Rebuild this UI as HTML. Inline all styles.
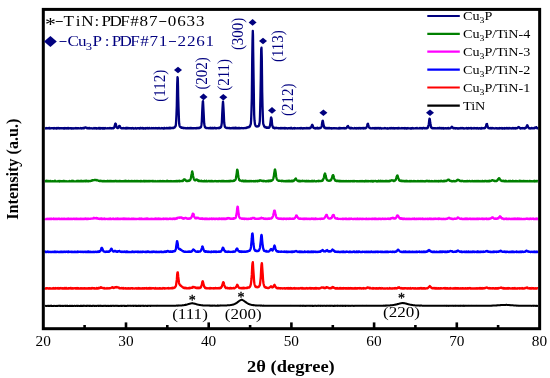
<!DOCTYPE html>
<html><head><meta charset="utf-8"><style>
html,body{margin:0;padding:0;background:#fff;}
svg{display:block;}
.ser{font-family:"Liberation Serif","Times New Roman",serif;}
.mono{font-family:"Liberation Mono","Noto Sans CJK SC",monospace;}
</style></head><body>
<svg width="550" height="378" viewBox="0 0 550 378">
<rect width="550" height="378" fill="#fff"/>
<polyline fill="none" stroke="#00007f" stroke-width="2.3" stroke-linejoin="round" points="45.0,128.46 45.2,128.42 45.5,128.21 45.8,128.53 46.0,128.41 46.2,127.94 46.5,128.10 46.8,128.22 47.0,128.31 47.2,128.37 47.5,128.18 47.8,128.18 48.0,128.37 48.2,128.07 48.5,128.25 48.8,128.26 49.0,128.44 49.2,128.43 49.5,128.01 49.8,128.44 50.0,127.96 50.2,128.24 50.5,128.33 50.8,128.43 51.0,128.35 51.2,128.29 51.5,128.15 51.8,128.19 52.0,128.14 52.2,128.04 52.5,128.17 52.8,128.11 53.0,128.38 53.2,128.15 53.5,128.52 53.8,128.35 54.0,128.47 54.2,128.01 54.5,128.22 54.8,128.18 55.0,128.12 55.2,128.41 55.5,128.38 55.8,128.23 56.0,128.45 56.2,128.24 56.5,128.53 56.8,128.49 57.0,128.03 57.2,128.37 57.5,128.27 57.8,128.33 58.0,128.00 58.2,128.41 58.5,128.43 58.8,127.96 59.0,128.26 59.2,128.40 59.5,128.50 59.8,128.21 60.0,128.26 60.2,128.21 60.5,128.24 60.8,128.43 61.0,128.29 61.2,128.44 61.5,128.27 61.8,128.39 62.0,128.42 62.2,128.42 62.5,128.09 62.8,128.34 63.0,128.40 63.2,128.10 63.5,128.46 63.8,128.16 64.0,128.41 64.2,128.09 64.5,128.04 64.8,128.44 65.0,128.05 65.2,128.41 65.5,128.29 65.8,128.17 66.0,128.44 66.2,128.14 66.5,128.11 66.8,128.45 67.0,128.11 67.2,128.41 67.5,128.38 67.8,127.97 68.0,128.54 68.2,128.12 68.5,128.44 68.8,127.97 69.0,128.22 69.2,128.24 69.5,128.42 69.8,128.40 70.0,128.27 70.2,128.06 70.5,128.06 70.8,128.07 71.0,128.05 71.2,128.52 71.5,128.44 71.8,128.25 72.0,128.45 72.2,128.26 72.5,128.50 72.8,128.40 73.0,128.38 73.2,128.37 73.5,128.51 73.8,128.06 74.0,128.05 74.2,128.31 74.5,128.45 74.8,128.45 75.0,128.38 75.2,128.09 75.5,128.43 75.8,128.42 76.0,128.01 76.2,128.48 76.5,128.40 76.8,128.43 77.0,128.27 77.2,128.44 77.5,128.48 77.8,128.18 78.0,128.43 78.2,128.42 78.5,128.13 78.8,128.14 79.0,128.36 79.2,128.37 79.5,128.41 79.8,128.33 80.0,128.34 80.2,128.46 80.5,128.43 80.8,127.98 81.0,128.07 81.2,128.43 81.5,128.50 81.8,128.28 82.0,128.14 82.2,128.18 82.5,128.47 82.8,128.41 83.0,128.06 83.2,128.37 83.5,127.94 83.8,128.41 84.0,128.34 84.2,128.01 84.5,127.61 84.8,127.55 85.0,127.50 85.2,127.39 85.5,127.43 85.8,127.70 86.0,127.70 86.2,127.89 86.5,128.08 86.8,127.89 87.0,128.22 87.2,128.29 87.5,128.40 87.8,127.90 88.0,128.09 88.2,128.23 88.5,128.21 88.8,128.35 89.0,127.98 89.2,128.50 89.5,128.01 89.8,128.39 90.0,128.42 90.2,128.46 90.5,128.38 90.8,128.27 91.0,128.45 91.2,128.43 91.5,128.26 91.8,128.39 92.0,128.34 92.2,128.44 92.5,128.46 92.8,128.53 93.0,128.36 93.2,128.40 93.5,128.11 93.8,128.38 94.0,128.06 94.2,128.24 94.5,128.32 94.8,128.48 95.0,128.29 95.2,128.04 95.5,128.43 95.8,128.49 96.0,128.13 96.2,128.49 96.5,128.42 96.8,128.13 97.0,128.52 97.2,128.41 97.5,128.32 97.8,128.46 98.0,128.37 98.2,128.47 98.5,127.96 98.8,128.27 99.0,128.46 99.2,128.52 99.5,127.97 99.8,127.97 100.0,128.18 100.2,128.45 100.5,128.28 100.8,128.47 101.0,127.99 101.2,128.27 101.5,128.32 101.8,128.22 102.0,128.26 102.2,128.26 102.5,128.51 102.8,128.19 103.0,127.95 103.2,128.44 103.5,128.29 103.8,128.24 104.0,128.38 104.2,128.50 104.5,128.17 104.8,128.15 105.0,128.42 105.2,127.99 105.5,128.30 105.8,128.13 106.0,128.40 106.2,128.35 106.5,128.45 106.8,128.43 107.0,128.41 107.2,128.16 107.5,128.41 107.8,128.40 108.0,128.13 108.2,128.22 108.5,128.33 108.8,128.32 109.0,128.40 109.2,128.06 109.5,128.15 109.8,127.94 110.0,128.29 110.2,128.29 110.5,128.16 110.8,128.03 111.0,128.27 111.2,128.47 111.5,128.18 111.8,128.26 112.0,128.39 112.2,128.40 112.5,128.15 112.8,128.25 113.0,127.86 113.2,127.98 113.5,128.23 113.8,128.06 114.0,127.82 114.2,127.53 114.5,126.60 114.8,125.66 115.0,124.62 115.2,123.89 115.5,123.56 115.8,123.79 116.0,124.73 116.2,125.96 116.5,126.84 116.8,127.48 117.0,127.61 117.2,127.99 117.5,128.10 117.8,127.83 118.0,128.11 118.2,127.59 118.5,127.51 118.8,126.92 119.0,126.60 119.2,125.82 119.5,125.87 119.8,126.15 120.0,126.53 120.2,127.13 120.5,127.62 120.8,127.90 121.0,128.05 121.2,127.95 121.5,128.24 121.8,128.44 122.0,128.32 122.2,128.24 122.5,128.19 122.8,128.36 123.0,128.11 123.2,128.09 123.5,127.94 123.8,128.38 124.0,128.10 124.2,128.33 124.5,128.26 124.8,128.20 125.0,128.40 125.2,128.38 125.5,128.48 125.8,127.98 126.0,127.94 126.2,128.16 126.5,127.92 126.8,128.43 127.0,127.92 127.2,128.47 127.5,128.45 127.8,128.43 128.0,127.95 128.2,128.20 128.5,128.09 128.8,127.98 129.0,128.34 129.2,128.13 129.5,128.39 129.8,128.20 130.0,128.18 130.2,128.30 130.5,128.13 130.8,128.39 131.0,128.17 131.2,128.49 131.5,128.30 131.8,128.05 132.0,128.06 132.2,128.40 132.5,128.46 132.8,127.92 133.0,128.24 133.2,128.49 133.5,128.38 133.8,128.48 134.0,128.22 134.2,128.51 134.5,128.46 134.8,128.41 135.0,128.31 135.2,128.28 135.5,128.40 135.8,128.05 136.0,128.54 136.2,128.50 136.5,128.47 136.8,128.49 137.0,128.29 137.2,128.20 137.5,128.42 137.8,128.31 138.0,128.10 138.2,128.07 138.5,128.31 138.8,128.13 139.0,128.41 139.2,128.48 139.5,128.17 139.8,128.26 140.0,128.43 140.2,127.91 140.5,128.32 140.8,128.40 141.0,128.03 141.2,128.12 141.5,128.32 141.8,128.31 142.0,128.03 142.2,127.98 142.5,128.13 142.8,127.98 143.0,128.48 143.2,128.40 143.5,128.16 143.8,128.34 144.0,128.50 144.2,128.42 144.5,128.44 144.8,128.14 145.0,128.44 145.2,128.32 145.5,128.49 145.8,128.26 146.0,127.99 146.2,128.35 146.5,128.41 146.8,128.32 147.0,128.45 147.2,128.42 147.5,128.08 147.8,128.39 148.0,128.05 148.2,128.46 148.5,128.27 148.8,128.43 149.0,128.14 149.2,127.98 149.5,127.88 149.8,128.39 150.0,128.34 150.2,128.47 150.5,128.44 150.8,128.47 151.0,128.34 151.2,128.46 151.5,128.27 151.8,128.05 152.0,128.38 152.2,128.19 152.5,128.37 152.8,128.27 153.0,128.39 153.2,128.29 153.5,128.01 153.8,128.28 154.0,128.11 154.2,128.37 154.5,128.40 154.8,128.27 155.0,128.29 155.2,128.39 155.5,128.10 155.8,127.91 156.0,128.41 156.2,128.41 156.5,128.14 156.8,128.19 157.0,128.28 157.2,128.30 157.5,128.23 157.8,128.47 158.0,128.38 158.2,128.07 158.5,128.19 158.8,127.94 159.0,128.42 159.2,128.37 159.5,128.01 159.8,128.38 160.0,128.36 160.2,128.48 160.5,128.41 160.8,128.37 161.0,128.32 161.2,128.07 161.5,128.01 161.8,128.46 162.0,128.41 162.2,128.28 162.5,128.21 162.8,128.47 163.0,128.48 163.2,128.48 163.5,128.20 163.8,128.36 164.0,128.07 164.2,128.45 164.5,127.94 164.8,127.92 165.0,128.29 165.2,128.40 165.5,128.32 165.8,128.35 166.0,128.39 166.2,128.36 166.5,127.98 166.8,127.84 167.0,128.38 167.2,128.29 167.5,128.27 167.8,128.35 168.0,128.05 168.2,128.26 168.5,128.26 168.8,127.94 169.0,128.21 169.2,127.90 169.5,127.87 169.8,128.28 170.0,128.23 170.2,127.77 170.5,127.82 170.8,128.33 171.0,127.98 171.2,127.99 171.5,127.85 171.8,128.04 172.0,128.18 172.2,128.10 172.5,128.02 172.8,128.03 173.0,127.57 173.2,127.63 173.5,127.95 173.8,127.77 174.0,127.67 174.2,127.63 174.5,127.57 174.8,127.28 175.0,127.07 175.2,126.34 175.5,126.27 175.8,125.39 176.0,123.19 176.2,120.11 176.5,114.18 176.8,105.43 177.0,94.66 177.2,84.12 177.5,77.23 177.8,78.29 178.0,86.01 178.2,96.83 178.5,107.24 178.8,115.54 179.0,120.68 179.2,123.99 179.5,125.54 179.8,126.38 180.0,126.81 180.2,126.89 180.5,126.96 180.8,127.27 181.0,127.25 181.2,127.72 181.5,127.79 181.8,127.58 182.0,127.93 182.2,127.91 182.5,127.66 182.8,128.06 183.0,128.00 183.2,127.98 183.5,128.04 183.8,127.72 184.0,128.23 184.2,128.01 184.5,128.20 184.8,128.14 185.0,127.89 185.2,128.23 185.5,128.18 185.8,128.28 186.0,128.34 186.2,128.39 186.5,128.20 186.8,128.31 187.0,128.28 187.2,128.17 187.5,127.85 187.8,128.17 188.0,128.37 188.2,128.36 188.5,128.14 188.8,128.10 189.0,128.00 189.2,128.30 189.5,128.25 189.8,128.41 190.0,128.40 190.2,127.85 190.5,127.91 190.8,128.32 191.0,128.39 191.2,128.35 191.5,127.95 191.8,128.28 192.0,128.34 192.2,128.37 192.5,128.27 192.8,128.35 193.0,128.17 193.2,128.07 193.5,128.15 193.8,128.39 194.0,128.29 194.2,128.19 194.5,128.20 194.8,128.07 195.0,128.24 195.2,128.37 195.5,128.06 195.8,128.04 196.0,128.34 196.2,128.16 196.5,128.02 196.8,128.03 197.0,128.30 197.2,127.89 197.5,128.17 197.8,128.15 198.0,128.10 198.2,128.14 198.5,127.88 198.8,128.17 199.0,127.70 199.2,127.59 199.5,127.70 199.8,127.99 200.0,127.57 200.2,127.67 200.5,127.62 200.8,127.20 201.0,126.94 201.2,126.04 201.5,124.39 201.8,121.52 202.0,116.99 202.2,111.62 202.5,105.77 202.8,101.57 203.0,101.10 203.2,104.34 203.5,110.28 203.8,116.11 204.0,120.27 204.2,123.46 204.5,125.68 204.8,126.26 205.0,127.14 205.2,127.53 205.5,127.26 205.8,127.62 206.0,127.97 206.2,127.67 206.5,128.02 206.8,128.09 207.0,128.16 207.2,128.15 207.5,128.18 207.8,127.93 208.0,127.98 208.2,127.88 208.5,128.13 208.8,128.15 209.0,128.31 209.2,128.32 209.5,128.24 209.8,127.96 210.0,128.20 210.2,128.20 210.5,127.84 210.8,128.40 211.0,128.05 211.2,128.01 211.5,128.22 211.8,128.11 212.0,128.37 212.2,127.88 212.5,128.31 212.8,128.01 213.0,128.32 213.2,128.13 213.5,128.03 213.8,128.34 214.0,128.28 214.2,128.19 214.5,127.79 214.8,127.99 215.0,127.99 215.2,128.08 215.5,128.31 215.8,127.97 216.0,128.29 216.2,128.30 216.5,128.14 216.8,128.09 217.0,128.24 217.2,128.19 217.5,128.07 217.8,127.96 218.0,128.04 218.2,128.07 218.5,128.09 218.8,127.83 219.0,128.19 219.2,127.94 219.5,127.90 219.8,127.41 220.0,127.92 220.2,127.83 220.5,127.55 220.8,127.04 221.0,127.18 221.2,126.56 221.5,124.92 221.8,123.05 222.0,119.34 222.2,114.30 222.5,108.64 222.8,103.74 223.0,101.70 223.2,103.60 223.5,108.33 223.8,114.05 224.0,119.12 224.2,122.77 224.5,124.71 224.8,126.55 225.0,126.70 225.2,127.25 225.5,127.62 225.8,127.57 226.0,127.91 226.2,127.96 226.5,128.00 226.8,127.90 227.0,127.63 227.2,128.13 227.5,128.16 227.8,128.05 228.0,128.17 228.2,128.21 228.5,128.10 228.8,127.86 229.0,128.22 229.2,128.34 229.5,127.99 229.8,128.00 230.0,128.27 230.2,128.33 230.5,128.14 230.8,128.37 231.0,128.21 231.2,128.20 231.5,128.32 231.8,128.16 232.0,127.86 232.2,127.96 232.5,128.15 232.8,128.39 233.0,127.87 233.2,128.23 233.5,128.37 233.8,127.91 234.0,128.32 234.2,127.98 234.5,128.31 234.8,127.86 235.0,128.43 235.2,128.30 235.5,127.81 235.8,128.41 236.0,128.29 236.2,127.84 236.5,127.89 236.8,128.27 237.0,128.20 237.2,128.27 237.5,128.35 237.8,127.91 238.0,127.92 238.2,128.27 238.5,128.39 238.8,127.94 239.0,128.12 239.2,128.18 239.5,127.85 239.8,128.34 240.0,128.36 240.2,128.29 240.5,128.36 240.8,128.20 241.0,128.08 241.2,128.21 241.5,128.04 241.8,127.84 242.0,128.24 242.2,128.24 242.5,128.08 242.8,128.16 243.0,128.15 243.2,128.16 243.5,128.04 243.8,128.24 244.0,128.05 244.2,128.08 244.5,128.07 244.8,128.01 245.0,127.96 245.2,127.96 245.5,127.99 245.8,128.10 246.0,128.07 246.2,128.02 246.5,127.87 246.8,127.81 247.0,127.54 247.2,127.24 247.5,127.64 247.8,127.39 248.0,127.37 248.2,127.03 248.5,127.04 248.8,127.38 249.0,127.13 249.2,126.62 249.5,126.52 249.8,126.57 250.0,126.24 250.2,125.29 250.5,124.93 250.8,123.90 251.0,121.68 251.2,117.98 251.5,110.07 251.8,98.24 252.0,80.73 252.2,60.28 252.5,41.23 252.8,30.79 253.0,35.53 253.2,52.15 253.5,72.86 253.8,91.91 254.0,106.21 254.2,115.11 254.5,120.44 254.8,122.77 255.0,124.37 255.2,124.81 255.5,125.70 255.8,126.05 256.0,126.32 256.2,126.26 256.5,126.40 256.8,126.50 257.0,126.60 257.2,126.35 257.5,126.38 257.8,126.24 258.0,126.47 258.2,126.16 258.5,126.20 258.8,125.85 259.0,125.56 259.2,124.96 259.5,123.53 259.8,121.07 260.0,115.92 260.2,107.87 260.5,94.94 260.8,78.32 261.0,61.51 261.2,49.13 261.5,47.66 261.8,58.40 262.0,75.04 262.2,91.99 262.5,105.74 262.8,114.98 263.0,120.14 263.2,123.46 263.5,124.69 263.8,125.43 264.0,125.67 264.2,126.53 264.5,126.49 264.8,126.83 265.0,127.15 265.2,127.41 265.5,127.13 265.8,127.30 266.0,127.07 266.2,127.59 266.5,127.77 266.8,127.81 267.0,127.79 267.2,127.56 267.5,127.42 267.8,127.83 268.0,127.81 268.2,127.49 268.5,127.42 268.8,127.77 269.0,127.50 269.2,127.54 269.5,127.11 269.8,126.30 270.0,125.56 270.2,124.22 270.5,122.06 270.8,119.41 271.0,117.64 271.2,117.54 271.5,118.32 271.8,120.44 272.0,123.07 272.2,125.01 272.5,126.22 272.8,127.08 273.0,127.20 273.2,127.79 273.5,127.90 273.8,127.89 274.0,127.64 274.2,127.81 274.5,128.20 274.8,127.86 275.0,128.24 275.2,128.09 275.5,128.07 275.8,128.09 276.0,127.71 276.2,128.19 276.5,128.09 276.8,127.86 277.0,128.00 277.2,128.13 277.5,128.09 277.8,128.17 278.0,127.92 278.2,128.27 278.5,128.29 278.8,128.41 279.0,128.09 279.2,128.42 279.5,128.39 279.8,128.20 280.0,128.34 280.2,128.16 280.5,128.01 280.8,127.94 281.0,128.46 281.2,128.37 281.5,128.03 281.8,128.29 282.0,128.20 282.2,128.14 282.5,128.25 282.8,128.35 283.0,127.94 283.2,128.38 283.5,128.43 283.8,128.36 284.0,128.06 284.2,127.89 284.5,128.02 284.8,128.44 285.0,128.30 285.2,128.46 285.5,128.23 285.8,128.01 286.0,128.27 286.2,128.42 286.5,128.25 286.8,128.42 287.0,128.45 287.2,128.48 287.5,128.27 287.8,128.31 288.0,128.44 288.2,128.39 288.5,128.16 288.8,128.08 289.0,128.32 289.2,128.18 289.5,128.28 289.8,128.41 290.0,128.28 290.2,127.94 290.5,128.20 290.8,128.47 291.0,127.91 291.2,128.48 291.5,128.05 291.8,128.37 292.0,128.41 292.2,128.39 292.5,128.50 292.8,128.51 293.0,128.46 293.2,128.14 293.5,128.36 293.8,128.45 294.0,128.50 294.2,128.20 294.5,127.94 294.8,128.42 295.0,128.43 295.2,128.24 295.5,128.28 295.8,128.11 296.0,128.34 296.2,128.45 296.5,128.46 296.8,128.41 297.0,128.31 297.2,128.41 297.5,128.16 297.8,128.27 298.0,128.43 298.2,128.31 298.5,128.34 298.8,128.16 299.0,128.32 299.2,128.36 299.5,128.04 299.8,128.05 300.0,128.20 300.2,127.91 300.5,128.50 300.8,128.41 301.0,128.25 301.2,128.36 301.5,127.93 301.8,128.09 302.0,128.19 302.2,128.20 302.5,128.52 302.8,128.22 303.0,128.28 303.2,128.47 303.5,128.23 303.8,128.39 304.0,128.38 304.2,128.15 304.5,128.17 304.8,128.45 305.0,128.46 305.2,128.37 305.5,128.33 305.8,128.23 306.0,128.01 306.2,128.37 306.5,127.93 306.8,128.39 307.0,128.13 307.2,128.39 307.5,128.39 307.8,127.98 308.0,128.23 308.2,128.39 308.5,128.20 308.8,128.31 309.0,128.41 309.2,127.81 309.5,128.41 309.8,128.40 310.0,128.09 310.2,128.00 310.5,127.76 310.8,127.57 311.0,127.63 311.2,127.15 311.5,126.36 311.8,125.69 312.0,124.98 312.2,124.77 312.5,125.21 312.8,125.89 313.0,126.27 313.2,127.38 313.5,127.80 313.8,127.69 314.0,128.11 314.2,127.87 314.5,128.23 314.8,128.38 315.0,128.37 315.2,128.17 315.5,128.24 315.8,128.42 316.0,127.97 316.2,128.42 316.5,128.34 316.8,128.23 317.0,128.17 317.2,127.83 317.5,128.40 317.8,128.09 318.0,128.44 318.2,128.24 318.5,128.10 318.8,128.37 319.0,127.89 319.2,128.34 319.5,128.29 319.8,127.96 320.0,127.97 320.2,128.00 320.5,128.06 320.8,127.98 321.0,127.38 321.2,127.50 321.5,126.60 321.8,125.47 322.0,124.03 322.2,122.39 322.5,121.06 322.8,120.67 323.0,121.45 323.2,122.87 323.5,124.50 323.8,126.01 324.0,126.56 324.2,127.60 324.5,127.75 324.8,127.53 325.0,128.14 325.2,128.21 325.5,128.23 325.8,127.92 326.0,128.37 326.2,128.37 326.5,128.38 326.8,127.99 327.0,128.38 327.2,128.08 327.5,128.37 327.8,128.25 328.0,128.16 328.2,127.96 328.5,128.35 328.8,128.39 329.0,128.00 329.2,128.40 329.5,127.97 329.8,128.39 330.0,128.28 330.2,128.35 330.5,128.45 330.8,128.25 331.0,128.35 331.2,128.14 331.5,128.06 331.8,128.46 332.0,128.13 332.2,128.45 332.5,128.34 332.8,128.47 333.0,128.46 333.2,128.28 333.5,128.08 333.8,128.43 334.0,128.45 334.2,128.07 334.5,128.19 334.8,128.40 335.0,128.41 335.2,128.47 335.5,128.39 335.8,128.08 336.0,128.24 336.2,128.37 336.5,128.47 336.8,128.29 337.0,128.48 337.2,128.36 337.5,128.43 337.8,128.36 338.0,128.37 338.2,128.34 338.5,128.48 338.8,128.48 339.0,127.94 339.2,128.18 339.5,128.51 339.8,128.05 340.0,128.31 340.2,128.32 340.5,128.28 340.8,128.04 341.0,128.45 341.2,128.26 341.5,128.10 341.8,128.21 342.0,128.16 342.2,128.06 342.5,128.03 342.8,128.38 343.0,128.26 343.2,128.14 343.5,128.02 343.8,128.38 344.0,128.24 344.2,128.39 344.5,128.41 344.8,128.01 345.0,128.47 345.2,128.35 345.5,128.24 345.8,128.36 346.0,128.38 346.2,128.21 346.5,128.06 346.8,127.74 347.0,127.40 347.2,126.57 347.5,126.26 347.8,126.21 348.0,125.97 348.2,126.79 348.5,126.72 348.8,127.30 349.0,127.64 349.2,128.02 349.5,128.10 349.8,128.26 350.0,128.36 350.2,127.90 350.5,128.02 350.8,128.41 351.0,127.99 351.2,127.95 351.5,128.21 351.8,127.98 352.0,128.43 352.2,128.43 352.5,128.24 352.8,128.37 353.0,128.39 353.2,128.33 353.5,128.43 353.8,128.52 354.0,128.27 354.2,128.04 354.5,128.00 354.8,128.24 355.0,128.14 355.2,128.39 355.5,128.17 355.8,128.44 356.0,128.28 356.2,128.32 356.5,128.28 356.8,128.47 357.0,127.99 357.2,128.41 357.5,128.20 357.8,128.18 358.0,128.26 358.2,128.34 358.5,128.46 358.8,128.09 359.0,128.37 359.2,128.23 359.5,128.03 359.8,128.20 360.0,128.42 360.2,128.34 360.5,128.49 360.8,128.09 361.0,128.44 361.2,128.47 361.5,128.45 361.8,128.27 362.0,128.05 362.2,128.33 362.5,128.32 362.8,127.98 363.0,128.28 363.2,128.21 363.5,128.44 363.8,127.93 364.0,127.88 364.2,127.91 364.5,128.33 364.8,128.03 365.0,128.04 365.2,128.24 365.5,128.01 365.8,128.28 366.0,127.70 366.2,127.96 366.5,127.42 366.8,126.66 367.0,125.99 367.2,125.22 367.5,124.05 367.8,123.96 368.0,123.62 368.2,124.92 368.5,125.61 368.8,126.58 369.0,127.05 369.2,127.67 369.5,127.91 369.8,127.90 370.0,127.91 370.2,128.32 370.5,127.88 370.8,128.32 371.0,128.19 371.2,128.30 371.5,128.38 371.8,128.42 372.0,128.23 372.2,128.17 372.5,128.30 372.8,128.28 373.0,127.95 373.2,128.07 373.5,128.44 373.8,128.42 374.0,128.30 374.2,128.13 374.5,128.41 374.8,128.05 375.0,128.43 375.2,128.11 375.5,128.00 375.8,128.23 376.0,128.44 376.2,128.22 376.5,128.33 376.8,127.94 377.0,128.46 377.2,128.28 377.5,127.98 377.8,128.33 378.0,128.45 378.2,128.35 378.5,128.21 378.8,127.92 379.0,128.46 379.2,128.42 379.5,128.54 379.8,128.33 380.0,128.52 380.2,127.96 380.5,128.03 380.8,128.38 381.0,128.38 381.2,128.34 381.5,128.53 381.8,128.13 382.0,128.40 382.2,128.36 382.5,128.43 382.8,128.36 383.0,128.35 383.2,128.44 383.5,128.48 383.8,128.44 384.0,128.21 384.2,128.38 384.5,128.43 384.8,128.06 385.0,128.20 385.2,128.30 385.5,128.34 385.8,128.19 386.0,128.28 386.2,128.42 386.5,128.43 386.8,128.32 387.0,128.48 387.2,128.48 387.5,128.40 387.8,128.14 388.0,128.51 388.2,128.36 388.5,128.53 388.8,128.42 389.0,128.40 389.2,128.41 389.5,128.31 389.8,128.22 390.0,127.99 390.2,128.26 390.5,128.18 390.8,128.50 391.0,128.23 391.2,128.18 391.5,128.20 391.8,127.91 392.0,128.26 392.2,128.49 392.5,128.43 392.8,128.45 393.0,128.10 393.2,128.19 393.5,128.52 393.8,128.06 394.0,128.38 394.2,128.36 394.5,128.47 394.8,128.23 395.0,128.47 395.2,128.23 395.5,128.31 395.8,128.16 396.0,128.20 396.2,128.37 396.5,128.43 396.8,128.15 397.0,128.26 397.2,128.28 397.5,128.21 397.8,128.54 398.0,128.53 398.2,127.91 398.5,128.39 398.8,128.06 399.0,128.01 399.2,128.45 399.5,128.39 399.8,128.41 400.0,128.44 400.2,128.34 400.5,128.35 400.8,128.31 401.0,128.14 401.2,128.40 401.5,128.43 401.8,128.30 402.0,128.04 402.2,128.40 402.5,128.29 402.8,128.23 403.0,128.43 403.2,128.40 403.5,128.13 403.8,128.05 404.0,128.05 404.2,128.32 404.5,128.54 404.8,128.40 405.0,128.01 405.2,128.35 405.5,128.16 405.8,128.46 406.0,128.19 406.2,128.45 406.5,128.52 406.8,128.20 407.0,128.31 407.2,128.47 407.5,128.13 407.8,128.16 408.0,127.96 408.2,128.24 408.5,128.35 408.8,128.33 409.0,128.42 409.2,128.44 409.5,128.29 409.8,128.37 410.0,128.25 410.2,128.49 410.5,128.51 410.8,128.37 411.0,128.10 411.2,128.52 411.5,128.10 411.8,128.42 412.0,128.15 412.2,128.43 412.5,128.05 412.8,128.24 413.0,128.11 413.2,128.39 413.5,128.51 413.8,128.23 414.0,128.43 414.2,128.44 414.5,128.40 414.8,128.43 415.0,128.42 415.2,128.11 415.5,128.44 415.8,128.42 416.0,128.25 416.2,128.36 416.5,128.43 416.8,127.99 417.0,128.28 417.2,128.08 417.5,128.34 417.8,128.38 418.0,128.40 418.2,128.33 418.5,128.41 418.8,128.42 419.0,128.33 419.2,128.40 419.5,128.11 419.8,127.91 420.0,128.38 420.2,128.33 420.5,128.15 420.8,128.24 421.0,127.96 421.2,128.39 421.5,128.29 421.8,128.37 422.0,128.47 422.2,128.12 422.5,128.45 422.8,128.12 423.0,127.94 423.2,128.14 423.5,127.92 423.8,128.28 424.0,128.00 424.2,128.38 424.5,128.46 424.8,128.25 425.0,128.33 425.2,128.32 425.5,128.34 425.8,128.03 426.0,128.00 426.2,128.28 426.5,128.25 426.8,128.30 427.0,128.16 427.2,127.77 427.5,128.08 427.8,127.75 428.0,127.52 428.2,126.55 428.5,125.42 428.8,124.14 429.0,122.25 429.2,120.24 429.5,118.73 429.8,119.09 430.0,120.52 430.2,122.50 430.5,124.58 430.8,125.77 431.0,127.12 431.2,127.57 431.5,127.70 431.8,128.09 432.0,127.77 432.2,128.14 432.5,128.34 432.8,127.91 433.0,128.07 433.2,128.04 433.5,128.11 433.8,128.39 434.0,128.10 434.2,128.37 434.5,128.19 434.8,128.36 435.0,128.12 435.2,128.37 435.5,128.31 435.8,128.11 436.0,128.33 436.2,128.29 436.5,128.40 436.8,128.28 437.0,128.17 437.2,128.27 437.5,128.38 437.8,128.35 438.0,127.95 438.2,128.46 438.5,128.44 438.8,128.33 439.0,128.35 439.2,127.89 439.5,128.37 439.8,127.91 440.0,128.41 440.2,128.34 440.5,128.03 440.8,128.14 441.0,128.28 441.2,128.50 441.5,128.45 441.8,127.98 442.0,127.98 442.2,128.42 442.5,128.21 442.8,128.46 443.0,128.35 443.2,128.08 443.5,128.01 443.8,128.44 444.0,128.15 444.2,128.27 444.5,128.29 444.8,128.34 445.0,128.53 445.2,128.11 445.5,128.20 445.8,128.11 446.0,128.18 446.2,128.41 446.5,128.36 446.8,128.52 447.0,128.37 447.2,128.24 447.5,128.40 447.8,128.42 448.0,128.03 448.2,127.98 448.5,127.94 448.8,128.50 449.0,128.50 449.2,128.38 449.5,128.32 449.8,128.26 450.0,128.40 450.2,128.32 450.5,128.00 450.8,128.04 451.0,127.62 451.2,127.31 451.5,126.99 451.8,126.65 452.0,126.94 452.2,126.98 452.5,127.57 452.8,127.53 453.0,128.04 453.2,127.77 453.5,128.35 453.8,128.23 454.0,128.38 454.2,128.34 454.5,128.42 454.8,128.02 455.0,128.42 455.2,128.13 455.5,128.51 455.8,128.30 456.0,128.16 456.2,128.12 456.5,128.15 456.8,128.43 457.0,128.36 457.2,128.46 457.5,128.52 457.8,128.47 458.0,128.13 458.2,128.06 458.5,128.54 458.8,128.47 459.0,128.38 459.2,128.32 459.5,128.16 459.8,128.47 460.0,128.52 460.2,128.44 460.5,128.27 460.8,128.08 461.0,128.41 461.2,128.18 461.5,128.24 461.8,128.31 462.0,128.02 462.2,128.09 462.5,128.40 462.8,127.95 463.0,128.43 463.2,128.23 463.5,128.46 463.8,128.15 464.0,128.52 464.2,128.43 464.5,128.51 464.8,128.41 465.0,128.37 465.2,128.44 465.5,128.41 465.8,128.46 466.0,128.25 466.2,128.36 466.5,127.96 466.8,128.48 467.0,128.46 467.2,128.48 467.5,128.28 467.8,128.46 468.0,128.18 468.2,128.21 468.5,127.99 468.8,128.38 469.0,128.14 469.2,128.17 469.5,128.42 469.8,128.15 470.0,128.42 470.2,128.45 470.5,127.91 470.8,128.06 471.0,128.43 471.2,128.49 471.5,127.95 471.8,128.53 472.0,128.14 472.2,128.41 472.5,128.24 472.8,128.34 473.0,128.42 473.2,128.40 473.5,128.36 473.8,128.47 474.0,127.96 474.2,128.17 474.5,128.40 474.8,128.05 475.0,128.42 475.2,128.10 475.5,128.45 475.8,128.33 476.0,128.51 476.2,128.18 476.5,128.39 476.8,128.49 477.0,128.46 477.2,128.07 477.5,128.41 477.8,128.29 478.0,128.37 478.2,128.51 478.5,128.21 478.8,128.50 479.0,128.44 479.2,128.21 479.5,128.17 479.8,128.44 480.0,128.36 480.2,128.48 480.5,128.38 480.8,128.50 481.0,128.47 481.2,128.06 481.5,128.49 481.8,128.29 482.0,127.98 482.2,128.42 482.5,128.35 482.8,128.45 483.0,128.44 483.2,128.41 483.5,128.15 483.8,128.05 484.0,128.04 484.2,127.98 484.5,128.27 484.8,128.24 485.0,128.06 485.2,127.90 485.5,127.17 485.8,127.05 486.0,126.32 486.2,125.09 486.5,124.23 486.8,124.15 487.0,123.93 487.2,125.21 487.5,126.02 487.8,126.85 488.0,127.39 488.2,127.84 488.5,128.14 488.8,128.20 489.0,127.91 489.2,128.29 489.5,128.32 489.8,128.32 490.0,128.41 490.2,128.01 490.5,128.21 490.8,128.17 491.0,128.05 491.2,128.46 491.5,128.25 491.8,128.43 492.0,128.35 492.2,127.93 492.5,128.01 492.8,128.19 493.0,128.38 493.2,128.42 493.5,128.33 493.8,128.10 494.0,128.28 494.2,128.39 494.5,128.52 494.8,128.41 495.0,128.40 495.2,128.29 495.5,128.37 495.8,128.37 496.0,128.08 496.2,128.32 496.5,128.06 496.8,128.16 497.0,128.51 497.2,128.53 497.5,128.44 497.8,128.44 498.0,128.19 498.2,128.41 498.5,128.48 498.8,128.49 499.0,128.23 499.2,128.07 499.5,128.46 499.8,128.17 500.0,128.08 500.2,128.29 500.5,128.27 500.8,128.23 501.0,128.46 501.2,128.47 501.5,128.12 501.8,128.47 502.0,127.97 502.2,128.26 502.5,128.47 502.8,128.17 503.0,128.42 503.2,128.27 503.5,128.40 503.8,128.49 504.0,128.50 504.2,128.30 504.5,128.07 504.8,128.47 505.0,128.30 505.2,128.53 505.5,128.43 505.8,128.28 506.0,128.27 506.2,128.05 506.5,128.27 506.8,128.18 507.0,128.47 507.2,128.00 507.5,128.09 507.8,128.40 508.0,128.36 508.2,128.28 508.5,128.34 508.8,128.51 509.0,128.05 509.2,128.19 509.5,128.42 509.8,128.44 510.0,127.96 510.2,128.40 510.5,128.42 510.8,128.45 511.0,128.43 511.2,128.22 511.5,128.50 511.8,128.45 512.0,128.46 512.2,128.45 512.5,128.04 512.8,128.22 513.0,128.46 513.2,128.30 513.5,128.31 513.8,128.44 514.0,128.03 514.2,128.46 514.5,128.15 514.8,128.24 515.0,128.19 515.2,128.03 515.5,128.51 515.8,128.31 516.0,128.18 516.2,128.42 516.5,128.21 516.8,128.34 517.0,128.31 517.2,128.24 517.5,127.65 517.8,127.64 518.0,127.43 518.2,127.10 518.5,127.07 518.8,126.97 519.0,127.17 519.2,127.59 519.5,127.72 519.8,127.72 520.0,128.19 520.2,128.42 520.5,128.13 520.8,128.47 521.0,128.12 521.2,128.32 521.5,128.37 521.8,128.17 522.0,128.37 522.2,128.08 522.5,127.97 522.8,128.33 523.0,128.39 523.2,128.34 523.5,128.19 523.8,128.40 524.0,128.35 524.2,128.02 524.5,128.47 524.8,128.26 525.0,128.09 525.2,128.29 525.5,128.29 525.8,127.98 526.0,127.75 526.2,127.23 526.5,126.61 526.8,126.13 527.0,125.46 527.2,125.16 527.5,125.38 527.8,126.14 528.0,126.97 528.2,127.09 528.5,127.80 528.8,127.78 529.0,128.32 529.2,127.99 529.5,128.13 529.8,128.41 530.0,128.09 530.2,128.05 530.5,128.48 530.8,128.40 531.0,128.44 531.2,128.33 531.5,128.00 531.8,128.19 532.0,127.93 532.2,128.41 532.5,128.39 532.8,128.41 533.0,128.44 533.2,128.46 533.5,128.37 533.8,128.12 534.0,128.04 534.2,128.42 534.5,127.79 534.8,128.11 535.0,127.71 535.2,127.94 535.5,127.37 535.8,127.42 536.0,127.42 536.2,127.10 536.5,127.64 536.8,127.70 537.0,128.16 537.2,128.28 537.5,127.99 537.8,128.38 538.0,128.23"/>
<polyline fill="none" stroke="#008000" stroke-width="2.3" stroke-linejoin="round" points="45.0,181.20 45.2,181.12 45.5,181.34 45.8,180.90 46.0,181.42 46.2,181.01 46.5,180.80 46.8,181.27 47.0,181.23 47.2,181.28 47.5,180.94 47.8,180.89 48.0,181.24 48.2,180.99 48.5,181.37 48.8,181.26 49.0,181.32 49.2,181.27 49.5,181.04 49.8,181.39 50.0,181.38 50.2,181.37 50.5,180.99 50.8,180.85 51.0,181.19 51.2,181.31 51.5,181.37 51.8,181.37 52.0,181.43 52.2,181.32 52.5,181.24 52.8,181.09 53.0,181.07 53.2,181.30 53.5,181.30 53.8,181.37 54.0,181.16 54.2,181.16 54.5,180.96 54.8,181.11 55.0,181.22 55.2,180.81 55.5,181.38 55.8,181.10 56.0,181.25 56.2,181.32 56.5,181.40 56.8,181.43 57.0,181.39 57.2,181.35 57.5,181.30 57.8,181.26 58.0,181.21 58.2,180.88 58.5,181.33 58.8,181.15 59.0,181.25 59.2,181.41 59.5,181.02 59.8,181.37 60.0,181.29 60.2,181.06 60.5,181.33 60.8,181.36 61.0,181.16 61.2,181.40 61.5,181.43 61.8,181.14 62.0,181.43 62.2,181.42 62.5,181.25 62.8,181.39 63.0,181.36 63.2,180.88 63.5,181.34 63.8,181.34 64.0,181.02 64.2,181.17 64.5,181.23 64.8,180.88 65.0,181.34 65.2,181.31 65.5,181.32 65.8,181.28 66.0,181.35 66.2,181.35 66.5,181.18 66.8,181.37 67.0,181.39 67.2,181.38 67.5,181.30 67.8,181.33 68.0,181.35 68.2,181.29 68.5,181.29 68.8,181.43 69.0,181.31 69.2,181.22 69.5,180.89 69.8,181.06 70.0,181.34 70.2,181.29 70.5,181.33 70.8,181.28 71.0,181.39 71.2,181.01 71.5,180.93 71.8,181.32 72.0,181.32 72.2,180.77 72.5,181.15 72.8,181.38 73.0,180.91 73.2,181.14 73.5,181.01 73.8,181.07 74.0,181.37 74.2,181.30 74.5,181.42 74.8,181.28 75.0,181.36 75.2,181.42 75.5,181.41 75.8,181.29 76.0,181.39 76.2,181.39 76.5,181.19 76.8,180.88 77.0,181.40 77.2,181.41 77.5,180.86 77.8,181.42 78.0,181.33 78.2,181.06 78.5,181.27 78.8,180.95 79.0,181.35 79.2,181.33 79.5,181.29 79.8,181.32 80.0,180.89 80.2,181.07 80.5,181.08 80.8,181.33 81.0,181.10 81.2,180.82 81.5,181.24 81.8,181.03 82.0,181.39 82.2,181.22 82.5,181.38 82.8,181.34 83.0,180.84 83.2,180.90 83.5,181.28 83.8,181.08 84.0,181.08 84.2,181.02 84.5,181.18 84.8,180.99 85.0,181.29 85.2,180.83 85.5,181.32 85.8,180.92 86.0,181.29 86.2,180.87 86.5,181.17 86.8,180.86 87.0,181.12 87.2,180.91 87.5,181.29 87.8,181.09 88.0,181.25 88.2,181.04 88.5,180.84 88.8,181.26 89.0,181.26 89.2,180.92 89.5,181.21 89.8,181.22 90.0,181.16 90.2,180.79 90.5,180.84 90.8,181.00 91.0,180.97 91.2,180.73 91.5,180.83 91.8,180.52 92.0,180.67 92.2,180.27 92.5,180.22 92.8,180.44 93.0,180.37 93.2,180.33 93.5,180.13 93.8,180.17 94.0,180.16 94.2,180.18 94.5,179.96 94.8,179.94 95.0,180.04 95.2,179.91 95.5,179.88 95.8,180.12 96.0,180.15 96.2,180.11 96.5,180.35 96.8,179.91 97.0,179.98 97.2,180.21 97.5,180.40 97.8,180.43 98.0,180.51 98.2,180.50 98.5,180.79 98.8,180.89 99.0,180.92 99.2,180.99 99.5,181.12 99.8,181.05 100.0,180.67 100.2,180.85 100.5,181.15 100.8,180.70 101.0,181.11 101.2,181.02 101.5,180.89 101.8,181.20 102.0,181.21 102.2,181.36 102.5,181.30 102.8,181.02 103.0,180.96 103.2,181.21 103.5,181.27 103.8,180.91 104.0,181.02 104.2,181.37 104.5,181.24 104.8,180.97 105.0,181.36 105.2,181.39 105.5,181.13 105.8,181.25 106.0,181.10 106.2,181.28 106.5,181.24 106.8,181.28 107.0,181.30 107.2,180.86 107.5,180.83 107.8,181.37 108.0,180.93 108.2,181.28 108.5,181.39 108.8,181.04 109.0,181.28 109.2,181.13 109.5,180.87 109.8,180.87 110.0,181.34 110.2,181.31 110.5,181.04 110.8,181.22 111.0,180.95 111.2,181.43 111.5,181.36 111.8,181.37 112.0,180.98 112.2,181.23 112.5,181.18 112.8,181.07 113.0,181.30 113.2,181.41 113.5,181.29 113.8,181.36 114.0,180.97 114.2,181.21 114.5,181.36 114.8,181.17 115.0,180.86 115.2,180.93 115.5,181.17 115.8,181.00 116.0,181.29 116.2,180.90 116.5,181.34 116.8,181.33 117.0,181.33 117.2,180.94 117.5,181.33 117.8,181.35 118.0,181.34 118.2,181.41 118.5,181.30 118.8,181.09 119.0,180.92 119.2,180.95 119.5,181.36 119.8,181.31 120.0,180.88 120.2,181.13 120.5,181.38 120.8,181.34 121.0,181.25 121.2,181.26 121.5,181.26 121.8,181.09 122.0,181.32 122.2,181.31 122.5,181.13 122.8,181.18 123.0,181.25 123.2,181.05 123.5,181.18 123.8,181.40 124.0,180.97 124.2,180.90 124.5,181.24 124.8,181.33 125.0,181.06 125.2,180.84 125.5,181.30 125.8,180.91 126.0,181.29 126.2,181.13 126.5,180.93 126.8,181.11 127.0,181.35 127.2,181.12 127.5,181.34 127.8,181.35 128.0,181.39 128.2,180.85 128.5,181.06 128.8,181.29 129.0,180.93 129.2,181.39 129.5,181.21 129.8,181.23 130.0,181.07 130.2,181.30 130.5,181.34 130.8,181.12 131.0,181.23 131.2,181.37 131.5,180.85 131.8,181.18 132.0,181.27 132.2,181.40 132.5,181.34 132.8,181.31 133.0,181.05 133.2,181.34 133.5,181.39 133.8,181.43 134.0,180.96 134.2,180.95 134.5,180.86 134.8,181.26 135.0,181.28 135.2,180.95 135.5,181.18 135.8,181.21 136.0,181.24 136.2,181.24 136.5,181.20 136.8,180.87 137.0,181.36 137.2,181.08 137.5,181.30 137.8,181.20 138.0,180.99 138.2,181.13 138.5,181.31 138.8,181.18 139.0,181.32 139.2,181.08 139.5,181.15 139.8,181.33 140.0,181.30 140.2,180.89 140.5,181.19 140.8,181.42 141.0,181.16 141.2,181.36 141.5,180.96 141.8,181.39 142.0,181.28 142.2,181.39 142.5,181.32 142.8,181.30 143.0,181.35 143.2,181.19 143.5,180.95 143.8,180.92 144.0,181.30 144.2,180.92 144.5,181.16 144.8,181.41 145.0,180.95 145.2,181.32 145.5,180.96 145.8,181.35 146.0,181.31 146.2,181.41 146.5,180.89 146.8,181.19 147.0,181.32 147.2,181.35 147.5,181.43 147.8,181.02 148.0,181.42 148.2,181.10 148.5,180.91 148.8,181.29 149.0,181.42 149.2,181.32 149.5,180.90 149.8,181.36 150.0,181.35 150.2,181.06 150.5,181.23 150.8,181.17 151.0,181.19 151.2,180.93 151.5,181.20 151.8,181.21 152.0,181.16 152.2,181.33 152.5,181.37 152.8,181.06 153.0,180.83 153.2,181.30 153.5,181.24 153.8,181.33 154.0,181.28 154.2,181.41 154.5,181.37 154.8,181.34 155.0,181.15 155.2,180.98 155.5,181.27 155.8,181.42 156.0,181.28 156.2,181.29 156.5,181.33 156.8,181.25 157.0,181.33 157.2,181.37 157.5,181.20 157.8,181.31 158.0,181.04 158.2,181.17 158.5,181.15 158.8,181.35 159.0,181.30 159.2,181.32 159.5,181.26 159.8,180.89 160.0,181.28 160.2,181.15 160.5,181.12 160.8,180.89 161.0,181.37 161.2,181.30 161.5,181.38 161.8,181.07 162.0,181.14 162.2,181.12 162.5,180.87 162.8,181.32 163.0,181.06 163.2,181.05 163.5,181.30 163.8,180.99 164.0,181.28 164.2,181.19 164.5,181.09 164.8,181.28 165.0,181.22 165.2,181.31 165.5,181.36 165.8,181.20 166.0,181.25 166.2,181.41 166.5,181.30 166.8,181.12 167.0,180.79 167.2,181.31 167.5,181.31 167.8,180.88 168.0,181.19 168.2,181.26 168.5,181.27 168.8,181.15 169.0,181.35 169.2,181.22 169.5,181.39 169.8,181.28 170.0,181.12 170.2,181.33 170.5,181.15 170.8,181.31 171.0,181.05 171.2,181.36 171.5,181.31 171.8,181.12 172.0,181.26 172.2,181.23 172.5,181.38 172.8,181.37 173.0,181.33 173.2,181.31 173.5,181.09 173.8,181.28 174.0,181.13 174.2,181.24 174.5,181.05 174.8,181.20 175.0,181.32 175.2,181.12 175.5,181.36 175.8,181.13 176.0,180.88 176.2,181.35 176.5,181.38 176.8,180.89 177.0,181.00 177.2,180.89 177.5,181.38 177.8,181.25 178.0,181.02 178.2,180.88 178.5,180.90 178.8,181.03 179.0,180.98 179.2,181.28 179.5,180.79 179.8,181.24 180.0,181.01 180.2,181.24 180.5,181.16 180.8,181.01 181.0,180.89 181.2,181.07 181.5,181.17 181.8,181.15 182.0,180.95 182.2,180.74 182.5,180.73 182.8,180.98 183.0,180.82 183.2,180.52 183.5,179.87 183.8,179.49 184.0,179.71 184.2,179.50 184.5,179.38 184.8,179.72 185.0,179.88 185.2,180.13 185.5,180.03 185.8,180.72 186.0,180.74 186.2,180.79 186.5,181.02 186.8,181.00 187.0,181.00 187.2,180.88 187.5,181.01 187.8,181.06 188.0,180.60 188.2,180.95 188.5,180.97 188.8,180.39 189.0,180.94 189.2,180.66 189.5,180.35 189.8,180.52 190.0,180.32 190.2,179.68 190.5,179.53 190.8,178.28 191.0,177.61 191.2,176.23 191.5,174.70 191.8,173.31 192.0,172.11 192.2,171.44 192.5,172.36 192.8,173.82 193.0,175.45 193.2,176.75 193.5,177.60 193.8,178.85 194.0,179.37 194.2,179.94 194.5,179.95 194.8,180.31 195.0,180.37 195.2,180.23 195.5,180.30 195.8,179.83 196.0,180.01 196.2,179.69 196.5,179.60 196.8,179.43 197.0,179.60 197.2,179.87 197.5,179.94 197.8,180.21 198.0,180.77 198.2,180.84 198.5,181.02 198.8,180.54 199.0,181.01 199.2,180.80 199.5,181.13 199.8,180.79 200.0,180.98 200.2,181.19 200.5,181.21 200.8,181.02 201.0,181.29 201.2,181.26 201.5,180.81 201.8,180.97 202.0,181.15 202.2,181.17 202.5,181.32 202.8,181.27 203.0,181.33 203.2,181.24 203.5,181.14 203.8,181.19 204.0,181.15 204.2,181.36 204.5,180.82 204.8,181.20 205.0,181.10 205.2,181.24 205.5,181.32 205.8,181.35 206.0,181.33 206.2,181.31 206.5,180.79 206.8,181.31 207.0,181.29 207.2,181.27 207.5,181.29 207.8,181.32 208.0,181.28 208.2,181.31 208.5,180.98 208.8,181.10 209.0,180.91 209.2,181.15 209.5,181.33 209.8,181.32 210.0,181.35 210.2,180.93 210.5,181.41 210.8,181.32 211.0,181.17 211.2,181.04 211.5,180.87 211.8,181.22 212.0,181.32 212.2,180.94 212.5,181.23 212.8,181.36 213.0,181.30 213.2,181.40 213.5,181.33 213.8,181.15 214.0,181.33 214.2,181.24 214.5,181.21 214.8,181.07 215.0,180.98 215.2,180.91 215.5,181.19 215.8,181.35 216.0,181.13 216.2,181.15 216.5,181.40 216.8,181.15 217.0,181.33 217.2,181.16 217.5,181.33 217.8,181.26 218.0,181.24 218.2,181.25 218.5,181.32 218.8,181.00 219.0,181.08 219.2,181.27 219.5,181.00 219.8,181.03 220.0,181.14 220.2,181.04 220.5,181.26 220.8,181.10 221.0,180.96 221.2,181.31 221.5,181.12 221.8,180.88 222.0,181.26 222.2,181.32 222.5,180.94 222.8,181.27 223.0,181.12 223.2,180.94 223.5,180.85 223.8,181.23 224.0,180.99 224.2,181.37 224.5,181.23 224.8,181.15 225.0,181.28 225.2,181.23 225.5,181.21 225.8,181.29 226.0,181.21 226.2,181.24 226.5,181.35 226.8,181.25 227.0,180.98 227.2,181.24 227.5,181.31 227.8,181.27 228.0,181.18 228.2,181.32 228.5,180.85 228.8,181.14 229.0,181.32 229.2,181.16 229.5,181.02 229.8,180.79 230.0,181.24 230.2,181.21 230.5,180.98 230.8,181.27 231.0,180.86 231.2,180.99 231.5,180.81 231.8,180.86 232.0,181.16 232.2,181.11 232.5,181.11 232.8,180.92 233.0,181.10 233.2,181.01 233.5,180.51 233.8,180.75 234.0,180.71 234.2,180.44 234.5,180.72 234.8,180.18 235.0,179.95 235.2,180.01 235.5,179.69 235.8,178.79 236.0,177.87 236.2,176.42 236.5,174.63 236.8,172.61 237.0,170.61 237.2,169.57 237.5,170.04 237.8,171.77 238.0,173.42 238.2,175.54 238.5,177.29 238.8,178.34 239.0,179.14 239.2,179.99 239.5,179.80 239.8,180.52 240.0,180.26 240.2,180.66 240.5,180.48 240.8,180.64 241.0,180.88 241.2,180.86 241.5,181.03 241.8,181.08 242.0,181.00 242.2,180.63 242.5,181.20 242.8,181.17 243.0,180.83 243.2,181.24 243.5,181.26 243.8,181.19 244.0,180.73 244.2,181.14 244.5,181.27 244.8,181.28 245.0,181.20 245.2,180.82 245.5,181.28 245.8,180.83 246.0,181.28 246.2,181.24 246.5,181.05 246.8,181.20 247.0,180.95 247.2,181.23 247.5,181.30 247.8,181.29 248.0,181.02 248.2,180.87 248.5,181.32 248.8,181.24 249.0,181.24 249.2,181.34 249.5,181.36 249.8,180.88 250.0,181.07 250.2,180.85 250.5,181.13 250.8,181.18 251.0,181.31 251.2,181.39 251.5,180.94 251.8,181.16 252.0,181.14 252.2,181.20 252.5,181.22 252.8,181.25 253.0,181.22 253.2,181.35 253.5,181.29 253.8,180.95 254.0,181.34 254.2,181.31 254.5,181.25 254.8,181.21 255.0,181.26 255.2,180.98 255.5,180.89 255.8,181.11 256.0,181.22 256.2,181.14 256.5,181.01 256.8,180.91 257.0,181.05 257.2,180.83 257.5,181.34 257.8,181.26 258.0,181.23 258.2,181.04 258.5,180.71 258.8,180.91 259.0,181.10 259.2,180.77 259.5,180.86 259.8,180.74 260.0,180.21 260.2,180.54 260.5,180.53 260.8,180.32 261.0,180.51 261.2,180.76 261.5,180.60 261.8,180.78 262.0,181.03 262.2,181.02 262.5,181.09 262.8,181.11 263.0,180.91 263.2,180.82 263.5,181.20 263.8,180.97 264.0,181.06 264.2,181.01 264.5,180.83 264.8,181.09 265.0,181.25 265.2,181.30 265.5,181.25 265.8,181.33 266.0,181.25 266.2,181.24 266.5,181.11 266.8,180.85 267.0,181.25 267.2,181.23 267.5,180.87 267.8,180.85 268.0,181.07 268.2,181.23 268.5,180.74 268.8,181.20 269.0,181.00 269.2,180.66 269.5,180.79 269.8,181.01 270.0,181.07 270.2,180.51 270.5,180.89 270.8,181.04 271.0,180.50 271.2,180.87 271.5,180.81 271.8,180.79 272.0,180.07 272.2,180.12 272.5,180.14 272.8,179.92 273.0,179.33 273.2,178.84 273.5,177.95 273.8,176.56 274.0,174.93 274.2,173.31 274.5,171.58 274.8,169.69 275.0,169.41 275.2,170.00 275.5,171.42 275.8,173.31 276.0,175.02 276.2,176.66 276.5,177.84 276.8,178.86 277.0,179.46 277.2,179.85 277.5,180.11 277.8,180.09 278.0,180.52 278.2,180.65 278.5,180.85 278.8,180.77 279.0,180.92 279.2,180.72 279.5,180.75 279.8,180.61 280.0,180.75 280.2,180.88 280.5,180.86 280.8,180.91 281.0,180.99 281.2,180.91 281.5,181.24 281.8,180.84 282.0,181.01 282.2,181.19 282.5,181.15 282.8,180.80 283.0,181.18 283.2,181.27 283.5,181.20 283.8,181.20 284.0,180.95 284.2,181.17 284.5,181.29 284.8,181.26 285.0,181.19 285.2,181.26 285.5,181.30 285.8,180.97 286.0,181.29 286.2,181.14 286.5,180.86 286.8,181.36 287.0,181.27 287.2,181.22 287.5,180.98 287.8,181.21 288.0,180.96 288.2,180.96 288.5,180.73 288.8,181.21 289.0,181.14 289.2,181.31 289.5,180.82 289.8,181.05 290.0,181.31 290.2,180.94 290.5,181.22 290.8,180.90 291.0,181.13 291.2,181.24 291.5,181.32 291.8,180.77 292.0,181.05 292.2,180.78 292.5,181.27 292.8,180.97 293.0,180.77 293.2,180.81 293.5,181.02 293.8,180.48 294.0,180.64 294.2,180.54 294.5,179.79 294.8,179.75 295.0,179.29 295.2,178.93 295.5,178.77 295.8,178.36 296.0,179.02 296.2,179.53 296.5,179.90 296.8,180.26 297.0,180.28 297.2,180.48 297.5,180.59 297.8,180.86 298.0,181.01 298.2,180.76 298.5,180.75 298.8,181.28 299.0,180.87 299.2,181.27 299.5,181.29 299.8,180.81 300.0,181.30 300.2,180.91 300.5,181.26 300.8,181.27 301.0,181.03 301.2,181.08 301.5,181.21 301.8,180.98 302.0,181.20 302.2,180.77 302.5,181.14 302.8,180.77 303.0,180.87 303.2,180.82 303.5,181.20 303.8,181.22 304.0,180.92 304.2,181.01 304.5,180.99 304.8,181.25 305.0,181.28 305.2,181.14 305.5,181.37 305.8,180.86 306.0,181.29 306.2,181.36 306.5,181.03 306.8,181.40 307.0,180.97 307.2,181.00 307.5,181.31 307.8,181.33 308.0,181.38 308.2,181.02 308.5,181.00 308.8,181.33 309.0,181.03 309.2,181.27 309.5,181.22 309.8,181.08 310.0,181.28 310.2,181.12 310.5,181.29 310.8,181.26 311.0,181.21 311.2,181.35 311.5,181.29 311.8,181.13 312.0,180.80 312.2,181.28 312.5,181.31 312.8,181.21 313.0,180.94 313.2,181.17 313.5,181.27 313.8,181.21 314.0,181.08 314.2,180.79 314.5,180.98 314.8,181.28 315.0,181.22 315.2,181.24 315.5,181.36 315.8,181.37 316.0,181.34 316.2,181.29 316.5,181.17 316.8,181.28 317.0,181.23 317.2,181.18 317.5,181.19 317.8,181.02 318.0,181.11 318.2,181.12 318.5,181.23 318.8,180.74 319.0,181.20 319.2,180.96 319.5,181.20 319.8,181.17 320.0,181.02 320.2,181.19 320.5,181.14 320.8,181.05 321.0,181.10 321.2,181.00 321.5,180.78 321.8,180.49 322.0,180.90 322.2,180.68 322.5,180.67 322.8,180.06 323.0,180.01 323.2,179.12 323.5,178.95 323.8,178.13 324.0,177.19 324.2,175.75 324.5,174.29 324.8,173.78 325.0,173.41 325.2,173.80 325.5,174.87 325.8,175.74 326.0,177.09 326.2,178.17 326.5,179.09 326.8,179.53 327.0,179.70 327.2,180.27 327.5,180.37 327.8,180.30 328.0,180.53 328.2,180.63 328.5,180.68 328.8,180.59 329.0,180.89 329.2,180.83 329.5,180.59 329.8,180.60 330.0,180.37 330.2,180.56 330.5,180.64 330.8,180.43 331.0,179.74 331.2,179.78 331.5,179.03 331.8,178.26 332.0,177.97 332.2,176.97 332.5,175.73 332.8,175.29 333.0,175.09 333.2,175.17 333.5,176.02 333.8,176.64 334.0,177.88 334.2,178.88 334.5,179.14 334.8,179.78 335.0,179.90 335.2,180.62 335.5,180.79 335.8,180.91 336.0,180.75 336.2,180.99 336.5,180.98 336.8,180.86 337.0,180.58 337.2,180.95 337.5,181.05 337.8,181.07 338.0,180.69 338.2,180.81 338.5,181.12 338.8,181.08 339.0,181.22 339.2,180.72 339.5,181.04 339.8,180.92 340.0,180.96 340.2,181.25 340.5,180.93 340.8,181.20 341.0,181.19 341.2,181.32 341.5,181.23 341.8,181.04 342.0,181.23 342.2,181.19 342.5,181.29 342.8,180.99 343.0,181.26 343.2,181.11 343.5,181.35 343.8,180.98 344.0,181.37 344.2,181.26 344.5,181.39 344.8,181.11 345.0,181.09 345.2,181.38 345.5,181.32 345.8,181.01 346.0,181.39 346.2,181.33 346.5,180.96 346.8,181.27 347.0,181.20 347.2,181.31 347.5,181.26 347.8,181.29 348.0,181.05 348.2,181.10 348.5,181.31 348.8,180.90 349.0,181.33 349.2,181.40 349.5,181.06 349.8,181.05 350.0,181.27 350.2,181.35 350.5,181.32 350.8,181.31 351.0,181.00 351.2,181.18 351.5,181.18 351.8,181.08 352.0,181.20 352.2,181.10 352.5,181.38 352.8,181.05 353.0,181.17 353.2,181.30 353.5,180.94 353.8,181.24 354.0,181.35 354.2,181.40 354.5,181.02 354.8,181.32 355.0,181.34 355.2,181.08 355.5,181.19 355.8,181.15 356.0,181.18 356.2,181.23 356.5,181.21 356.8,181.16 357.0,181.29 357.2,181.16 357.5,181.17 357.8,181.40 358.0,181.17 358.2,181.33 358.5,181.34 358.8,181.19 359.0,181.31 359.2,181.40 359.5,181.37 359.8,181.11 360.0,181.03 360.2,181.34 360.5,181.11 360.8,181.17 361.0,181.33 361.2,181.26 361.5,181.36 361.8,181.13 362.0,180.94 362.2,181.01 362.5,181.05 362.8,181.36 363.0,181.33 363.2,181.18 363.5,181.29 363.8,181.30 364.0,181.19 364.2,181.10 364.5,181.42 364.8,181.11 365.0,181.24 365.2,180.84 365.5,181.16 365.8,181.38 366.0,180.95 366.2,181.37 366.5,180.97 366.8,181.34 367.0,181.19 367.2,181.31 367.5,181.37 367.8,180.85 368.0,181.26 368.2,181.36 368.5,181.24 368.8,181.24 369.0,181.04 369.2,181.06 369.5,181.20 369.8,181.18 370.0,181.32 370.2,181.33 370.5,181.23 370.8,181.37 371.0,180.84 371.2,181.28 371.5,181.39 371.8,181.37 372.0,181.12 372.2,180.91 372.5,181.42 372.8,181.11 373.0,181.27 373.2,181.36 373.5,180.99 373.8,181.42 374.0,181.12 374.2,181.04 374.5,181.06 374.8,181.16 375.0,180.94 375.2,180.89 375.5,181.08 375.8,180.88 376.0,181.27 376.2,181.33 376.5,181.04 376.8,181.08 377.0,181.42 377.2,181.27 377.5,181.16 377.8,181.26 378.0,181.33 378.2,180.97 378.5,181.14 378.8,180.82 379.0,181.38 379.2,181.38 379.5,181.32 379.8,181.17 380.0,180.85 380.2,181.34 380.5,181.35 380.8,180.80 381.0,181.23 381.2,181.07 381.5,181.27 381.8,181.34 382.0,181.39 382.2,180.81 382.5,180.84 382.8,181.35 383.0,181.27 383.2,181.27 383.5,181.32 383.8,181.34 384.0,180.96 384.2,181.32 384.5,181.32 384.8,181.09 385.0,181.18 385.2,181.23 385.5,181.24 385.8,181.17 386.0,180.79 386.2,181.30 386.5,181.39 386.8,181.15 387.0,180.93 387.2,181.28 387.5,181.30 387.8,181.13 388.0,181.01 388.2,181.29 388.5,181.23 388.8,181.07 389.0,181.22 389.2,181.29 389.5,180.79 389.8,181.13 390.0,180.91 390.2,181.11 390.5,180.85 390.8,180.74 391.0,180.66 391.2,180.40 391.5,180.27 391.8,180.32 392.0,180.27 392.2,180.31 392.5,180.49 392.8,180.52 393.0,180.61 393.2,180.46 393.5,180.95 393.8,180.69 394.0,180.57 394.2,180.96 394.5,180.72 394.8,180.68 395.0,180.65 395.2,180.48 395.5,180.23 395.8,179.78 396.0,179.12 396.2,178.43 396.5,177.26 396.8,176.53 397.0,175.94 397.2,175.59 397.5,175.40 397.8,176.28 398.0,177.00 398.2,178.10 398.5,178.51 398.8,179.16 399.0,180.10 399.2,180.37 399.5,180.49 399.8,180.71 400.0,180.71 400.2,180.97 400.5,180.97 400.8,181.03 401.0,180.55 401.2,181.15 401.5,181.00 401.8,181.12 402.0,180.74 402.2,181.23 402.5,181.11 402.8,180.84 403.0,180.77 403.2,181.07 403.5,181.23 403.8,181.20 404.0,181.20 404.2,180.94 404.5,181.34 404.8,181.10 405.0,181.02 405.2,181.38 405.5,181.08 405.8,180.85 406.0,180.92 406.2,181.38 406.5,180.88 406.8,181.15 407.0,180.93 407.2,181.00 407.5,181.25 407.8,181.29 408.0,181.32 408.2,181.32 408.5,181.28 408.8,181.27 409.0,181.33 409.2,181.30 409.5,180.92 409.8,181.25 410.0,181.42 410.2,181.21 410.5,181.37 410.8,181.06 411.0,181.31 411.2,180.94 411.5,181.01 411.8,181.19 412.0,181.37 412.2,181.39 412.5,181.22 412.8,181.35 413.0,181.29 413.2,181.20 413.5,181.24 413.8,181.04 414.0,181.41 414.2,181.02 414.5,181.39 414.8,181.29 415.0,181.23 415.2,181.07 415.5,181.35 415.8,181.16 416.0,181.15 416.2,181.42 416.5,181.35 416.8,181.28 417.0,181.36 417.2,181.07 417.5,181.32 417.8,181.19 418.0,181.15 418.2,180.86 418.5,181.40 418.8,181.30 419.0,181.20 419.2,181.28 419.5,181.26 419.8,181.34 420.0,181.11 420.2,181.38 420.5,181.40 420.8,180.85 421.0,181.33 421.2,181.09 421.5,181.26 421.8,181.10 422.0,181.39 422.2,181.04 422.5,181.02 422.8,181.37 423.0,181.05 423.2,181.09 423.5,181.11 423.8,181.25 424.0,181.30 424.2,181.30 424.5,181.38 424.8,181.17 425.0,181.41 425.2,181.07 425.5,181.05 425.8,181.36 426.0,181.00 426.2,181.21 426.5,180.95 426.8,181.06 427.0,180.81 427.2,181.14 427.5,180.97 427.8,181.34 428.0,181.19 428.2,181.29 428.5,181.36 428.8,180.99 429.0,181.38 429.2,180.89 429.5,181.33 429.8,181.36 430.0,181.03 430.2,181.05 430.5,181.38 430.8,181.40 431.0,181.36 431.2,181.09 431.5,181.24 431.8,181.03 432.0,181.40 432.2,181.11 432.5,181.31 432.8,181.33 433.0,181.12 433.2,181.26 433.5,181.39 433.8,181.39 434.0,181.28 434.2,181.36 434.5,180.86 434.8,181.02 435.0,181.06 435.2,181.33 435.5,181.36 435.8,181.39 436.0,180.84 436.2,181.07 436.5,181.32 436.8,181.29 437.0,181.42 437.2,181.23 437.5,181.17 437.8,181.25 438.0,181.02 438.2,181.38 438.5,180.92 438.8,181.42 439.0,181.18 439.2,181.35 439.5,181.01 439.8,181.15 440.0,181.09 440.2,181.33 440.5,180.88 440.8,181.23 441.0,180.94 441.2,180.86 441.5,180.78 441.8,181.25 442.0,180.99 442.2,181.39 442.5,181.04 442.8,181.09 443.0,181.35 443.2,181.28 443.5,181.02 443.8,181.26 444.0,180.77 444.2,181.13 444.5,181.26 444.8,181.09 445.0,180.75 445.2,180.83 445.5,181.18 445.8,181.07 446.0,180.67 446.2,181.05 446.5,180.76 446.8,180.70 447.0,180.58 447.2,180.22 447.5,180.37 447.8,180.20 448.0,179.64 448.2,179.66 448.5,179.74 448.8,179.94 449.0,179.66 449.2,180.01 449.5,180.18 449.8,180.79 450.0,180.56 450.2,180.71 450.5,180.90 450.8,181.09 451.0,180.87 451.2,181.21 451.5,181.26 451.8,181.00 452.0,181.29 452.2,181.12 452.5,181.09 452.8,181.30 453.0,181.32 453.2,181.15 453.5,180.85 453.8,180.97 454.0,181.06 454.2,181.22 454.5,181.28 454.8,181.17 455.0,180.95 455.2,181.29 455.5,181.22 455.8,181.09 456.0,181.12 456.2,181.02 456.5,180.62 456.8,180.61 457.0,180.58 457.2,179.99 457.5,180.14 457.8,179.91 458.0,179.76 458.2,179.81 458.5,179.85 458.8,179.98 459.0,180.08 459.2,180.45 459.5,180.66 459.8,180.73 460.0,181.00 460.2,181.03 460.5,181.11 460.8,180.85 461.0,181.06 461.2,181.22 461.5,181.08 461.8,181.07 462.0,180.77 462.2,180.94 462.5,180.90 462.8,180.81 463.0,181.03 463.2,181.25 463.5,181.32 463.8,181.32 464.0,181.39 464.2,181.17 464.5,181.20 464.8,181.34 465.0,181.27 465.2,181.08 465.5,181.29 465.8,181.09 466.0,181.31 466.2,181.33 466.5,181.26 466.8,181.32 467.0,180.87 467.2,180.96 467.5,180.98 467.8,181.24 468.0,181.20 468.2,181.18 468.5,181.08 468.8,181.34 469.0,181.09 469.2,180.81 469.5,180.93 469.8,181.29 470.0,181.16 470.2,181.28 470.5,181.33 470.8,181.26 471.0,181.18 471.2,181.40 471.5,181.26 471.8,180.93 472.0,180.97 472.2,180.83 472.5,181.02 472.8,181.32 473.0,181.19 473.2,181.36 473.5,181.21 473.8,181.17 474.0,181.25 474.2,181.27 474.5,181.19 474.8,180.98 475.0,181.21 475.2,181.11 475.5,181.26 475.8,181.25 476.0,180.91 476.2,181.29 476.5,181.32 476.8,181.03 477.0,181.18 477.2,181.37 477.5,181.03 477.8,181.28 478.0,181.19 478.2,180.86 478.5,181.31 478.8,181.30 479.0,181.06 479.2,181.32 479.5,181.31 479.8,181.42 480.0,181.31 480.2,181.07 480.5,181.35 480.8,181.34 481.0,181.30 481.2,181.31 481.5,181.09 481.8,181.21 482.0,180.92 482.2,181.23 482.5,181.00 482.8,181.00 483.0,181.34 483.2,181.20 483.5,181.13 483.8,181.06 484.0,181.14 484.2,181.36 484.5,181.18 484.8,180.99 485.0,181.33 485.2,180.92 485.5,180.87 485.8,180.87 486.0,181.21 486.2,181.24 486.5,181.35 486.8,181.29 487.0,180.96 487.2,181.35 487.5,181.17 487.8,181.27 488.0,181.06 488.2,181.27 488.5,181.21 488.8,180.91 489.0,181.22 489.2,180.72 489.5,181.28 489.8,180.85 490.0,181.15 490.2,181.01 490.5,181.10 490.8,180.96 491.0,180.95 491.2,180.68 491.5,180.63 491.8,180.53 492.0,180.24 492.2,180.35 492.5,180.15 492.8,180.24 493.0,180.44 493.2,180.56 493.5,180.66 493.8,180.51 494.0,180.73 494.2,181.01 494.5,181.13 494.8,180.90 495.0,181.02 495.2,181.16 495.5,181.03 495.8,180.96 496.0,181.13 496.2,180.71 496.5,180.98 496.8,180.79 497.0,180.76 497.2,180.67 497.5,180.34 497.8,179.83 498.0,179.18 498.2,179.29 498.5,178.71 498.8,178.51 499.0,178.09 499.2,178.35 499.5,178.31 499.8,179.28 500.0,179.28 500.2,179.57 500.5,180.28 500.8,180.38 501.0,180.66 501.2,180.55 501.5,180.75 501.8,181.11 502.0,181.13 502.2,181.18 502.5,181.21 502.8,180.91 503.0,180.77 503.2,180.79 503.5,181.03 503.8,180.79 504.0,181.29 504.2,181.21 504.5,181.33 504.8,181.11 505.0,181.02 505.2,181.23 505.5,181.30 505.8,180.75 506.0,180.99 506.2,181.26 506.5,181.21 506.8,181.41 507.0,181.24 507.2,181.30 507.5,181.29 507.8,181.37 508.0,181.37 508.2,181.34 508.5,181.05 508.8,180.96 509.0,181.29 509.2,181.32 509.5,180.97 509.8,180.98 510.0,180.96 510.2,181.37 510.5,180.97 510.8,181.19 511.0,181.30 511.2,181.26 511.5,181.17 511.8,181.15 512.0,181.37 512.2,181.25 512.5,181.38 512.8,180.82 513.0,181.38 513.2,181.35 513.5,181.38 513.8,181.30 514.0,181.32 514.2,181.11 514.5,181.30 514.8,181.18 515.0,181.40 515.2,181.15 515.5,180.92 515.8,181.18 516.0,181.10 516.2,181.37 516.5,181.16 516.8,180.95 517.0,181.41 517.2,181.38 517.5,181.23 517.8,181.25 518.0,181.30 518.2,181.33 518.5,181.22 518.8,181.12 519.0,181.03 519.2,180.80 519.5,181.42 519.8,180.88 520.0,181.30 520.2,181.20 520.5,180.91 520.8,181.33 521.0,181.21 521.2,181.37 521.5,181.38 521.8,180.90 522.0,181.34 522.2,181.19 522.5,181.14 522.8,181.38 523.0,181.02 523.2,181.36 523.5,180.86 523.8,181.22 524.0,181.04 524.2,181.35 524.5,181.28 524.8,180.99 525.0,181.38 525.2,181.24 525.5,181.33 525.8,181.29 526.0,181.00 526.2,181.24 526.5,181.25 526.8,181.09 527.0,181.07 527.2,181.27 527.5,180.97 527.8,181.42 528.0,181.36 528.2,181.32 528.5,181.31 528.8,181.31 529.0,181.08 529.2,180.93 529.5,181.31 529.8,181.37 530.0,180.93 530.2,180.88 530.5,181.36 530.8,181.36 531.0,181.17 531.2,181.19 531.5,181.22 531.8,181.39 532.0,181.13 532.2,181.29 532.5,181.39 532.8,181.33 533.0,181.17 533.2,181.36 533.5,181.01 533.8,181.13 534.0,181.31 534.2,180.87 534.5,181.17 534.8,181.00 535.0,181.45 535.2,181.31 535.5,181.12 535.8,181.38 536.0,180.92 536.2,180.98 536.5,181.25 536.8,181.32 537.0,180.88 537.2,181.36 537.5,181.35 537.8,181.32 538.0,181.40"/>
<polyline fill="none" stroke="#ff00ff" stroke-width="2.3" stroke-linejoin="round" points="45.0,218.60 45.2,219.01 45.5,219.04 45.8,219.03 46.0,218.93 46.2,218.98 46.5,218.98 46.8,219.01 47.0,219.12 47.2,218.83 47.5,219.02 47.8,218.64 48.0,219.11 48.2,218.95 48.5,218.88 48.8,218.92 49.0,218.66 49.2,219.08 49.5,219.03 49.8,218.63 50.0,218.91 50.2,219.05 50.5,218.64 50.8,219.01 51.0,219.12 51.2,218.63 51.5,218.98 51.8,219.13 52.0,218.96 52.2,218.99 52.5,218.95 52.8,218.91 53.0,218.73 53.2,219.00 53.5,219.10 53.8,218.51 54.0,218.97 54.2,219.03 54.5,218.95 54.8,218.87 55.0,219.00 55.2,218.71 55.5,219.10 55.8,219.08 56.0,219.09 56.2,218.97 56.5,218.78 56.8,219.00 57.0,219.04 57.2,219.04 57.5,219.13 57.8,218.79 58.0,218.62 58.2,218.86 58.5,218.68 58.8,218.64 59.0,219.01 59.2,218.86 59.5,218.75 59.8,219.06 60.0,218.83 60.2,218.90 60.5,218.85 60.8,219.02 61.0,219.03 61.2,219.14 61.5,218.60 61.8,218.85 62.0,218.63 62.2,219.10 62.5,219.02 62.8,219.12 63.0,218.69 63.2,219.12 63.5,218.77 63.8,219.05 64.0,219.00 64.2,218.62 64.5,218.93 64.8,219.09 65.0,219.05 65.2,219.07 65.5,218.94 65.8,219.01 66.0,218.76 66.2,218.92 66.5,219.11 66.8,219.08 67.0,219.02 67.2,218.77 67.5,219.05 67.8,219.06 68.0,218.61 68.2,218.98 68.5,218.59 68.8,219.12 69.0,218.98 69.2,218.81 69.5,219.10 69.8,218.95 70.0,218.80 70.2,218.66 70.5,219.07 70.8,219.12 71.0,218.92 71.2,219.08 71.5,218.61 71.8,218.71 72.0,218.59 72.2,218.97 72.5,219.14 72.8,218.93 73.0,218.99 73.2,218.77 73.5,218.81 73.8,218.72 74.0,218.66 74.2,219.04 74.5,218.99 74.8,218.62 75.0,218.89 75.2,219.02 75.5,219.03 75.8,218.66 76.0,218.96 76.2,218.59 76.5,219.04 76.8,218.99 77.0,218.77 77.2,219.03 77.5,219.09 77.8,218.77 78.0,218.89 78.2,218.84 78.5,219.00 78.8,219.04 79.0,218.77 79.2,219.02 79.5,219.08 79.8,219.04 80.0,219.04 80.2,218.63 80.5,218.68 80.8,219.03 81.0,218.91 81.2,218.75 81.5,219.03 81.8,219.08 82.0,218.65 82.2,218.76 82.5,219.10 82.8,218.92 83.0,218.85 83.2,219.11 83.5,219.06 83.8,218.95 84.0,218.62 84.2,219.13 84.5,218.86 84.8,218.65 85.0,218.92 85.2,218.90 85.5,218.50 85.8,218.98 86.0,218.69 86.2,218.76 86.5,218.77 86.8,218.69 87.0,218.99 87.2,218.85 87.5,219.05 87.8,218.64 88.0,218.53 88.2,218.76 88.5,218.94 88.8,219.08 89.0,218.85 89.2,218.72 89.5,218.92 89.8,218.93 90.0,218.97 90.2,218.97 90.5,218.95 90.8,218.57 91.0,218.48 91.2,218.61 91.5,218.66 91.8,218.55 92.0,218.62 92.2,218.54 92.5,218.63 92.8,218.41 93.0,218.16 93.2,218.51 93.5,218.06 93.8,218.35 94.0,217.84 94.2,217.96 94.5,218.34 94.8,218.27 95.0,218.04 95.2,218.03 95.5,218.25 95.8,218.12 96.0,218.24 96.2,217.88 96.5,218.15 96.8,218.25 97.0,218.50 97.2,218.13 97.5,218.55 97.8,218.40 98.0,218.31 98.2,218.33 98.5,218.77 98.8,218.64 99.0,218.72 99.2,218.95 99.5,218.76 99.8,218.87 100.0,218.84 100.2,218.68 100.5,218.65 100.8,218.93 101.0,218.67 101.2,218.54 101.5,219.05 101.8,218.58 102.0,218.95 102.2,218.79 102.5,219.04 102.8,219.07 103.0,218.79 103.2,219.00 103.5,218.98 103.8,218.97 104.0,218.69 104.2,218.57 104.5,219.02 104.8,219.08 105.0,218.95 105.2,219.02 105.5,218.92 105.8,218.99 106.0,218.76 106.2,219.04 106.5,218.89 106.8,218.89 107.0,218.90 107.2,218.95 107.5,219.03 107.8,218.83 108.0,219.00 108.2,218.76 108.5,219.07 108.8,218.90 109.0,219.01 109.2,218.56 109.5,218.64 109.8,219.00 110.0,219.04 110.2,219.05 110.5,218.56 110.8,218.99 111.0,219.00 111.2,218.87 111.5,219.02 111.8,219.13 112.0,219.11 112.2,219.08 112.5,218.71 112.8,218.58 113.0,218.65 113.2,218.53 113.5,219.01 113.8,218.88 114.0,219.05 114.2,219.02 114.5,218.82 114.8,218.87 115.0,218.89 115.2,218.88 115.5,219.10 115.8,218.61 116.0,219.03 116.2,218.82 116.5,218.62 116.8,218.93 117.0,219.05 117.2,219.03 117.5,218.48 117.8,219.04 118.0,218.94 118.2,218.60 118.5,219.02 118.8,218.94 119.0,219.06 119.2,218.90 119.5,218.72 119.8,219.01 120.0,219.01 120.2,218.82 120.5,219.07 120.8,218.79 121.0,218.96 121.2,219.03 121.5,218.98 121.8,218.70 122.0,218.64 122.2,218.84 122.5,218.61 122.8,219.04 123.0,218.93 123.2,218.71 123.5,219.09 123.8,218.88 124.0,218.49 124.2,219.02 124.5,218.96 124.8,218.68 125.0,218.86 125.2,219.09 125.5,219.04 125.8,218.81 126.0,218.57 126.2,218.89 126.5,219.10 126.8,219.02 127.0,218.76 127.2,218.95 127.5,219.04 127.8,218.65 128.0,219.06 128.2,219.04 128.5,218.68 128.8,219.05 129.0,218.63 129.2,218.66 129.5,219.10 129.8,219.05 130.0,219.01 130.2,219.06 130.5,219.06 130.8,218.96 131.0,218.99 131.2,218.59 131.5,219.08 131.8,218.60 132.0,219.08 132.2,219.06 132.5,219.02 132.8,219.04 133.0,218.57 133.2,218.79 133.5,219.07 133.8,218.61 134.0,219.08 134.2,218.87 134.5,218.79 134.8,219.13 135.0,218.97 135.2,218.93 135.5,219.02 135.8,218.98 136.0,219.02 136.2,219.08 136.5,218.94 136.8,219.00 137.0,219.00 137.2,218.86 137.5,218.85 137.8,218.96 138.0,218.85 138.2,218.86 138.5,218.74 138.8,218.79 139.0,219.14 139.2,218.94 139.5,219.00 139.8,218.53 140.0,218.67 140.2,219.02 140.5,218.86 140.8,218.72 141.0,218.85 141.2,219.00 141.5,218.59 141.8,219.00 142.0,218.82 142.2,218.95 142.5,218.91 142.8,219.04 143.0,218.87 143.2,219.06 143.5,219.09 143.8,218.98 144.0,218.95 144.2,219.11 144.5,218.86 144.8,219.04 145.0,218.69 145.2,219.04 145.5,218.65 145.8,218.99 146.0,218.96 146.2,219.01 146.5,218.52 146.8,218.93 147.0,219.03 147.2,219.08 147.5,219.10 147.8,218.54 148.0,218.68 148.2,219.08 148.5,218.98 148.8,219.08 149.0,218.99 149.2,219.12 149.5,219.00 149.8,219.09 150.0,219.06 150.2,218.84 150.5,218.90 150.8,219.12 151.0,218.98 151.2,219.01 151.5,218.59 151.8,218.61 152.0,218.71 152.2,219.12 152.5,218.96 152.8,219.07 153.0,218.91 153.2,219.09 153.5,219.10 153.8,218.96 154.0,218.86 154.2,218.96 154.5,218.79 154.8,219.10 155.0,219.03 155.2,218.54 155.5,219.10 155.8,218.88 156.0,218.56 156.2,218.85 156.5,219.14 156.8,219.03 157.0,219.11 157.2,218.60 157.5,219.02 157.8,219.03 158.0,219.12 158.2,218.89 158.5,218.51 158.8,219.01 159.0,219.02 159.2,218.75 159.5,218.60 159.8,218.62 160.0,218.97 160.2,218.72 160.5,218.98 160.8,219.03 161.0,218.94 161.2,218.95 161.5,218.86 161.8,219.03 162.0,219.03 162.2,218.97 162.5,218.90 162.8,218.81 163.0,218.84 163.2,218.56 163.5,219.12 163.8,218.88 164.0,219.01 164.2,218.87 164.5,218.95 164.8,218.67 165.0,218.90 165.2,218.66 165.5,218.58 165.8,218.82 166.0,218.73 166.2,219.02 166.5,218.64 166.8,218.95 167.0,218.78 167.2,218.99 167.5,218.72 167.8,219.01 168.0,219.00 168.2,219.01 168.5,218.83 168.8,219.06 169.0,218.81 169.2,218.62 169.5,218.78 169.8,218.83 170.0,218.54 170.2,218.95 170.5,218.76 170.8,218.88 171.0,218.85 171.2,218.63 171.5,218.96 171.8,219.03 172.0,218.86 172.2,218.82 172.5,219.02 172.8,218.65 173.0,218.51 173.2,218.95 173.5,218.78 173.8,218.51 174.0,218.93 174.2,218.98 174.5,218.42 174.8,218.76 175.0,218.84 175.2,218.97 175.5,218.84 175.8,218.48 176.0,218.32 176.2,218.77 176.5,218.73 176.8,218.49 177.0,218.04 177.2,218.46 177.5,218.06 177.8,217.73 178.0,217.66 178.2,217.75 178.5,217.66 178.8,217.72 179.0,217.80 179.2,217.54 179.5,217.78 179.8,217.44 180.0,217.67 180.2,217.84 180.5,217.37 180.8,217.69 181.0,217.61 181.2,217.56 181.5,217.43 181.8,218.10 182.0,218.02 182.2,218.16 182.5,217.96 182.8,218.58 183.0,218.67 183.2,218.25 183.5,218.17 183.8,218.69 184.0,218.25 184.2,218.15 184.5,218.36 184.8,218.11 185.0,217.98 185.2,218.15 185.5,217.80 185.8,217.91 186.0,218.16 186.2,218.30 186.5,218.45 186.8,218.56 187.0,218.37 187.2,218.47 187.5,218.78 187.8,218.56 188.0,218.49 188.2,218.83 188.5,218.70 188.8,218.53 189.0,218.46 189.2,218.34 189.5,218.28 189.8,218.70 190.0,218.54 190.2,218.63 190.5,218.22 190.8,218.33 191.0,217.69 191.2,217.40 191.5,217.34 191.8,216.70 192.0,215.76 192.2,215.12 192.5,214.49 192.8,213.62 193.0,213.58 193.2,213.96 193.5,213.97 193.8,214.75 194.0,215.82 194.2,216.60 194.5,217.14 194.8,217.45 195.0,217.52 195.2,218.24 195.5,218.07 195.8,218.31 196.0,218.34 196.2,218.11 196.5,217.83 196.8,218.28 197.0,217.68 197.2,217.91 197.5,217.96 197.8,217.84 198.0,217.76 198.2,218.19 198.5,218.28 198.8,218.28 199.0,218.23 199.2,218.51 199.5,218.46 199.8,218.80 200.0,218.71 200.2,218.54 200.5,218.95 200.8,218.94 201.0,218.95 201.2,218.66 201.5,218.43 201.8,218.82 202.0,218.40 202.2,218.93 202.5,219.05 202.8,218.42 203.0,218.93 203.2,218.68 203.5,218.61 203.8,218.96 204.0,219.00 204.2,219.07 204.5,218.98 204.8,218.72 205.0,218.46 205.2,218.79 205.5,219.03 205.8,219.11 206.0,218.82 206.2,218.96 206.5,218.70 206.8,218.99 207.0,218.66 207.2,219.01 207.5,218.69 207.8,218.96 208.0,219.03 208.2,218.84 208.5,219.12 208.8,218.96 209.0,219.04 209.2,218.58 209.5,219.04 209.8,219.05 210.0,218.60 210.2,219.04 210.5,218.86 210.8,218.92 211.0,218.93 211.2,218.96 211.5,218.59 211.8,219.04 212.0,218.60 212.2,218.98 212.5,219.00 212.8,219.06 213.0,218.58 213.2,218.96 213.5,218.94 213.8,218.98 214.0,218.56 214.2,219.03 214.5,219.00 214.8,218.99 215.0,218.99 215.2,219.08 215.5,218.99 215.8,218.76 216.0,218.99 216.2,218.63 216.5,218.89 216.8,218.83 217.0,218.74 217.2,218.96 217.5,219.09 217.8,219.04 218.0,219.02 218.2,218.57 218.5,219.01 218.8,219.06 219.0,218.75 219.2,219.02 219.5,218.56 219.8,218.86 220.0,218.95 220.2,218.93 220.5,218.87 220.8,218.99 221.0,219.00 221.2,218.51 221.5,219.10 221.8,218.73 222.0,219.04 222.2,219.04 222.5,218.54 222.8,218.52 223.0,218.82 223.2,218.96 223.5,219.01 223.8,218.57 224.0,218.78 224.2,219.04 224.5,218.59 224.8,218.52 225.0,219.03 225.2,218.82 225.5,218.76 225.8,218.61 226.0,218.96 226.2,218.79 226.5,218.55 226.8,218.78 227.0,218.72 227.2,218.27 227.5,218.58 227.8,218.54 228.0,218.44 228.2,217.99 228.5,218.36 228.8,218.24 229.0,218.22 229.2,218.14 229.5,218.57 229.8,218.31 230.0,218.73 230.2,218.76 230.5,218.57 230.8,218.67 231.0,218.43 231.2,218.70 231.5,218.82 231.8,218.83 232.0,218.76 232.2,218.76 232.5,218.76 232.8,218.74 233.0,218.64 233.2,218.30 233.5,218.70 233.8,218.75 234.0,218.32 234.2,218.58 234.5,218.50 234.8,218.43 235.0,218.28 235.2,217.81 235.5,217.91 235.8,217.55 236.0,216.78 236.2,215.84 236.5,213.99 236.8,212.49 237.0,210.41 237.2,208.20 237.5,206.64 237.8,206.73 238.0,208.24 238.2,210.79 238.5,212.63 238.8,214.42 239.0,216.01 239.2,216.96 239.5,217.34 239.8,217.75 240.0,218.19 240.2,217.86 240.5,218.27 240.8,218.35 241.0,218.26 241.2,218.28 241.5,218.73 241.8,218.75 242.0,218.75 242.2,218.34 242.5,218.74 242.8,218.64 243.0,218.72 243.2,218.89 243.5,218.52 243.8,218.82 244.0,218.89 244.2,218.54 244.5,218.97 244.8,218.65 245.0,218.72 245.2,218.63 245.5,218.72 245.8,218.76 246.0,218.96 246.2,219.00 246.5,218.76 246.8,218.67 247.0,218.61 247.2,218.99 247.5,219.04 247.8,218.99 248.0,219.02 248.2,219.02 248.5,218.77 248.8,218.68 249.0,218.83 249.2,218.97 249.5,218.92 249.8,218.89 250.0,218.64 250.2,218.76 250.5,218.37 250.8,218.95 251.0,218.93 251.2,218.92 251.5,218.56 251.8,218.45 252.0,218.49 252.2,218.06 252.5,218.33 252.8,217.82 253.0,217.86 253.2,217.99 253.5,218.13 253.8,217.94 254.0,218.12 254.2,218.43 254.5,218.09 254.8,218.70 255.0,218.54 255.2,218.49 255.5,218.75 255.8,218.67 256.0,218.84 256.2,218.74 256.5,218.93 256.8,218.90 257.0,218.81 257.2,218.85 257.5,218.59 257.8,218.92 258.0,218.95 258.2,218.95 258.5,218.80 258.8,218.56 259.0,218.43 259.2,218.78 259.5,218.41 259.8,218.59 260.0,218.59 260.2,218.51 260.5,218.50 260.8,218.44 261.0,218.04 261.2,218.27 261.5,217.74 261.8,218.16 262.0,217.86 262.2,218.25 262.5,218.10 262.8,218.05 263.0,218.19 263.2,218.30 263.5,218.60 263.8,218.79 264.0,218.56 264.2,218.71 264.5,218.92 264.8,218.90 265.0,218.97 265.2,218.57 265.5,218.77 265.8,218.81 266.0,218.92 266.2,218.85 266.5,218.56 266.8,218.60 267.0,218.94 267.2,218.81 267.5,218.61 267.8,218.85 268.0,218.76 268.2,218.87 268.5,218.61 268.8,218.83 269.0,218.75 269.2,218.41 269.5,218.77 269.8,218.75 270.0,218.56 270.2,218.68 270.5,218.72 270.8,218.44 271.0,218.24 271.2,218.49 271.5,218.00 271.8,218.17 272.0,217.95 272.2,217.85 272.5,217.15 272.8,216.64 273.0,216.29 273.2,215.43 273.5,213.78 273.8,212.94 274.0,211.58 274.2,210.59 274.5,210.70 274.8,210.64 275.0,211.85 275.2,212.80 275.5,214.35 275.8,215.32 276.0,216.29 276.2,216.99 276.5,217.57 276.8,217.94 277.0,218.02 277.2,217.99 277.5,218.03 277.8,218.33 278.0,218.41 278.2,218.63 278.5,218.74 278.8,218.49 279.0,218.75 279.2,218.80 279.5,218.60 279.8,218.46 280.0,218.67 280.2,218.89 280.5,218.59 280.8,218.89 281.0,218.91 281.2,218.99 281.5,218.58 281.8,218.48 282.0,218.87 282.2,218.59 282.5,218.79 282.8,218.98 283.0,218.98 283.2,218.63 283.5,218.75 283.8,218.96 284.0,218.55 284.2,218.72 284.5,218.73 284.8,218.88 285.0,218.62 285.2,218.88 285.5,218.63 285.8,219.03 286.0,219.02 286.2,218.93 286.5,218.81 286.8,218.99 287.0,218.57 287.2,218.75 287.5,218.75 287.8,218.72 288.0,218.75 288.2,218.87 288.5,218.85 288.8,218.62 289.0,219.06 289.2,218.56 289.5,218.84 289.8,218.57 290.0,218.94 290.2,218.89 290.5,218.65 290.8,218.90 291.0,218.63 291.2,218.72 291.5,218.88 291.8,218.81 292.0,218.85 292.2,218.57 292.5,218.70 292.8,218.76 293.0,218.76 293.2,218.67 293.5,218.78 293.8,218.55 294.0,218.69 294.2,218.62 294.5,218.28 294.8,218.23 295.0,217.97 295.2,217.35 295.5,217.23 295.8,216.68 296.0,216.20 296.2,215.48 296.5,215.58 296.8,215.69 297.0,216.19 297.2,216.77 297.5,217.03 297.8,217.36 298.0,218.05 298.2,217.92 298.5,218.48 298.8,218.31 299.0,218.33 299.2,218.72 299.5,218.51 299.8,218.86 300.0,218.66 300.2,218.87 300.5,218.41 300.8,218.61 301.0,218.58 301.2,218.93 301.5,218.94 301.8,218.76 302.0,218.75 302.2,218.94 302.5,218.65 302.8,218.87 303.0,218.88 303.2,218.99 303.5,218.96 303.8,218.98 304.0,218.49 304.2,218.83 304.5,218.66 304.8,218.87 305.0,219.06 305.2,218.99 305.5,218.82 305.8,218.50 306.0,218.56 306.2,218.93 306.5,218.74 306.8,218.94 307.0,218.87 307.2,218.70 307.5,219.03 307.8,219.04 308.0,218.77 308.2,218.82 308.5,218.67 308.8,218.97 309.0,218.85 309.2,219.04 309.5,219.08 309.8,218.79 310.0,218.96 310.2,219.05 310.5,218.83 310.8,219.09 311.0,218.60 311.2,218.79 311.5,218.60 311.8,218.78 312.0,219.00 312.2,218.63 312.5,218.75 312.8,218.76 313.0,218.73 313.2,218.63 313.5,219.11 313.8,218.91 314.0,218.65 314.2,218.57 314.5,219.08 314.8,219.04 315.0,218.78 315.2,219.02 315.5,218.52 315.8,218.44 316.0,219.08 316.2,218.97 316.5,218.75 316.8,218.93 317.0,218.98 317.2,218.94 317.5,218.97 317.8,218.81 318.0,218.96 318.2,218.85 318.5,218.88 318.8,218.86 319.0,218.90 319.2,218.85 319.5,218.95 319.8,218.79 320.0,219.02 320.2,218.60 320.5,218.96 320.8,218.79 321.0,218.89 321.2,218.85 321.5,218.90 321.8,218.47 322.0,218.62 322.2,218.73 322.5,218.58 322.8,218.81 323.0,218.81 323.2,218.74 323.5,218.66 323.8,218.68 324.0,218.36 324.2,218.34 324.5,217.97 324.8,217.59 325.0,217.46 325.2,216.90 325.5,216.44 325.8,215.92 326.0,215.31 326.2,215.02 326.5,214.83 326.8,214.88 327.0,215.57 327.2,216.04 327.5,216.66 327.8,217.34 328.0,217.83 328.2,217.89 328.5,218.34 328.8,218.45 329.0,218.48 329.2,218.61 329.5,218.58 329.8,218.67 330.0,218.68 330.2,218.13 330.5,218.46 330.8,218.07 331.0,218.04 331.2,218.18 331.5,217.74 331.8,217.75 332.0,216.93 332.2,216.35 332.5,215.87 332.8,215.05 333.0,215.04 333.2,214.92 333.5,215.00 333.8,215.15 334.0,215.92 334.2,216.41 334.5,217.05 334.8,217.58 335.0,217.82 335.2,218.25 335.5,218.25 335.8,218.52 336.0,218.28 336.2,218.40 336.5,218.66 336.8,218.70 337.0,218.70 337.2,218.85 337.5,218.31 337.8,218.73 338.0,218.75 338.2,218.67 338.5,218.98 338.8,218.94 339.0,218.79 339.2,218.84 339.5,218.96 339.8,218.94 340.0,218.92 340.2,218.93 340.5,219.00 340.8,218.95 341.0,218.85 341.2,218.95 341.5,218.90 341.8,219.00 342.0,219.00 342.2,218.81 342.5,218.69 342.8,219.06 343.0,219.05 343.2,218.61 343.5,219.00 343.8,219.00 344.0,219.04 344.2,218.98 344.5,218.90 344.8,218.59 345.0,218.70 345.2,218.69 345.5,218.81 345.8,219.09 346.0,218.97 346.2,218.53 346.5,218.96 346.8,219.01 347.0,219.04 347.2,219.01 347.5,219.09 347.8,218.97 348.0,219.08 348.2,218.83 348.5,219.10 348.8,218.68 349.0,218.66 349.2,219.07 349.5,218.68 349.8,218.89 350.0,218.69 350.2,219.04 350.5,218.62 350.8,218.92 351.0,218.96 351.2,218.97 351.5,218.59 351.8,218.90 352.0,218.90 352.2,218.93 352.5,218.82 352.8,219.06 353.0,219.11 353.2,219.06 353.5,219.02 353.8,218.77 354.0,218.87 354.2,218.77 354.5,218.87 354.8,218.96 355.0,219.11 355.2,218.69 355.5,218.99 355.8,219.05 356.0,218.98 356.2,218.67 356.5,219.02 356.8,218.85 357.0,219.07 357.2,218.80 357.5,218.53 357.8,218.92 358.0,218.74 358.2,219.00 358.5,218.87 358.8,218.89 359.0,219.04 359.2,218.84 359.5,218.96 359.8,218.67 360.0,219.02 360.2,218.97 360.5,218.72 360.8,218.86 361.0,218.88 361.2,218.85 361.5,219.12 361.8,218.62 362.0,218.94 362.2,219.10 362.5,218.72 362.8,218.98 363.0,219.06 363.2,218.81 363.5,218.98 363.8,218.92 364.0,218.87 364.2,218.92 364.5,218.86 364.8,218.95 365.0,219.10 365.2,219.01 365.5,218.81 365.8,219.08 366.0,218.60 366.2,219.08 366.5,218.63 366.8,218.66 367.0,218.92 367.2,218.88 367.5,219.08 367.8,219.12 368.0,218.94 368.2,219.00 368.5,219.04 368.8,219.13 369.0,218.70 369.2,219.08 369.5,219.07 369.8,218.93 370.0,218.61 370.2,218.83 370.5,218.82 370.8,219.01 371.0,219.08 371.2,219.07 371.5,218.60 371.8,219.06 372.0,219.04 372.2,218.89 372.5,218.65 372.8,218.94 373.0,218.56 373.2,218.84 373.5,218.65 373.8,218.90 374.0,219.09 374.2,218.83 374.5,218.87 374.8,218.52 375.0,219.13 375.2,218.99 375.5,218.59 375.8,218.99 376.0,219.05 376.2,219.03 376.5,219.14 376.8,218.75 377.0,218.82 377.2,219.01 377.5,218.91 377.8,219.08 378.0,218.83 378.2,218.71 378.5,219.10 378.8,218.70 379.0,218.83 379.2,218.93 379.5,218.72 379.8,218.97 380.0,218.81 380.2,219.00 380.5,218.91 380.8,218.75 381.0,218.75 381.2,219.07 381.5,219.07 381.8,219.06 382.0,218.99 382.2,218.83 382.5,218.59 382.8,218.51 383.0,218.78 383.2,218.82 383.5,219.02 383.8,218.90 384.0,218.96 384.2,218.74 384.5,219.02 384.8,218.81 385.0,218.86 385.2,218.67 385.5,218.59 385.8,218.89 386.0,219.07 386.2,218.96 386.5,218.89 386.8,218.84 387.0,218.90 387.2,218.76 387.5,218.76 387.8,218.95 388.0,218.82 388.2,218.69 388.5,218.57 388.8,218.48 389.0,219.00 389.2,218.79 389.5,218.94 389.8,218.97 390.0,218.71 390.2,218.99 390.5,218.69 390.8,218.58 391.0,218.23 391.2,218.21 391.5,218.23 391.8,218.29 392.0,218.38 392.2,217.82 392.5,217.77 392.8,218.16 393.0,218.08 393.2,218.04 393.5,217.91 393.8,218.50 394.0,218.21 394.2,218.11 394.5,218.64 394.8,218.43 395.0,218.58 395.2,218.09 395.5,218.36 395.8,218.22 396.0,217.62 396.2,217.62 396.5,216.93 396.8,216.35 397.0,215.70 397.2,215.40 397.5,215.42 397.8,215.57 398.0,215.79 398.2,215.88 398.5,216.69 398.8,217.20 399.0,217.61 399.2,217.66 399.5,217.74 399.8,218.50 400.0,218.12 400.2,218.59 400.5,218.64 400.8,218.47 401.0,218.78 401.2,218.34 401.5,218.92 401.8,218.36 402.0,218.46 402.2,218.82 402.5,218.98 402.8,218.85 403.0,218.52 403.2,218.85 403.5,219.04 403.8,218.65 404.0,218.68 404.2,219.05 404.5,218.61 404.8,218.56 405.0,218.78 405.2,218.79 405.5,219.02 405.8,219.01 406.0,218.98 406.2,218.94 406.5,218.60 406.8,219.06 407.0,219.00 407.2,219.07 407.5,219.00 407.8,219.10 408.0,218.63 408.2,218.84 408.5,218.98 408.8,219.09 409.0,218.80 409.2,218.72 409.5,219.02 409.8,218.98 410.0,218.96 410.2,218.88 410.5,219.12 410.8,218.98 411.0,219.04 411.2,219.04 411.5,218.87 411.8,218.85 412.0,219.06 412.2,218.68 412.5,218.64 412.8,218.71 413.0,218.81 413.2,218.90 413.5,218.98 413.8,219.07 414.0,219.04 414.2,218.56 414.5,218.99 414.8,218.71 415.0,218.91 415.2,218.97 415.5,219.04 415.8,219.03 416.0,219.03 416.2,218.72 416.5,219.05 416.8,218.64 417.0,218.82 417.2,219.09 417.5,219.00 417.8,218.71 418.0,218.90 418.2,218.58 418.5,218.72 418.8,218.71 419.0,219.06 419.2,218.84 419.5,218.74 419.8,218.80 420.0,218.55 420.2,218.99 420.5,219.04 420.8,218.80 421.0,219.05 421.2,218.77 421.5,218.95 421.8,218.85 422.0,218.95 422.2,219.04 422.5,218.52 422.8,218.66 423.0,218.98 423.2,219.04 423.5,219.06 423.8,218.92 424.0,218.99 424.2,219.14 424.5,219.02 424.8,219.02 425.0,218.95 425.2,219.08 425.5,218.77 425.8,218.87 426.0,218.91 426.2,218.80 426.5,218.86 426.8,219.05 427.0,218.86 427.2,219.12 427.5,218.98 427.8,218.76 428.0,219.02 428.2,218.97 428.5,219.06 428.8,219.08 429.0,218.99 429.2,218.59 429.5,218.92 429.8,218.98 430.0,218.50 430.2,218.99 430.5,218.69 430.8,218.67 431.0,218.64 431.2,219.10 431.5,218.73 431.8,218.91 432.0,219.02 432.2,219.04 432.5,218.97 432.8,219.10 433.0,218.96 433.2,219.02 433.5,218.75 433.8,218.98 434.0,218.65 434.2,219.02 434.5,218.95 434.8,218.71 435.0,218.83 435.2,218.63 435.5,218.89 435.8,218.66 436.0,219.03 436.2,218.77 436.5,218.94 436.8,218.93 437.0,218.93 437.2,218.96 437.5,218.61 437.8,218.64 438.0,219.02 438.2,218.91 438.5,219.05 438.8,218.54 439.0,218.97 439.2,218.56 439.5,218.92 439.8,218.87 440.0,218.59 440.2,219.05 440.5,218.91 440.8,218.90 441.0,218.63 441.2,218.78 441.5,219.08 441.8,218.94 442.0,219.06 442.2,218.87 442.5,219.00 442.8,219.01 443.0,218.83 443.2,219.07 443.5,218.92 443.8,219.05 444.0,219.06 444.2,218.93 444.5,218.94 444.8,218.82 445.0,218.99 445.2,219.02 445.5,218.89 445.8,219.01 446.0,219.01 446.2,218.73 446.5,218.96 446.8,218.87 447.0,218.92 447.2,218.53 447.5,218.41 447.8,218.51 448.0,218.48 448.2,218.28 448.5,218.09 448.8,218.06 449.0,217.71 449.2,217.83 449.5,217.94 449.8,218.30 450.0,218.23 450.2,218.61 450.5,218.44 450.8,218.56 451.0,218.66 451.2,218.86 451.5,218.66 451.8,218.49 452.0,218.89 452.2,219.04 452.5,218.99 452.8,218.89 453.0,218.98 453.2,218.85 453.5,218.97 453.8,219.00 454.0,218.97 454.2,218.57 454.5,218.49 454.8,218.82 455.0,218.92 455.2,218.96 455.5,218.96 455.8,218.66 456.0,218.40 456.2,218.83 456.5,218.62 456.8,218.58 457.0,218.40 457.2,218.19 457.5,218.01 457.8,217.33 458.0,217.63 458.2,217.69 458.5,217.76 458.8,217.93 459.0,217.99 459.2,218.23 459.5,218.40 459.8,218.63 460.0,218.76 460.2,218.64 460.5,218.87 460.8,218.92 461.0,218.98 461.2,218.91 461.5,218.55 461.8,218.75 462.0,218.97 462.2,218.86 462.5,218.90 462.8,219.00 463.0,218.97 463.2,218.88 463.5,219.00 463.8,218.91 464.0,219.04 464.2,219.01 464.5,218.70 464.8,218.85 465.0,219.07 465.2,218.57 465.5,218.93 465.8,218.48 466.0,218.99 466.2,218.69 466.5,218.88 466.8,218.51 467.0,219.10 467.2,219.03 467.5,218.71 467.8,218.77 468.0,219.11 468.2,218.73 468.5,219.10 468.8,218.93 469.0,218.96 469.2,218.91 469.5,218.63 469.8,218.77 470.0,218.67 470.2,218.93 470.5,218.65 470.8,219.12 471.0,218.99 471.2,218.99 471.5,218.96 471.8,218.74 472.0,219.05 472.2,218.84 472.5,218.76 472.8,218.72 473.0,219.02 473.2,218.96 473.5,218.77 473.8,219.01 474.0,218.90 474.2,218.71 474.5,219.06 474.8,219.07 475.0,218.77 475.2,219.08 475.5,219.07 475.8,219.06 476.0,218.93 476.2,218.69 476.5,218.85 476.8,218.77 477.0,219.12 477.2,218.60 477.5,218.92 477.8,219.04 478.0,218.77 478.2,219.03 478.5,218.68 478.8,219.03 479.0,219.03 479.2,218.66 479.5,218.90 479.8,218.64 480.0,218.87 480.2,218.75 480.5,219.03 480.8,218.88 481.0,218.81 481.2,218.76 481.5,218.74 481.8,218.99 482.0,218.64 482.2,218.63 482.5,218.79 482.8,219.11 483.0,218.58 483.2,218.66 483.5,219.03 483.8,219.04 484.0,218.83 484.2,218.67 484.5,219.06 484.8,218.88 485.0,218.60 485.2,218.87 485.5,218.85 485.8,218.54 486.0,218.60 486.2,219.09 486.5,218.53 486.8,219.06 487.0,219.00 487.2,218.89 487.5,219.09 487.8,219.02 488.0,218.77 488.2,218.97 488.5,218.80 488.8,218.63 489.0,218.94 489.2,218.61 489.5,218.75 489.8,218.71 490.0,218.76 490.2,218.34 490.5,218.61 490.8,218.58 491.0,218.37 491.2,218.16 491.5,218.05 491.8,217.89 492.0,217.34 492.2,217.36 492.5,217.60 492.8,217.39 493.0,217.48 493.2,217.98 493.5,218.01 493.8,218.55 494.0,218.41 494.2,218.64 494.5,218.75 494.8,218.76 495.0,218.66 495.2,218.91 495.5,218.74 495.8,218.51 496.0,218.92 496.2,218.74 496.5,218.62 496.8,218.75 497.0,218.42 497.2,218.83 497.5,218.66 497.8,218.15 498.0,218.58 498.2,218.46 498.5,218.29 498.8,217.86 499.0,217.23 499.2,217.39 499.5,216.83 499.8,216.69 500.0,216.25 500.2,216.72 500.5,216.76 500.8,216.85 501.0,217.70 501.2,217.98 501.5,218.24 501.8,218.52 502.0,218.59 502.2,218.16 502.5,218.29 502.8,218.63 503.0,218.34 503.2,218.96 503.5,218.62 503.8,218.97 504.0,218.81 504.2,219.00 504.5,218.84 504.8,218.97 505.0,218.74 505.2,218.90 505.5,218.73 505.8,218.93 506.0,218.98 506.2,219.05 506.5,218.52 506.8,218.91 507.0,218.82 507.2,219.06 507.5,218.98 507.8,219.08 508.0,218.67 508.2,219.00 508.5,219.03 508.8,218.69 509.0,219.07 509.2,218.76 509.5,218.79 509.8,218.83 510.0,219.04 510.2,219.04 510.5,218.88 510.8,219.11 511.0,219.08 511.2,219.12 511.5,219.10 511.8,218.60 512.0,219.06 512.2,219.05 512.5,218.82 512.8,218.86 513.0,219.04 513.2,218.64 513.5,219.05 513.8,219.08 514.0,219.03 514.2,218.59 514.5,219.08 514.8,219.02 515.0,218.56 515.2,218.75 515.5,219.00 515.8,218.74 516.0,218.80 516.2,219.10 516.5,219.04 516.8,218.72 517.0,218.54 517.2,219.09 517.5,218.74 517.8,219.14 518.0,218.61 518.2,218.63 518.5,218.72 518.8,219.00 519.0,218.58 519.2,219.02 519.5,218.79 519.8,218.72 520.0,219.10 520.2,219.06 520.5,218.92 520.8,219.03 521.0,218.64 521.2,218.61 521.5,218.88 521.8,219.02 522.0,218.95 522.2,218.86 522.5,219.06 522.8,219.05 523.0,218.92 523.2,218.93 523.5,218.85 523.8,218.98 524.0,218.93 524.2,219.08 524.5,219.01 524.8,218.97 525.0,218.92 525.2,218.99 525.5,219.02 525.8,218.68 526.0,218.78 526.2,218.78 526.5,218.83 526.8,218.50 527.0,218.62 527.2,218.58 527.5,218.93 527.8,218.60 528.0,218.81 528.2,218.89 528.5,218.79 528.8,219.03 529.0,218.87 529.2,219.01 529.5,218.85 529.8,218.58 530.0,218.68 530.2,218.93 530.5,218.50 530.8,218.57 531.0,218.73 531.2,218.95 531.5,219.04 531.8,218.69 532.0,218.67 532.2,218.77 532.5,218.70 532.8,218.95 533.0,218.98 533.2,218.84 533.5,218.56 533.8,219.01 534.0,218.92 534.2,218.82 534.5,219.00 534.8,218.90 535.0,218.89 535.2,219.06 535.5,219.07 535.8,218.59 536.0,219.05 536.2,219.02 536.5,219.04 536.8,218.82 537.0,218.55 537.2,218.90 537.5,219.09 537.8,218.95 538.0,219.06"/>
<polyline fill="none" stroke="#0000ff" stroke-width="2.3" stroke-linejoin="round" points="45.0,252.12 45.2,251.51 45.5,252.11 45.8,251.74 46.0,251.64 46.2,251.98 46.5,252.09 46.8,251.84 47.0,251.97 47.2,251.58 47.5,251.74 47.8,251.53 48.0,251.75 48.2,251.95 48.5,252.08 48.8,251.74 49.0,251.97 49.2,252.03 49.5,251.82 49.8,251.88 50.0,251.96 50.2,251.97 50.5,252.05 50.8,251.84 51.0,251.95 51.2,251.94 51.5,251.96 51.8,252.09 52.0,252.02 52.2,251.94 52.5,252.02 52.8,251.98 53.0,251.79 53.2,251.99 53.5,252.05 53.8,252.09 54.0,251.94 54.2,252.04 54.5,251.68 54.8,252.07 55.0,251.56 55.2,251.95 55.5,251.95 55.8,251.76 56.0,251.91 56.2,252.10 56.5,252.06 56.8,251.71 57.0,251.97 57.2,252.07 57.5,251.90 57.8,251.72 58.0,251.86 58.2,251.87 58.5,252.03 58.8,252.11 59.0,252.10 59.2,252.01 59.5,251.91 59.8,251.79 60.0,252.01 60.2,252.09 60.5,251.65 60.8,252.01 61.0,252.11 61.2,251.64 61.5,252.07 61.8,252.05 62.0,251.95 62.2,252.10 62.5,251.62 62.8,252.10 63.0,251.89 63.2,252.10 63.5,251.60 63.8,251.74 64.0,251.65 64.2,251.92 64.5,251.72 64.8,252.06 65.0,251.94 65.2,251.95 65.5,251.99 65.8,251.69 66.0,251.58 66.2,251.80 66.5,251.57 66.8,251.82 67.0,251.96 67.2,252.02 67.5,251.63 67.8,251.99 68.0,251.59 68.2,251.95 68.5,251.55 68.8,252.12 69.0,251.55 69.2,251.95 69.5,251.86 69.8,251.96 70.0,251.84 70.2,251.92 70.5,251.96 70.8,251.72 71.0,251.77 71.2,252.05 71.5,251.63 71.8,252.06 72.0,251.79 72.2,251.71 72.5,251.97 72.8,252.03 73.0,251.97 73.2,252.00 73.5,251.88 73.8,252.02 74.0,252.08 74.2,251.89 74.5,252.08 74.8,252.02 75.0,251.61 75.2,252.04 75.5,252.07 75.8,252.13 76.0,251.96 76.2,251.92 76.5,251.81 76.8,252.09 77.0,252.12 77.2,251.81 77.5,251.55 77.8,251.77 78.0,251.86 78.2,252.06 78.5,251.99 78.8,251.65 79.0,251.61 79.2,251.61 79.5,251.89 79.8,251.81 80.0,251.87 80.2,251.82 80.5,251.60 80.8,251.69 81.0,251.71 81.2,252.09 81.5,251.91 81.8,251.63 82.0,251.94 82.2,251.95 82.5,251.97 82.8,251.76 83.0,252.11 83.2,251.99 83.5,252.06 83.8,251.87 84.0,252.10 84.2,251.85 84.5,251.76 84.8,251.79 85.0,251.80 85.2,252.00 85.5,252.07 85.8,251.64 86.0,252.12 86.2,252.02 86.5,252.07 86.8,251.75 87.0,251.95 87.2,251.61 87.5,251.97 87.8,252.05 88.0,251.75 88.2,251.97 88.5,251.56 88.8,252.04 89.0,251.64 89.2,252.03 89.5,251.94 89.8,251.93 90.0,251.70 90.2,252.04 90.5,252.08 90.8,251.76 91.0,252.07 91.2,251.93 91.5,251.99 91.8,251.96 92.0,251.99 92.2,251.92 92.5,251.95 92.8,252.00 93.0,251.87 93.2,251.60 93.5,251.98 93.8,251.84 94.0,252.05 94.2,251.97 94.5,252.02 94.8,252.01 95.0,251.86 95.2,251.97 95.5,251.72 95.8,251.93 96.0,251.83 96.2,251.70 96.5,252.02 96.8,251.82 97.0,251.99 97.2,251.95 97.5,251.72 97.8,251.89 98.0,252.00 98.2,251.51 98.5,251.94 98.8,251.85 99.0,251.84 99.2,251.31 99.5,251.71 99.8,251.37 100.0,251.36 100.2,251.20 100.5,250.83 100.8,250.33 101.0,249.71 101.2,248.79 101.5,247.85 101.8,247.91 102.0,247.97 102.2,248.31 102.5,248.92 102.8,249.66 103.0,250.50 103.2,250.86 103.5,251.25 103.8,251.43 104.0,251.56 104.2,251.48 104.5,251.71 104.8,251.57 105.0,251.80 105.2,251.93 105.5,251.53 105.8,251.53 106.0,251.88 106.2,251.63 106.5,251.51 106.8,251.75 107.0,251.91 107.2,251.87 107.5,251.76 107.8,251.77 108.0,251.48 108.2,251.72 108.5,251.78 108.8,251.51 109.0,251.75 109.2,251.24 109.5,251.44 109.8,251.30 110.0,251.09 110.2,250.50 110.5,250.13 110.8,249.31 111.0,248.98 111.2,248.78 111.5,248.62 111.8,249.04 112.0,249.59 112.2,250.41 112.5,250.81 112.8,251.04 113.0,251.09 113.2,251.44 113.5,251.65 113.8,251.25 114.0,251.49 114.2,250.95 114.5,250.94 114.8,251.16 115.0,250.97 115.2,251.21 115.5,250.95 115.8,251.11 116.0,251.63 116.2,251.58 116.5,251.74 116.8,251.83 117.0,251.76 117.2,251.85 117.5,251.47 117.8,251.67 118.0,251.18 118.2,251.35 118.5,251.41 118.8,251.08 119.0,251.15 119.2,250.84 119.5,251.32 119.8,251.51 120.0,251.66 120.2,251.62 120.5,251.83 120.8,251.55 121.0,251.68 121.2,251.72 121.5,251.84 121.8,252.02 122.0,251.69 122.2,251.64 122.5,251.62 122.8,251.63 123.0,252.03 123.2,252.10 123.5,251.69 123.8,251.87 124.0,251.93 124.2,251.60 124.5,251.88 124.8,251.65 125.0,251.99 125.2,251.67 125.5,251.87 125.8,252.00 126.0,251.69 126.2,252.00 126.5,251.55 126.8,252.03 127.0,251.62 127.2,251.85 127.5,251.76 127.8,251.99 128.0,251.77 128.2,251.97 128.5,252.07 128.8,252.08 129.0,251.98 129.2,251.93 129.5,252.07 129.8,251.98 130.0,252.12 130.2,252.10 130.5,252.09 130.8,252.06 131.0,251.99 131.2,251.78 131.5,252.02 131.8,252.03 132.0,252.05 132.2,251.71 132.5,251.48 132.8,251.73 133.0,251.66 133.2,251.98 133.5,252.04 133.8,251.90 134.0,251.72 134.2,252.02 134.5,251.76 134.8,252.01 135.0,251.88 135.2,251.83 135.5,251.61 135.8,251.74 136.0,251.83 136.2,251.69 136.5,251.79 136.8,251.90 137.0,251.99 137.2,251.71 137.5,252.01 137.8,251.64 138.0,252.04 138.2,251.63 138.5,251.79 138.8,252.01 139.0,251.94 139.2,252.14 139.5,251.90 139.8,251.86 140.0,251.78 140.2,251.99 140.5,251.74 140.8,252.08 141.0,252.03 141.2,251.92 141.5,251.92 141.8,251.69 142.0,252.07 142.2,252.03 142.5,252.05 142.8,251.79 143.0,251.47 143.2,251.68 143.5,251.96 143.8,251.91 144.0,251.95 144.2,251.87 144.5,251.97 144.8,252.01 145.0,252.07 145.2,251.74 145.5,251.86 145.8,251.77 146.0,251.71 146.2,252.10 146.5,252.00 146.8,251.76 147.0,251.92 147.2,252.00 147.5,251.52 147.8,251.95 148.0,251.95 148.2,251.76 148.5,251.71 148.8,251.54 149.0,252.09 149.2,252.02 149.5,251.93 149.8,252.11 150.0,252.01 150.2,251.90 150.5,252.03 150.8,251.86 151.0,252.02 151.2,252.00 151.5,252.04 151.8,251.65 152.0,252.08 152.2,251.60 152.5,251.61 152.8,252.08 153.0,251.83 153.2,251.90 153.5,251.58 153.8,251.90 154.0,251.85 154.2,251.92 154.5,251.75 154.8,252.04 155.0,251.71 155.2,252.08 155.5,252.07 155.8,252.07 156.0,252.06 156.2,251.73 156.5,252.10 156.8,251.68 157.0,251.98 157.2,251.96 157.5,252.01 157.8,252.00 158.0,252.09 158.2,251.82 158.5,252.07 158.8,251.98 159.0,252.03 159.2,252.03 159.5,252.09 159.8,251.77 160.0,251.88 160.2,251.81 160.5,251.59 160.8,251.99 161.0,252.04 161.2,251.52 161.5,252.00 161.8,251.98 162.0,251.94 162.2,252.01 162.5,251.89 162.8,251.89 163.0,251.84 163.2,252.00 163.5,251.84 163.8,252.06 164.0,251.68 164.2,251.86 164.5,251.95 164.8,251.53 165.0,251.88 165.2,251.70 165.5,251.94 165.8,251.60 166.0,251.81 166.2,251.28 166.5,251.71 166.8,251.54 167.0,251.24 167.2,251.43 167.5,250.92 167.8,251.24 168.0,251.08 168.2,251.49 168.5,251.57 168.8,251.69 169.0,251.66 169.2,251.51 169.5,251.75 169.8,251.64 170.0,251.78 170.2,251.43 170.5,251.38 170.8,251.85 171.0,251.42 171.2,251.86 171.5,251.43 171.8,251.83 172.0,251.72 172.2,251.72 172.5,251.85 172.8,251.33 173.0,251.66 173.2,251.62 173.5,251.25 173.8,251.36 174.0,251.15 174.2,251.37 174.5,251.02 174.8,251.12 175.0,251.06 175.2,250.64 175.5,249.76 175.8,249.37 176.0,248.36 176.2,246.38 176.5,244.35 176.8,242.46 177.0,241.12 177.2,241.27 177.5,242.50 177.8,243.90 178.0,245.83 178.2,247.01 178.5,248.15 178.8,248.74 179.0,248.96 179.2,249.00 179.5,249.13 179.8,249.40 180.0,249.36 180.2,249.08 180.5,249.31 180.8,249.92 181.0,249.69 181.2,249.78 181.5,250.25 181.8,250.56 182.0,250.42 182.2,250.84 182.5,250.95 182.8,251.12 183.0,251.25 183.2,251.45 183.5,251.21 183.8,251.41 184.0,251.50 184.2,251.70 184.5,251.80 184.8,251.85 185.0,251.80 185.2,251.84 185.5,251.68 185.8,251.78 186.0,251.62 186.2,251.80 186.5,251.89 186.8,251.88 187.0,251.93 187.2,251.90 187.5,251.62 187.8,251.61 188.0,251.64 188.2,251.84 188.5,251.51 188.8,251.83 189.0,251.87 189.2,251.76 189.5,251.39 189.8,251.42 190.0,251.77 190.2,251.54 190.5,251.60 190.8,251.79 191.0,251.51 191.2,251.69 191.5,251.57 191.8,251.39 192.0,251.06 192.2,250.73 192.5,250.39 192.8,250.23 193.0,249.64 193.2,249.43 193.5,249.55 193.8,249.57 194.0,249.90 194.2,249.88 194.5,250.70 194.8,250.69 195.0,251.08 195.2,250.96 195.5,251.52 195.8,251.50 196.0,251.39 196.2,251.71 196.5,251.73 196.8,251.71 197.0,251.74 197.2,251.69 197.5,251.41 197.8,251.55 198.0,251.84 198.2,251.46 198.5,251.55 198.8,251.74 199.0,251.57 199.2,251.72 199.5,251.66 199.8,251.45 200.0,251.63 200.2,251.15 200.5,251.07 200.8,250.59 201.0,250.76 201.2,250.00 201.5,249.30 201.8,248.44 202.0,247.78 202.2,246.60 202.5,246.36 202.8,246.92 203.0,247.74 203.2,248.65 203.5,249.06 203.8,250.15 204.0,250.65 204.2,251.12 204.5,251.40 204.8,251.39 205.0,251.67 205.2,251.52 205.5,251.74 205.8,251.25 206.0,251.47 206.2,251.61 206.5,251.38 206.8,251.62 207.0,251.83 207.2,251.92 207.5,251.64 207.8,251.49 208.0,251.88 208.2,252.03 208.5,251.90 208.8,251.60 209.0,251.55 209.2,251.67 209.5,251.69 209.8,251.97 210.0,252.02 210.2,251.82 210.5,251.87 210.8,252.00 211.0,251.72 211.2,251.62 211.5,251.50 211.8,251.56 212.0,251.98 212.2,251.81 212.5,251.94 212.8,251.97 213.0,251.70 213.2,251.71 213.5,251.45 213.8,251.62 214.0,252.05 214.2,251.85 214.5,251.54 214.8,251.79 215.0,251.97 215.2,251.94 215.5,251.53 215.8,251.91 216.0,251.66 216.2,251.58 216.5,251.92 216.8,251.43 217.0,251.72 217.2,251.88 217.5,251.97 217.8,251.85 218.0,251.91 218.2,251.80 218.5,251.86 218.8,251.53 219.0,251.66 219.2,251.51 219.5,251.58 219.8,251.86 220.0,251.66 220.2,251.73 220.5,251.55 220.8,251.44 221.0,251.51 221.2,250.82 221.5,250.90 221.8,250.20 222.0,249.95 222.2,249.02 222.5,248.52 222.8,247.56 223.0,247.73 223.2,247.78 223.5,248.31 223.8,249.20 224.0,249.96 224.2,250.44 224.5,250.45 224.8,250.74 225.0,251.51 225.2,251.31 225.5,251.67 225.8,251.36 226.0,251.84 226.2,251.86 226.5,251.69 226.8,251.78 227.0,251.91 227.2,251.98 227.5,251.90 227.8,251.65 228.0,251.55 228.2,251.83 228.5,251.92 228.8,251.70 229.0,251.88 229.2,251.75 229.5,251.94 229.8,251.92 230.0,251.90 230.2,251.99 230.5,251.90 230.8,251.79 231.0,251.87 231.2,251.97 231.5,251.86 231.8,251.81 232.0,251.75 232.2,251.99 232.5,251.90 232.8,251.78 233.0,251.88 233.2,251.45 233.5,251.87 233.8,251.42 234.0,251.79 234.2,251.80 234.5,251.63 234.8,251.67 235.0,251.59 235.2,251.43 235.5,251.10 235.8,250.39 236.0,250.08 236.2,249.48 236.5,249.01 236.8,248.83 237.0,248.46 237.2,248.54 237.5,249.30 237.8,249.84 238.0,250.32 238.2,250.60 238.5,251.01 238.8,251.01 239.0,251.43 239.2,251.40 239.5,251.68 239.8,251.28 240.0,251.40 240.2,251.74 240.5,251.37 240.8,251.87 241.0,251.78 241.2,251.92 241.5,251.41 241.8,251.91 242.0,251.41 242.2,251.90 242.5,251.94 242.8,251.60 243.0,251.59 243.2,251.68 243.5,251.67 243.8,251.87 244.0,251.85 244.2,251.57 244.5,251.82 244.8,251.62 245.0,251.68 245.2,251.85 245.5,251.76 245.8,251.79 246.0,251.61 246.2,251.45 246.5,251.68 246.8,251.48 247.0,251.50 247.2,251.62 247.5,251.19 247.8,251.27 248.0,251.37 248.2,251.04 248.5,250.90 248.8,250.95 249.0,250.89 249.2,250.90 249.5,250.96 249.8,250.33 250.0,250.23 250.2,249.60 250.5,249.20 250.8,248.13 251.0,246.68 251.2,244.48 251.5,241.53 251.8,238.48 252.0,235.34 252.2,233.76 252.5,233.38 252.8,235.28 253.0,238.10 253.2,241.27 253.5,244.01 253.8,246.23 254.0,247.62 254.2,248.93 254.5,249.72 254.8,250.19 255.0,250.20 255.2,250.79 255.5,250.76 255.8,250.43 256.0,250.91 256.2,251.06 256.5,250.70 256.8,251.06 257.0,251.22 257.2,251.06 257.5,250.95 257.8,251.06 258.0,251.00 258.2,251.02 258.5,250.66 258.8,250.64 259.0,250.32 259.2,249.82 259.5,249.29 259.8,248.46 260.0,247.72 260.2,245.81 260.5,243.49 260.8,240.82 261.0,238.33 261.2,235.83 261.5,234.89 261.8,235.83 262.0,238.29 262.2,240.89 262.5,243.82 262.8,245.69 263.0,247.63 263.2,248.46 263.5,249.31 263.8,250.37 264.0,250.64 264.2,250.85 264.5,250.86 264.8,251.01 265.0,250.87 265.2,251.31 265.5,251.15 265.8,251.13 266.0,251.05 266.2,251.51 266.5,250.99 266.8,251.10 267.0,251.46 267.2,251.63 267.5,251.61 267.8,251.56 268.0,251.61 268.2,251.59 268.5,251.42 268.8,251.56 269.0,251.08 269.2,251.22 269.5,250.94 269.8,250.39 270.0,250.51 270.2,250.10 270.5,249.59 270.8,249.14 271.0,248.94 271.2,249.35 271.5,249.63 271.8,249.42 272.0,249.81 272.2,250.39 272.5,250.60 272.8,250.16 273.0,249.89 273.2,249.44 273.5,248.37 273.8,247.74 274.0,246.89 274.2,246.06 274.5,245.52 274.8,246.00 275.0,246.87 275.2,247.68 275.5,248.80 275.8,249.75 276.0,249.99 276.2,250.68 276.5,250.98 276.8,251.16 277.0,251.49 277.2,251.57 277.5,251.15 277.8,251.54 278.0,251.74 278.2,251.81 278.5,251.59 278.8,251.80 279.0,251.60 279.2,251.53 279.5,251.66 279.8,251.72 280.0,251.86 280.2,251.95 280.5,251.66 280.8,251.70 281.0,251.68 281.2,251.96 281.5,251.94 281.8,251.49 282.0,251.60 282.2,251.68 282.5,251.64 282.8,251.83 283.0,251.94 283.2,251.93 283.5,251.68 283.8,251.89 284.0,251.96 284.2,251.96 284.5,251.48 284.8,251.92 285.0,251.99 285.2,252.00 285.5,251.73 285.8,251.65 286.0,251.95 286.2,251.97 286.5,252.03 286.8,251.52 287.0,251.96 287.2,251.73 287.5,251.60 287.8,252.02 288.0,252.00 288.2,251.81 288.5,251.56 288.8,251.73 289.0,251.86 289.2,252.02 289.5,251.91 289.8,251.76 290.0,251.85 290.2,251.85 290.5,251.65 290.8,252.06 291.0,252.00 291.2,251.69 291.5,251.76 291.8,251.97 292.0,251.56 292.2,251.95 292.5,251.93 292.8,252.04 293.0,251.54 293.2,251.94 293.5,251.93 293.8,251.88 294.0,251.55 294.2,251.81 294.5,251.37 294.8,251.46 295.0,251.32 295.2,251.36 295.5,251.37 295.8,251.19 296.0,251.05 296.2,251.42 296.5,251.15 296.8,251.25 297.0,251.59 297.2,251.65 297.5,251.72 297.8,251.65 298.0,251.98 298.2,251.94 298.5,251.79 298.8,251.67 299.0,251.97 299.2,251.83 299.5,251.49 299.8,251.73 300.0,252.08 300.2,251.66 300.5,251.99 300.8,251.52 301.0,251.70 301.2,252.11 301.5,251.97 301.8,251.65 302.0,251.93 302.2,252.05 302.5,252.00 302.8,251.78 303.0,251.89 303.2,251.95 303.5,252.11 303.8,252.01 304.0,251.91 304.2,251.71 304.5,251.95 304.8,251.55 305.0,251.91 305.2,251.64 305.5,252.03 305.8,251.86 306.0,251.79 306.2,251.74 306.5,251.78 306.8,251.80 307.0,251.87 307.2,252.00 307.5,251.96 307.8,251.53 308.0,252.02 308.2,252.02 308.5,251.85 308.8,251.56 309.0,251.86 309.2,252.06 309.5,251.84 309.8,252.07 310.0,251.73 310.2,252.11 310.5,251.68 310.8,252.12 311.0,251.94 311.2,252.00 311.5,251.55 311.8,252.07 312.0,251.78 312.2,251.68 312.5,251.82 312.8,251.84 313.0,251.99 313.2,251.51 313.5,251.75 313.8,252.03 314.0,252.04 314.2,251.75 314.5,251.91 314.8,251.74 315.0,251.90 315.2,251.73 315.5,252.01 315.8,251.70 316.0,251.66 316.2,251.85 316.5,252.05 316.8,251.93 317.0,251.87 317.2,251.74 317.5,252.05 317.8,251.98 318.0,252.01 318.2,251.63 318.5,251.68 318.8,251.88 319.0,251.91 319.2,251.90 319.5,251.94 319.8,251.51 320.0,251.89 320.2,251.67 320.5,251.27 320.8,251.39 321.0,251.37 321.2,251.28 321.5,250.57 321.8,250.72 322.0,250.67 322.2,250.56 322.5,250.07 322.8,250.61 323.0,250.32 323.2,251.03 323.5,251.15 323.8,251.21 324.0,251.42 324.2,251.18 324.5,251.44 324.8,251.46 325.0,251.31 325.2,251.54 325.5,251.40 325.8,251.13 326.0,250.70 326.2,250.92 326.5,250.34 326.8,250.36 327.0,250.25 327.2,250.03 327.5,250.59 327.8,250.96 328.0,251.02 328.2,251.36 328.5,251.51 328.8,251.22 329.0,251.60 329.2,251.65 329.5,251.36 329.8,251.69 330.0,251.69 330.2,251.19 330.5,251.50 330.8,251.43 331.0,251.19 331.2,251.01 331.5,250.79 331.8,250.15 332.0,250.15 332.2,249.92 332.5,249.49 332.8,249.78 333.0,249.81 333.2,250.31 333.5,250.28 333.8,250.51 334.0,251.07 334.2,251.03 334.5,251.20 334.8,251.71 335.0,251.84 335.2,251.32 335.5,251.61 335.8,251.60 336.0,251.76 336.2,251.62 336.5,251.96 336.8,251.93 337.0,252.02 337.2,252.00 337.5,251.68 337.8,251.78 338.0,251.66 338.2,251.56 338.5,251.65 338.8,252.03 339.0,251.99 339.2,252.04 339.5,251.92 339.8,251.91 340.0,252.03 340.2,251.89 340.5,252.10 340.8,251.93 341.0,252.08 341.2,252.06 341.5,251.63 341.8,251.82 342.0,251.90 342.2,251.66 342.5,252.05 342.8,251.67 343.0,252.12 343.2,251.67 343.5,251.94 343.8,251.62 344.0,252.02 344.2,252.10 344.5,251.99 344.8,252.04 345.0,251.69 345.2,252.03 345.5,252.10 345.8,252.09 346.0,251.58 346.2,251.77 346.5,251.69 346.8,251.53 347.0,251.86 347.2,251.77 347.5,251.75 347.8,251.86 348.0,251.90 348.2,251.95 348.5,252.07 348.8,251.99 349.0,251.89 349.2,252.03 349.5,251.89 349.8,251.58 350.0,251.81 350.2,252.07 350.5,251.62 350.8,251.81 351.0,251.99 351.2,251.96 351.5,251.95 351.8,251.82 352.0,252.06 352.2,252.13 352.5,251.96 352.8,251.91 353.0,251.85 353.2,251.62 353.5,251.75 353.8,251.81 354.0,251.60 354.2,251.93 354.5,251.62 354.8,252.12 355.0,251.78 355.2,252.10 355.5,252.01 355.8,251.93 356.0,251.99 356.2,251.64 356.5,252.04 356.8,251.57 357.0,251.91 357.2,251.65 357.5,252.08 357.8,251.81 358.0,251.78 358.2,251.51 358.5,251.96 358.8,251.65 359.0,251.90 359.2,251.57 359.5,251.81 359.8,251.92 360.0,251.67 360.2,252.08 360.5,252.05 360.8,252.04 361.0,252.06 361.2,252.07 361.5,252.03 361.8,251.82 362.0,252.13 362.2,252.06 362.5,251.59 362.8,251.65 363.0,251.60 363.2,251.96 363.5,251.91 363.8,251.78 364.0,251.82 364.2,251.84 364.5,252.09 364.8,252.00 365.0,251.76 365.2,251.92 365.5,252.05 365.8,251.96 366.0,251.82 366.2,251.98 366.5,251.63 366.8,252.02 367.0,252.01 367.2,252.06 367.5,251.98 367.8,251.63 368.0,251.70 368.2,252.00 368.5,251.94 368.8,252.05 369.0,251.94 369.2,252.00 369.5,252.09 369.8,251.64 370.0,252.03 370.2,252.14 370.5,252.05 370.8,251.70 371.0,251.91 371.2,251.55 371.5,251.87 371.8,251.98 372.0,251.76 372.2,251.90 372.5,251.99 372.8,251.95 373.0,252.01 373.2,251.82 373.5,251.75 373.8,252.06 374.0,251.78 374.2,251.73 374.5,252.06 374.8,252.05 375.0,251.89 375.2,252.09 375.5,251.62 375.8,252.00 376.0,251.71 376.2,251.62 376.5,251.64 376.8,251.58 377.0,251.66 377.2,251.98 377.5,251.77 377.8,252.02 378.0,251.95 378.2,252.07 378.5,251.77 378.8,251.82 379.0,251.69 379.2,251.93 379.5,251.81 379.8,251.82 380.0,251.78 380.2,251.59 380.5,251.78 380.8,252.00 381.0,251.91 381.2,252.06 381.5,251.61 381.8,251.77 382.0,252.04 382.2,252.00 382.5,251.64 382.8,252.09 383.0,251.91 383.2,252.02 383.5,252.00 383.8,251.83 384.0,251.88 384.2,252.07 384.5,251.84 384.8,251.97 385.0,252.12 385.2,252.04 385.5,251.65 385.8,251.67 386.0,252.09 386.2,251.74 386.5,252.09 386.8,251.74 387.0,252.04 387.2,251.74 387.5,251.81 387.8,251.71 388.0,252.06 388.2,252.13 388.5,251.81 388.8,251.98 389.0,251.92 389.2,251.93 389.5,251.80 389.8,251.89 390.0,251.76 390.2,251.73 390.5,251.70 390.8,251.76 391.0,251.95 391.2,251.97 391.5,251.86 391.8,252.00 392.0,252.02 392.2,252.06 392.5,251.79 392.8,251.54 393.0,251.73 393.2,251.85 393.5,251.86 393.8,251.67 394.0,252.06 394.2,251.92 394.5,252.00 394.8,251.75 395.0,251.68 395.2,251.61 395.5,251.42 395.8,251.77 396.0,251.80 396.2,251.41 396.5,251.24 396.8,251.33 397.0,250.95 397.2,250.59 397.5,250.09 397.8,249.81 398.0,250.01 398.2,249.73 398.5,250.10 398.8,250.33 399.0,250.46 399.2,250.74 399.5,251.01 399.8,251.34 400.0,251.39 400.2,251.68 400.5,251.85 400.8,251.79 401.0,251.90 401.2,251.84 401.5,251.98 401.8,251.75 402.0,251.95 402.2,252.02 402.5,251.87 402.8,252.02 403.0,251.74 403.2,251.76 403.5,251.99 403.8,251.59 404.0,252.05 404.2,251.66 404.5,251.69 404.8,252.05 405.0,251.98 405.2,251.53 405.5,251.51 405.8,252.00 406.0,251.52 406.2,251.57 406.5,251.80 406.8,251.92 407.0,252.06 407.2,252.00 407.5,251.77 407.8,251.72 408.0,252.07 408.2,251.94 408.5,251.63 408.8,251.83 409.0,251.95 409.2,251.61 409.5,251.93 409.8,251.54 410.0,252.05 410.2,251.72 410.5,252.05 410.8,252.06 411.0,251.96 411.2,252.08 411.5,251.89 411.8,251.94 412.0,251.79 412.2,251.96 412.5,251.81 412.8,251.69 413.0,251.98 413.2,251.95 413.5,251.86 413.8,252.06 414.0,251.80 414.2,252.04 414.5,251.89 414.8,252.10 415.0,251.94 415.2,251.99 415.5,252.02 415.8,251.79 416.0,251.83 416.2,251.51 416.5,251.97 416.8,251.83 417.0,251.80 417.2,251.73 417.5,252.10 417.8,252.01 418.0,251.83 418.2,251.91 418.5,251.93 418.8,251.66 419.0,251.97 419.2,252.06 419.5,251.54 419.8,251.89 420.0,251.90 420.2,251.97 420.5,252.00 420.8,252.01 421.0,252.02 421.2,251.72 421.5,252.01 421.8,251.79 422.0,252.01 422.2,251.86 422.5,252.11 422.8,251.95 423.0,251.58 423.2,252.01 423.5,251.60 423.8,251.86 424.0,251.99 424.2,251.57 424.5,251.96 424.8,252.00 425.0,252.07 425.2,251.80 425.5,251.99 425.8,251.82 426.0,251.64 426.2,251.77 426.5,251.62 426.8,251.78 427.0,251.80 427.2,251.44 427.5,250.99 427.8,251.40 428.0,251.02 428.2,250.95 428.5,250.28 428.8,250.03 429.0,250.00 429.2,250.34 429.5,250.51 429.8,250.46 430.0,251.05 430.2,251.31 430.5,251.19 430.8,251.42 431.0,251.72 431.2,251.80 431.5,251.80 431.8,251.42 432.0,251.53 432.2,251.98 432.5,251.81 432.8,251.85 433.0,252.01 433.2,252.01 433.5,251.84 433.8,251.78 434.0,251.46 434.2,251.99 434.5,251.75 434.8,251.64 435.0,251.88 435.2,252.01 435.5,251.94 435.8,251.98 436.0,252.11 436.2,251.85 436.5,252.05 436.8,251.63 437.0,251.90 437.2,251.94 437.5,252.00 437.8,251.94 438.0,251.91 438.2,252.07 438.5,251.86 438.8,251.90 439.0,252.03 439.2,252.07 439.5,251.73 439.8,251.56 440.0,251.85 440.2,251.97 440.5,251.76 440.8,251.90 441.0,251.88 441.2,251.54 441.5,252.06 441.8,252.02 442.0,251.82 442.2,251.59 442.5,252.04 442.8,251.83 443.0,251.59 443.2,251.86 443.5,251.71 443.8,251.59 444.0,251.71 444.2,251.82 444.5,251.96 444.8,252.08 445.0,251.93 445.2,251.52 445.5,252.10 445.8,251.97 446.0,252.02 446.2,251.60 446.5,251.87 446.8,251.91 447.0,252.03 447.2,252.01 447.5,251.54 447.8,251.85 448.0,251.41 448.2,251.54 448.5,251.89 448.8,251.82 449.0,251.66 449.2,251.45 449.5,251.39 449.8,251.42 450.0,251.32 450.2,250.94 450.5,251.03 450.8,251.04 451.0,251.09 451.2,251.16 451.5,251.32 451.8,251.47 452.0,251.37 452.2,251.16 452.5,251.80 452.8,251.48 453.0,251.87 453.2,251.80 453.5,251.89 453.8,252.02 454.0,251.98 454.2,251.93 454.5,251.94 454.8,251.86 455.0,251.56 455.2,251.67 455.5,251.75 455.8,251.36 456.0,251.85 456.2,251.50 456.5,251.48 456.8,251.51 457.0,251.06 457.2,251.33 457.5,251.02 457.8,250.92 458.0,250.58 458.2,251.00 458.5,251.15 458.8,251.14 459.0,251.24 459.2,251.21 459.5,251.61 459.8,251.65 460.0,251.94 460.2,251.89 460.5,251.57 460.8,251.80 461.0,251.70 461.2,252.02 461.5,252.06 461.8,251.52 462.0,252.03 462.2,251.70 462.5,251.99 462.8,252.01 463.0,251.84 463.2,251.92 463.5,251.96 463.8,251.73 464.0,251.57 464.2,251.87 464.5,252.03 464.8,252.01 465.0,252.04 465.2,252.13 465.5,251.74 465.8,252.02 466.0,251.95 466.2,252.01 466.5,251.53 466.8,251.80 467.0,252.04 467.2,251.97 467.5,252.06 467.8,251.99 468.0,251.68 468.2,251.94 468.5,251.51 468.8,252.00 469.0,252.04 469.2,251.93 469.5,251.83 469.8,252.05 470.0,251.98 470.2,251.75 470.5,251.99 470.8,252.12 471.0,252.01 471.2,252.08 471.5,252.05 471.8,252.12 472.0,251.99 472.2,251.56 472.5,252.07 472.8,252.05 473.0,251.97 473.2,251.57 473.5,251.79 473.8,251.93 474.0,251.77 474.2,252.10 474.5,251.77 474.8,251.68 475.0,251.95 475.2,251.70 475.5,251.86 475.8,251.82 476.0,252.01 476.2,252.02 476.5,252.11 476.8,251.79 477.0,251.92 477.2,252.05 477.5,251.55 477.8,252.07 478.0,251.53 478.2,252.09 478.5,251.89 478.8,251.56 479.0,251.55 479.2,251.96 479.5,252.09 479.8,251.79 480.0,251.72 480.2,251.66 480.5,251.67 480.8,251.78 481.0,252.08 481.2,251.86 481.5,251.59 481.8,251.75 482.0,251.86 482.2,251.77 482.5,251.94 482.8,251.83 483.0,251.70 483.2,251.99 483.5,251.96 483.8,251.59 484.0,251.80 484.2,251.90 484.5,251.88 484.8,251.79 485.0,251.72 485.2,251.67 485.5,251.54 485.8,251.40 486.0,251.22 486.2,250.94 486.5,251.14 486.8,251.05 487.0,251.09 487.2,251.24 487.5,250.94 487.8,251.60 488.0,251.73 488.2,251.68 488.5,251.86 488.8,251.87 489.0,251.49 489.2,251.96 489.5,251.90 489.8,251.98 490.0,251.98 490.2,252.02 490.5,252.05 490.8,251.63 491.0,251.79 491.2,252.06 491.5,252.07 491.8,251.90 492.0,251.83 492.2,251.94 492.5,252.04 492.8,252.03 493.0,251.79 493.2,251.55 493.5,252.02 493.8,251.65 494.0,251.68 494.2,251.98 494.5,251.77 494.8,251.90 495.0,251.59 495.2,251.85 495.5,251.71 495.8,251.66 496.0,251.95 496.2,252.03 496.5,251.64 496.8,251.97 497.0,251.53 497.2,251.60 497.5,251.84 497.8,251.61 498.0,251.56 498.2,251.85 498.5,251.84 498.8,251.39 499.0,251.81 499.2,251.39 499.5,251.50 499.8,251.42 500.0,251.01 500.2,251.00 500.5,250.79 500.8,250.71 501.0,250.76 501.2,251.30 501.5,251.37 501.8,251.50 502.0,251.59 502.2,251.74 502.5,251.88 502.8,251.69 503.0,251.95 503.2,251.90 503.5,251.62 503.8,251.65 504.0,251.82 504.2,251.90 504.5,251.52 504.8,251.68 505.0,252.03 505.2,251.87 505.5,251.69 505.8,252.09 506.0,251.72 506.2,251.79 506.5,251.96 506.8,251.73 507.0,251.96 507.2,251.69 507.5,251.60 507.8,251.81 508.0,251.87 508.2,251.98 508.5,252.07 508.8,252.02 509.0,251.97 509.2,252.11 509.5,252.10 509.8,252.02 510.0,251.73 510.2,251.76 510.5,251.87 510.8,252.02 511.0,252.01 511.2,251.74 511.5,251.98 511.8,251.97 512.0,252.01 512.2,251.54 512.5,252.06 512.8,251.71 513.0,252.01 513.2,251.55 513.5,251.93 513.8,251.80 514.0,252.04 514.2,252.01 514.5,252.02 514.8,252.00 515.0,251.75 515.2,251.74 515.5,251.86 515.8,251.79 516.0,251.95 516.2,251.76 516.5,251.93 516.8,251.52 517.0,251.98 517.2,251.96 517.5,251.91 517.8,252.10 518.0,252.03 518.2,251.84 518.5,251.91 518.8,252.03 519.0,251.57 519.2,252.06 519.5,251.99 519.8,252.12 520.0,251.79 520.2,251.59 520.5,251.66 520.8,251.75 521.0,251.51 521.2,251.99 521.5,251.79 521.8,251.63 522.0,252.02 522.2,251.90 522.5,251.58 522.8,251.88 523.0,251.93 523.2,251.84 523.5,251.87 523.8,252.03 524.0,251.79 524.2,251.93 524.5,251.89 524.8,251.65 525.0,251.82 525.2,251.62 525.5,251.62 525.8,251.44 526.0,250.89 526.2,250.77 526.5,250.76 526.8,250.73 527.0,251.03 527.2,251.12 527.5,251.31 527.8,251.44 528.0,251.63 528.2,251.66 528.5,251.72 528.8,251.33 529.0,251.93 529.2,251.91 529.5,251.69 529.8,251.87 530.0,251.95 530.2,252.02 530.5,251.96 530.8,252.06 531.0,252.10 531.2,251.84 531.5,251.67 531.8,251.86 532.0,251.96 532.2,252.03 532.5,251.83 532.8,251.70 533.0,251.91 533.2,251.89 533.5,252.04 533.8,251.93 534.0,252.10 534.2,251.54 534.5,251.67 534.8,252.02 535.0,252.10 535.2,252.06 535.5,252.09 535.8,251.75 536.0,252.11 536.2,251.67 536.5,251.66 536.8,252.06 537.0,251.91 537.2,251.99 537.5,252.04 537.8,251.61 538.0,251.85"/>
<polyline fill="none" stroke="#ff0000" stroke-width="2.3" stroke-linejoin="round" points="45.0,288.08 45.2,288.55 45.5,288.49 45.8,288.40 46.0,288.24 46.2,288.65 46.5,288.41 46.8,288.41 47.0,288.45 47.2,288.13 47.5,288.26 47.8,288.37 48.0,288.61 48.2,288.47 48.5,288.39 48.8,288.32 49.0,288.49 49.2,288.51 49.5,288.35 49.8,288.10 50.0,288.55 50.2,288.57 50.5,288.60 50.8,288.44 51.0,288.55 51.2,288.54 51.5,288.53 51.8,288.51 52.0,288.43 52.2,288.56 52.5,288.56 52.8,288.30 53.0,288.50 53.2,288.10 53.5,288.13 53.8,288.46 54.0,288.02 54.2,288.07 54.5,288.63 54.8,288.57 55.0,288.49 55.2,288.47 55.5,288.40 55.8,288.04 56.0,288.51 56.2,288.49 56.5,288.42 56.8,288.30 57.0,288.14 57.2,288.22 57.5,288.49 57.8,288.38 58.0,288.50 58.2,288.04 58.5,288.60 58.8,288.50 59.0,288.40 59.2,288.49 59.5,288.29 59.8,288.51 60.0,288.29 60.2,288.10 60.5,288.35 60.8,288.38 61.0,288.01 61.2,288.47 61.5,288.35 61.8,288.30 62.0,288.37 62.2,288.58 62.5,288.07 62.8,288.19 63.0,288.55 63.2,288.46 63.5,288.65 63.8,288.56 64.0,288.55 64.2,288.19 64.5,288.13 64.8,287.99 65.0,288.48 65.2,288.00 65.5,288.50 65.8,288.54 66.0,288.55 66.2,288.54 66.5,288.08 66.8,288.51 67.0,288.46 67.2,288.61 67.5,288.55 67.8,288.48 68.0,288.39 68.2,288.51 68.5,288.12 68.8,288.41 69.0,288.13 69.2,288.11 69.5,288.26 69.8,288.58 70.0,288.35 70.2,288.23 70.5,287.97 70.8,288.34 71.0,288.54 71.2,288.05 71.5,288.41 71.8,288.53 72.0,288.38 72.2,288.61 72.5,288.09 72.8,288.59 73.0,288.50 73.2,288.51 73.5,288.51 73.8,288.42 74.0,288.26 74.2,288.32 74.5,288.23 74.8,288.29 75.0,288.39 75.2,288.09 75.5,288.09 75.8,288.57 76.0,288.09 76.2,288.57 76.5,288.45 76.8,288.58 77.0,288.45 77.2,288.03 77.5,288.35 77.8,288.61 78.0,288.42 78.2,288.22 78.5,288.12 78.8,288.44 79.0,288.63 79.2,288.42 79.5,288.65 79.8,288.59 80.0,288.52 80.2,288.29 80.5,288.58 80.8,288.52 81.0,288.38 81.2,288.25 81.5,288.34 81.8,288.60 82.0,288.44 82.2,288.42 82.5,288.52 82.8,288.15 83.0,288.55 83.2,288.37 83.5,288.56 83.8,288.55 84.0,288.19 84.2,288.64 84.5,288.16 84.8,288.39 85.0,288.51 85.2,288.19 85.5,288.34 85.8,288.44 86.0,288.54 86.2,288.60 86.5,288.50 86.8,288.48 87.0,288.15 87.2,288.56 87.5,288.39 87.8,288.45 88.0,288.51 88.2,288.20 88.5,288.45 88.8,288.30 89.0,288.58 89.2,288.28 89.5,288.60 89.8,288.53 90.0,288.15 90.2,288.58 90.5,288.36 90.8,288.55 91.0,288.23 91.2,288.50 91.5,288.11 91.8,287.99 92.0,288.43 92.2,288.32 92.5,288.41 92.8,288.08 93.0,288.29 93.2,288.36 93.5,288.21 93.8,288.54 94.0,288.41 94.2,288.52 94.5,288.26 94.8,288.48 95.0,288.55 95.2,288.33 95.5,288.54 95.8,288.50 96.0,288.50 96.2,288.57 96.5,288.06 96.8,288.45 97.0,288.51 97.2,288.25 97.5,288.54 97.8,288.44 98.0,288.30 98.2,287.99 98.5,288.11 98.8,288.48 99.0,288.26 99.2,287.79 99.5,288.21 99.8,288.12 100.0,287.87 100.2,287.72 100.5,287.76 100.8,287.12 101.0,287.62 101.2,287.56 101.5,287.73 101.8,287.75 102.0,287.75 102.2,287.86 102.5,288.00 102.8,287.86 103.0,288.11 103.2,288.34 103.5,288.02 103.8,288.29 104.0,288.28 104.2,288.02 104.5,288.27 104.8,288.49 105.0,288.43 105.2,288.40 105.5,288.40 105.8,288.55 106.0,288.56 106.2,288.52 106.5,288.36 106.8,288.21 107.0,288.03 107.2,288.39 107.5,288.35 107.8,288.51 108.0,288.47 108.2,288.45 108.5,288.43 108.8,288.09 109.0,288.05 109.2,288.49 109.5,288.23 109.8,288.20 110.0,288.04 110.2,288.13 110.5,288.24 110.8,288.18 111.0,287.88 111.2,287.66 111.5,287.70 111.8,287.63 112.0,287.59 112.2,287.12 112.5,287.41 112.8,287.40 113.0,287.57 113.2,287.97 113.5,287.98 113.8,288.08 114.0,287.50 114.2,287.51 114.5,287.64 114.8,287.70 115.0,287.47 115.2,287.21 115.5,287.26 115.8,287.10 116.0,287.41 116.2,287.39 116.5,287.18 116.8,287.46 117.0,286.99 117.2,287.29 117.5,287.41 117.8,287.47 118.0,287.51 118.2,287.67 118.5,287.54 118.8,287.47 119.0,288.02 119.2,288.21 119.5,288.37 119.8,288.33 120.0,288.33 120.2,288.42 120.5,288.09 120.8,288.08 121.0,288.12 121.2,288.26 121.5,288.05 121.8,288.41 122.0,288.38 122.2,287.99 122.5,288.30 122.8,288.52 123.0,288.58 123.2,288.52 123.5,288.00 123.8,288.38 124.0,288.41 124.2,288.56 124.5,288.40 124.8,288.34 125.0,288.27 125.2,288.46 125.5,288.51 125.8,288.23 126.0,288.46 126.2,288.32 126.5,288.51 126.8,288.52 127.0,288.37 127.2,288.40 127.5,288.49 127.8,288.58 128.0,288.11 128.2,288.09 128.5,288.10 128.8,288.62 129.0,288.31 129.2,288.25 129.5,288.32 129.8,288.55 130.0,288.43 130.2,288.19 130.5,288.61 130.8,288.50 131.0,288.45 131.2,288.27 131.5,288.43 131.8,288.13 132.0,288.23 132.2,288.45 132.5,288.12 132.8,288.53 133.0,288.38 133.2,288.47 133.5,288.37 133.8,288.37 134.0,288.30 134.2,288.51 134.5,288.58 134.8,288.42 135.0,288.39 135.2,288.34 135.5,288.16 135.8,288.51 136.0,288.46 136.2,288.58 136.5,288.17 136.8,288.55 137.0,288.48 137.2,288.53 137.5,288.44 137.8,288.50 138.0,288.38 138.2,288.04 138.5,288.57 138.8,288.38 139.0,288.20 139.2,288.25 139.5,288.49 139.8,288.11 140.0,288.43 140.2,288.59 140.5,288.54 140.8,288.41 141.0,288.51 141.2,288.48 141.5,288.56 141.8,288.52 142.0,288.56 142.2,288.54 142.5,288.09 142.8,288.42 143.0,288.20 143.2,288.42 143.5,288.56 143.8,288.32 144.0,288.19 144.2,288.53 144.5,288.19 144.8,288.12 145.0,288.50 145.2,288.23 145.5,288.43 145.8,288.47 146.0,288.32 146.2,288.53 146.5,288.50 146.8,288.07 147.0,288.22 147.2,288.39 147.5,288.58 147.8,288.45 148.0,288.25 148.2,288.48 148.5,288.09 148.8,288.29 149.0,288.13 149.2,288.59 149.5,288.07 149.8,288.38 150.0,288.58 150.2,288.27 150.5,288.53 150.8,288.40 151.0,288.08 151.2,288.28 151.5,288.47 151.8,288.30 152.0,288.29 152.2,288.40 152.5,288.16 152.8,288.17 153.0,288.32 153.2,288.46 153.5,288.46 153.8,288.08 154.0,288.08 154.2,288.31 154.5,288.51 154.8,288.34 155.0,288.44 155.2,288.56 155.5,288.59 155.8,288.07 156.0,288.40 156.2,288.45 156.5,288.37 156.8,288.58 157.0,288.56 157.2,288.46 157.5,288.45 157.8,288.52 158.0,288.52 158.2,288.35 158.5,288.34 158.8,288.40 159.0,288.19 159.2,288.49 159.5,288.27 159.8,288.14 160.0,288.20 160.2,288.51 160.5,288.46 160.8,288.40 161.0,288.53 161.2,288.39 161.5,288.56 161.8,288.51 162.0,288.54 162.2,288.42 162.5,288.50 162.8,288.27 163.0,288.01 163.2,288.43 163.5,288.36 163.8,288.45 164.0,288.54 164.2,288.21 164.5,288.41 164.8,288.21 165.0,288.51 165.2,288.56 165.5,288.43 165.8,288.40 166.0,288.25 166.2,288.34 166.5,288.42 166.8,288.29 167.0,288.36 167.2,288.06 167.5,288.15 167.8,288.42 168.0,288.46 168.2,288.31 168.5,287.95 168.8,288.45 169.0,288.32 169.2,288.33 169.5,288.30 169.8,288.43 170.0,288.18 170.2,288.15 170.5,288.36 170.8,288.35 171.0,288.23 171.2,288.31 171.5,288.37 171.8,287.93 172.0,288.33 172.2,287.84 172.5,288.11 172.8,288.21 173.0,287.74 173.2,288.02 173.5,287.99 173.8,287.69 174.0,287.69 174.2,287.93 174.5,287.71 174.8,287.29 175.0,287.43 175.2,287.10 175.5,286.51 175.8,286.08 176.0,285.48 176.2,284.06 176.5,282.04 176.8,279.88 177.0,277.10 177.2,274.20 177.5,272.35 177.8,272.44 178.0,273.98 178.2,276.38 178.5,278.82 178.8,281.12 179.0,282.76 179.2,283.75 179.5,284.08 179.8,284.80 180.0,284.79 180.2,285.36 180.5,285.27 180.8,285.69 181.0,285.91 181.2,285.82 181.5,286.26 181.8,286.32 182.0,286.64 182.2,286.62 182.5,287.05 182.8,287.18 183.0,287.55 183.2,287.72 183.5,287.59 183.8,287.89 184.0,288.01 184.2,287.72 184.5,287.58 184.8,288.08 185.0,288.13 185.2,288.31 185.5,287.71 185.8,287.84 186.0,287.88 186.2,288.18 186.5,287.99 186.8,288.26 187.0,288.31 187.2,288.14 187.5,288.31 187.8,288.39 188.0,288.37 188.2,288.23 188.5,288.31 188.8,287.81 189.0,287.88 189.2,288.27 189.5,288.28 189.8,288.29 190.0,287.73 190.2,288.05 190.5,288.13 190.8,287.83 191.0,287.91 191.2,287.96 191.5,287.89 191.8,287.82 192.0,287.50 192.2,287.66 192.5,287.06 192.8,287.40 193.0,287.35 193.2,286.97 193.5,287.16 193.8,287.24 194.0,286.92 194.2,287.28 194.5,287.40 194.8,287.48 195.0,287.51 195.2,287.68 195.5,287.38 195.8,287.93 196.0,287.94 196.2,287.99 196.5,288.17 196.8,288.13 197.0,287.62 197.2,288.22 197.5,287.99 197.8,287.91 198.0,287.74 198.2,288.11 198.5,287.99 198.8,288.26 199.0,287.89 199.2,288.11 199.5,287.69 199.8,288.06 200.0,287.73 200.2,287.91 200.5,287.69 200.8,287.51 201.0,287.19 201.2,286.64 201.5,285.36 201.8,284.95 202.0,283.73 202.2,282.47 202.5,281.42 202.8,281.24 203.0,281.85 203.2,283.10 203.5,284.06 203.8,285.03 204.0,285.92 204.2,286.58 204.5,287.03 204.8,287.26 205.0,287.89 205.2,288.01 205.5,287.56 205.8,287.79 206.0,288.23 206.2,288.04 206.5,288.17 206.8,288.18 207.0,288.30 207.2,288.35 207.5,288.43 207.8,288.25 208.0,288.31 208.2,288.10 208.5,288.43 208.8,288.45 209.0,288.36 209.2,288.37 209.5,288.44 209.8,288.50 210.0,287.91 210.2,288.22 210.5,288.19 210.8,288.52 211.0,288.09 211.2,288.45 211.5,288.38 211.8,288.35 212.0,288.22 212.2,288.47 212.5,288.42 212.8,288.38 213.0,288.44 213.2,288.15 213.5,288.05 213.8,288.48 214.0,288.49 214.2,288.17 214.5,288.36 214.8,288.19 215.0,288.28 215.2,288.01 215.5,288.14 215.8,287.91 216.0,288.32 216.2,288.21 216.5,288.29 216.8,288.18 217.0,288.08 217.2,288.35 217.5,288.23 217.8,288.32 218.0,288.29 218.2,288.08 218.5,288.37 218.8,288.37 219.0,288.23 219.2,288.02 219.5,288.27 219.8,287.99 220.0,288.31 220.2,287.97 220.5,288.12 220.8,288.01 221.0,287.93 221.2,287.28 221.5,287.17 221.8,286.56 222.0,286.02 222.2,285.59 222.5,284.63 222.8,283.26 223.0,282.57 223.2,282.07 223.5,282.33 223.8,282.84 224.0,284.24 224.2,285.06 224.5,285.61 224.8,286.50 225.0,287.25 225.2,287.27 225.5,287.55 225.8,288.01 226.0,287.84 226.2,288.17 226.5,288.09 226.8,287.78 227.0,288.06 227.2,288.11 227.5,287.94 227.8,288.37 228.0,287.95 228.2,288.38 228.5,288.28 228.8,288.20 229.0,288.35 229.2,288.11 229.5,288.25 229.8,288.45 230.0,287.99 230.2,288.46 230.5,287.86 230.8,288.14 231.0,288.39 231.2,288.31 231.5,288.21 231.8,288.47 232.0,288.28 232.2,288.34 232.5,288.34 232.8,288.19 233.0,288.17 233.2,287.88 233.5,288.02 233.8,288.27 234.0,288.29 234.2,288.32 234.5,288.29 234.8,288.25 235.0,287.93 235.2,287.71 235.5,287.66 235.8,287.16 236.0,287.34 236.2,286.66 236.5,286.34 236.8,285.83 237.0,285.19 237.2,284.71 237.5,285.11 237.8,285.53 238.0,286.11 238.2,286.76 238.5,287.16 238.8,287.28 239.0,287.75 239.2,287.96 239.5,288.05 239.8,288.16 240.0,288.22 240.2,288.21 240.5,287.97 240.8,288.28 241.0,288.27 241.2,288.24 241.5,288.03 241.8,288.01 242.0,288.30 242.2,287.90 242.5,287.84 242.8,287.92 243.0,288.28 243.2,288.27 243.5,288.21 243.8,287.80 244.0,288.13 244.2,288.32 244.5,288.24 244.8,288.22 245.0,287.88 245.2,287.84 245.5,288.06 245.8,288.08 246.0,288.22 246.2,288.18 246.5,288.12 246.8,288.07 247.0,287.95 247.2,287.51 247.5,287.98 247.8,287.86 248.0,287.75 248.2,287.36 248.5,287.30 248.8,287.51 249.0,287.24 249.2,287.45 249.5,287.23 249.8,287.03 250.0,286.52 250.2,286.33 250.5,285.51 250.8,284.38 251.0,283.02 251.2,281.55 251.5,278.73 251.8,274.89 252.0,270.93 252.2,266.48 252.5,263.31 252.8,262.21 253.0,264.21 253.2,267.98 253.5,272.33 253.8,276.36 254.0,279.82 254.2,282.10 254.5,284.04 254.8,285.02 255.0,285.57 255.2,286.31 255.5,286.71 255.8,286.56 256.0,286.92 256.2,287.13 256.5,287.18 256.8,286.81 257.0,287.27 257.2,287.33 257.5,287.12 257.8,287.15 258.0,286.91 258.2,287.13 258.5,287.07 258.8,286.54 259.0,286.53 259.2,286.45 259.5,285.65 259.8,285.19 260.0,284.04 260.2,282.48 260.5,279.80 260.8,276.80 261.0,272.64 261.2,268.61 261.5,264.68 261.8,263.15 262.0,263.87 262.2,266.97 262.5,271.24 262.8,275.45 263.0,278.89 263.2,281.52 263.5,283.54 263.8,284.67 264.0,285.64 264.2,285.91 264.5,286.81 264.8,286.69 265.0,287.13 265.2,287.43 265.5,287.06 265.8,287.11 266.0,287.71 266.2,287.40 266.5,287.84 266.8,287.78 267.0,287.89 267.2,287.72 267.5,288.03 267.8,288.08 268.0,288.05 268.2,288.04 268.5,287.97 268.8,288.02 269.0,287.57 269.2,287.76 269.5,287.67 269.8,287.28 270.0,287.27 270.2,287.05 270.5,286.59 270.8,286.58 271.0,286.25 271.2,286.44 271.5,286.51 271.8,286.66 272.0,287.09 272.2,287.49 272.5,287.39 272.8,287.28 273.0,287.12 273.2,287.02 273.5,286.56 273.8,285.76 274.0,285.74 274.2,285.03 274.5,284.77 274.8,285.36 275.0,285.83 275.2,286.09 275.5,286.73 275.8,287.24 276.0,287.19 276.2,287.35 276.5,288.05 276.8,287.68 277.0,288.19 277.2,288.29 277.5,288.32 277.8,288.28 278.0,288.05 278.2,287.88 278.5,287.91 278.8,288.41 279.0,288.11 279.2,288.41 279.5,288.43 279.8,288.19 280.0,288.14 280.2,288.44 280.5,288.11 280.8,288.20 281.0,288.14 281.2,288.40 281.5,288.21 281.8,288.36 282.0,288.29 282.2,288.35 282.5,288.51 282.8,288.24 283.0,288.54 283.2,288.45 283.5,288.35 283.8,288.36 284.0,288.18 284.2,288.23 284.5,288.47 284.8,288.20 285.0,288.28 285.2,288.54 285.5,288.53 285.8,288.17 286.0,288.48 286.2,288.29 286.5,288.27 286.8,288.11 287.0,288.10 287.2,288.16 287.5,288.55 287.8,288.44 288.0,288.47 288.2,288.05 288.5,288.29 288.8,288.45 289.0,288.08 289.2,288.54 289.5,288.48 289.8,288.49 290.0,288.56 290.2,288.42 290.5,288.01 290.8,288.52 291.0,288.49 291.2,288.08 291.5,288.39 291.8,288.52 292.0,288.39 292.2,288.49 292.5,288.54 292.8,288.44 293.0,288.59 293.2,288.50 293.5,288.45 293.8,288.08 294.0,288.14 294.2,288.29 294.5,288.54 294.8,288.08 295.0,288.34 295.2,288.58 295.5,288.61 295.8,288.51 296.0,288.49 296.2,288.28 296.5,288.49 296.8,288.40 297.0,288.30 297.2,288.43 297.5,288.55 297.8,288.53 298.0,288.23 298.2,288.57 298.5,288.56 298.8,288.30 299.0,288.56 299.2,288.47 299.5,288.56 299.8,288.17 300.0,288.24 300.2,288.06 300.5,288.29 300.8,288.11 301.0,288.13 301.2,288.29 301.5,288.51 301.8,288.61 302.0,288.02 302.2,288.39 302.5,288.09 302.8,288.55 303.0,288.45 303.2,288.51 303.5,288.53 303.8,288.40 304.0,288.52 304.2,288.45 304.5,288.60 304.8,288.40 305.0,288.51 305.2,288.18 305.5,288.49 305.8,288.58 306.0,288.50 306.2,288.30 306.5,288.26 306.8,288.00 307.0,288.37 307.2,288.48 307.5,288.40 307.8,288.47 308.0,288.20 308.2,288.48 308.5,288.31 308.8,288.09 309.0,288.24 309.2,288.16 309.5,288.24 309.8,288.00 310.0,288.47 310.2,288.42 310.5,288.38 310.8,288.55 311.0,288.05 311.2,288.39 311.5,288.53 311.8,288.11 312.0,288.53 312.2,288.10 312.5,288.41 312.8,288.48 313.0,288.48 313.2,288.38 313.5,288.47 313.8,288.20 314.0,288.49 314.2,288.17 314.5,288.46 314.8,288.22 315.0,288.38 315.2,288.44 315.5,288.55 315.8,288.07 316.0,288.50 316.2,287.98 316.5,288.30 316.8,288.54 317.0,288.48 317.2,288.56 317.5,288.24 317.8,288.45 318.0,288.44 318.2,288.26 318.5,288.49 318.8,288.49 319.0,288.52 319.2,288.30 319.5,288.49 319.8,288.45 320.0,288.32 320.2,288.36 320.5,288.20 320.8,287.85 321.0,287.71 321.2,287.72 321.5,287.69 321.8,287.46 322.0,287.57 322.2,287.33 322.5,287.54 322.8,287.55 323.0,287.63 323.2,287.40 323.5,287.91 323.8,287.91 324.0,287.72 324.2,288.18 324.5,288.22 324.8,288.23 325.0,287.73 325.2,288.04 325.5,288.14 325.8,287.92 326.0,287.58 326.2,287.30 326.5,287.69 326.8,287.26 327.0,287.24 327.2,287.59 327.5,287.36 327.8,287.35 328.0,287.53 328.2,287.78 328.5,287.95 328.8,288.09 329.0,288.28 329.2,288.29 329.5,288.41 329.8,288.23 330.0,288.02 330.2,288.26 330.5,288.41 330.8,288.34 331.0,287.92 331.2,287.72 331.5,288.14 331.8,287.97 332.0,287.63 332.2,287.68 332.5,287.04 332.8,287.41 333.0,287.33 333.2,287.26 333.5,287.10 333.8,287.60 334.0,287.70 334.2,288.00 334.5,288.13 334.8,288.14 335.0,288.17 335.2,288.44 335.5,288.04 335.8,288.12 336.0,288.46 336.2,288.27 336.5,288.34 336.8,288.13 337.0,288.52 337.2,288.04 337.5,288.55 337.8,288.55 338.0,288.29 338.2,288.49 338.5,288.59 338.8,288.35 339.0,288.55 339.2,288.16 339.5,288.54 339.8,288.48 340.0,288.06 340.2,288.26 340.5,288.31 340.8,288.60 341.0,288.06 341.2,288.14 341.5,288.30 341.8,288.40 342.0,288.56 342.2,288.21 342.5,288.46 342.8,288.51 343.0,288.29 343.2,288.02 343.5,288.56 343.8,288.31 344.0,288.58 344.2,288.12 344.5,288.38 344.8,288.38 345.0,288.31 345.2,288.52 345.5,288.18 345.8,288.52 346.0,288.42 346.2,288.19 346.5,288.12 346.8,288.15 347.0,288.56 347.2,288.61 347.5,288.63 347.8,288.49 348.0,288.59 348.2,288.04 348.5,288.27 348.8,288.60 349.0,288.37 349.2,288.16 349.5,288.15 349.8,288.53 350.0,288.60 350.2,288.23 350.5,288.42 350.8,288.09 351.0,288.33 351.2,288.12 351.5,288.52 351.8,288.57 352.0,288.55 352.2,288.42 352.5,288.30 352.8,288.22 353.0,288.46 353.2,288.27 353.5,288.55 353.8,288.43 354.0,288.32 354.2,288.58 354.5,288.39 354.8,288.48 355.0,288.54 355.2,288.01 355.5,288.33 355.8,288.50 356.0,288.27 356.2,288.50 356.5,288.57 356.8,288.54 357.0,288.23 357.2,288.58 357.5,288.55 357.8,288.24 358.0,288.38 358.2,288.16 358.5,288.06 358.8,288.15 359.0,288.39 359.2,288.14 359.5,288.50 359.8,288.39 360.0,288.01 360.2,288.23 360.5,288.32 360.8,288.23 361.0,288.40 361.2,288.57 361.5,288.53 361.8,288.31 362.0,288.16 362.2,288.40 362.5,288.42 362.8,288.53 363.0,288.28 363.2,288.43 363.5,288.08 363.8,288.50 364.0,288.36 364.2,288.42 364.5,288.25 364.8,288.32 365.0,288.22 365.2,288.48 365.5,288.32 365.8,288.40 366.0,288.34 366.2,288.25 366.5,288.20 366.8,287.85 367.0,287.61 367.2,287.87 367.5,287.34 367.8,287.63 368.0,287.53 368.2,287.53 368.5,287.54 368.8,287.73 369.0,287.84 369.2,288.01 369.5,288.29 369.8,287.91 370.0,288.40 370.2,287.91 370.5,288.05 370.8,288.16 371.0,288.21 371.2,288.09 371.5,288.41 371.8,288.44 372.0,288.55 372.2,288.58 372.5,288.45 372.8,288.35 373.0,287.96 373.2,288.15 373.5,288.55 373.8,288.28 374.0,288.56 374.2,288.37 374.5,288.23 374.8,288.37 375.0,288.45 375.2,288.54 375.5,288.35 375.8,288.23 376.0,288.45 376.2,288.22 376.5,288.08 376.8,288.53 377.0,288.27 377.2,288.38 377.5,288.56 377.8,288.31 378.0,288.58 378.2,288.43 378.5,288.58 378.8,288.27 379.0,288.52 379.2,288.51 379.5,288.40 379.8,288.05 380.0,288.35 380.2,288.13 380.5,288.50 380.8,288.53 381.0,288.57 381.2,288.59 381.5,288.45 381.8,288.36 382.0,288.08 382.2,288.42 382.5,288.35 382.8,288.23 383.0,288.58 383.2,288.63 383.5,288.56 383.8,288.59 384.0,288.57 384.2,288.37 384.5,288.49 384.8,288.51 385.0,288.55 385.2,288.47 385.5,288.57 385.8,288.37 386.0,288.48 386.2,288.30 386.5,288.32 386.8,288.50 387.0,288.55 387.2,288.23 387.5,288.48 387.8,288.43 388.0,288.50 388.2,288.61 388.5,288.51 388.8,288.59 389.0,288.53 389.2,288.57 389.5,288.52 389.8,288.01 390.0,288.18 390.2,288.11 390.5,288.54 390.8,288.52 391.0,288.35 391.2,288.38 391.5,288.54 391.8,288.39 392.0,288.60 392.2,288.58 392.5,288.57 392.8,288.31 393.0,288.52 393.2,288.41 393.5,288.47 393.8,288.41 394.0,288.09 394.2,288.28 394.5,288.51 394.8,288.20 395.0,288.32 395.2,287.94 395.5,288.24 395.8,288.49 396.0,288.41 396.2,288.20 396.5,288.29 396.8,288.44 397.0,288.11 397.2,288.25 397.5,288.17 397.8,287.70 398.0,287.41 398.2,287.65 398.5,287.61 398.8,287.60 399.0,287.77 399.2,287.28 399.5,287.85 399.8,287.74 400.0,288.02 400.2,288.24 400.5,288.33 400.8,288.31 401.0,288.45 401.2,288.31 401.5,288.03 401.8,288.45 402.0,288.33 402.2,288.27 402.5,288.50 402.8,288.51 403.0,288.32 403.2,288.50 403.5,288.23 403.8,288.58 404.0,288.55 404.2,288.12 404.5,288.48 404.8,288.16 405.0,288.20 405.2,288.35 405.5,288.15 405.8,288.05 406.0,288.32 406.2,288.39 406.5,288.47 406.8,288.45 407.0,288.21 407.2,288.58 407.5,288.46 407.8,288.58 408.0,288.32 408.2,288.60 408.5,288.37 408.8,288.19 409.0,288.14 409.2,288.43 409.5,288.61 409.8,288.59 410.0,288.22 410.2,288.62 410.5,288.01 410.8,288.60 411.0,288.59 411.2,288.35 411.5,288.57 411.8,288.37 412.0,288.41 412.2,288.10 412.5,288.12 412.8,288.11 413.0,288.41 413.2,288.37 413.5,288.49 413.8,288.27 414.0,288.32 414.2,288.59 414.5,288.55 414.8,288.09 415.0,288.24 415.2,288.55 415.5,288.16 415.8,288.56 416.0,288.52 416.2,288.62 416.5,288.55 416.8,288.37 417.0,288.42 417.2,288.19 417.5,288.54 417.8,288.44 418.0,288.48 418.2,288.59 418.5,288.23 418.8,288.42 419.0,288.50 419.2,288.10 419.5,288.59 419.8,288.59 420.0,288.49 420.2,288.23 420.5,288.02 420.8,288.10 421.0,288.53 421.2,288.50 421.5,288.59 421.8,288.53 422.0,288.01 422.2,288.13 422.5,288.05 422.8,288.39 423.0,288.40 423.2,288.54 423.5,288.21 423.8,288.49 424.0,288.08 424.2,288.28 424.5,288.47 424.8,288.23 425.0,288.57 425.2,288.55 425.5,288.54 425.8,288.50 426.0,288.50 426.2,288.24 426.5,288.44 426.8,288.46 427.0,288.30 427.2,288.41 427.5,288.31 427.8,287.86 428.0,287.90 428.2,287.68 428.5,287.35 428.8,287.34 429.0,286.91 429.2,286.54 429.5,286.48 429.8,286.08 430.0,286.29 430.2,286.61 430.5,286.89 430.8,287.21 431.0,287.31 431.2,287.39 431.5,287.87 431.8,288.15 432.0,287.96 432.2,287.93 432.5,288.36 432.8,288.03 433.0,288.04 433.2,288.42 433.5,288.24 433.8,288.02 434.0,288.25 434.2,288.07 434.5,288.34 434.8,288.49 435.0,288.52 435.2,288.02 435.5,288.54 435.8,288.18 436.0,288.53 436.2,288.58 436.5,288.52 436.8,288.33 437.0,288.07 437.2,288.46 437.5,288.56 437.8,288.43 438.0,288.57 438.2,288.51 438.5,288.61 438.8,288.15 439.0,288.44 439.2,288.39 439.5,288.29 439.8,288.58 440.0,288.24 440.2,288.36 440.5,288.14 440.8,288.47 441.0,288.39 441.2,288.28 441.5,288.25 441.8,288.50 442.0,288.63 442.2,288.38 442.5,288.41 442.8,288.37 443.0,288.45 443.2,288.21 443.5,288.40 443.8,288.31 444.0,288.25 444.2,288.02 444.5,288.40 444.8,288.60 445.0,288.19 445.2,288.52 445.5,288.03 445.8,288.02 446.0,288.20 446.2,288.63 446.5,288.56 446.8,288.12 447.0,288.47 447.2,288.57 447.5,288.09 447.8,288.10 448.0,288.52 448.2,288.55 448.5,288.60 448.8,288.60 449.0,288.48 449.2,288.62 449.5,288.45 449.8,288.37 450.0,288.60 450.2,288.42 450.5,288.04 450.8,288.54 451.0,288.53 451.2,288.49 451.5,288.46 451.8,288.31 452.0,288.29 452.2,288.33 452.5,288.50 452.8,288.54 453.0,288.39 453.2,288.28 453.5,288.38 453.8,288.10 454.0,288.40 454.2,288.63 454.5,288.55 454.8,288.55 455.0,288.59 455.2,288.05 455.5,288.62 455.8,288.17 456.0,288.12 456.2,288.60 456.5,288.23 456.8,288.59 457.0,288.30 457.2,288.58 457.5,288.24 457.8,288.47 458.0,288.50 458.2,288.10 458.5,288.49 458.8,288.52 459.0,288.47 459.2,288.59 459.5,288.52 459.8,288.54 460.0,288.57 460.2,288.17 460.5,288.55 460.8,288.37 461.0,288.29 461.2,288.56 461.5,288.43 461.8,288.61 462.0,288.48 462.2,288.50 462.5,288.19 462.8,288.14 463.0,288.49 463.2,288.51 463.5,288.46 463.8,288.56 464.0,288.40 464.2,288.52 464.5,288.55 464.8,288.31 465.0,288.26 465.2,288.41 465.5,288.59 465.8,288.14 466.0,288.58 466.2,288.45 466.5,288.51 466.8,288.38 467.0,288.30 467.2,288.65 467.5,288.22 467.8,288.62 468.0,288.42 468.2,288.61 468.5,288.05 468.8,288.11 469.0,288.18 469.2,288.09 469.5,288.30 469.8,288.39 470.0,288.00 470.2,288.58 470.5,288.39 470.8,288.18 471.0,288.19 471.2,288.49 471.5,288.31 471.8,288.62 472.0,288.62 472.2,288.34 472.5,288.52 472.8,288.63 473.0,288.61 473.2,288.49 473.5,288.36 473.8,288.40 474.0,288.53 474.2,288.57 474.5,288.35 474.8,288.40 475.0,288.56 475.2,288.26 475.5,288.31 475.8,288.36 476.0,288.35 476.2,288.52 476.5,288.45 476.8,288.60 477.0,288.07 477.2,288.12 477.5,288.45 477.8,288.54 478.0,288.50 478.2,288.58 478.5,288.38 478.8,288.11 479.0,288.12 479.2,288.41 479.5,288.05 479.8,288.50 480.0,288.24 480.2,288.48 480.5,288.18 480.8,288.51 481.0,288.00 481.2,288.62 481.5,288.61 481.8,288.55 482.0,288.40 482.2,288.47 482.5,288.35 482.8,288.60 483.0,288.00 483.2,288.49 483.5,288.24 483.8,288.43 484.0,288.49 484.2,288.39 484.5,288.18 484.8,288.09 485.0,287.89 485.2,288.16 485.5,287.98 485.8,287.91 486.0,287.76 486.2,287.62 486.5,287.59 486.8,287.42 487.0,287.67 487.2,287.76 487.5,287.79 487.8,287.94 488.0,288.13 488.2,288.12 488.5,288.40 488.8,288.26 489.0,288.36 489.2,288.19 489.5,288.37 489.8,288.04 490.0,288.20 490.2,288.46 490.5,288.12 490.8,288.31 491.0,288.49 491.2,288.20 491.5,288.37 491.8,288.40 492.0,288.50 492.2,288.20 492.5,288.30 492.8,288.23 493.0,288.30 493.2,288.46 493.5,288.19 493.8,288.17 494.0,288.30 494.2,288.55 494.5,288.39 494.8,288.58 495.0,288.56 495.2,288.07 495.5,288.38 495.8,288.13 496.0,288.46 496.2,288.57 496.5,288.31 496.8,288.20 497.0,288.45 497.2,288.54 497.5,288.16 497.8,288.17 498.0,288.15 498.2,288.44 498.5,288.15 498.8,288.02 499.0,288.09 499.2,288.05 499.5,288.10 499.8,287.99 500.0,287.86 500.2,287.79 500.5,287.71 500.8,287.72 501.0,287.61 501.2,287.76 501.5,287.69 501.8,288.07 502.0,287.99 502.2,288.24 502.5,288.13 502.8,288.01 503.0,288.15 503.2,288.23 503.5,288.42 503.8,287.95 504.0,288.36 504.2,288.43 504.5,288.56 504.8,288.45 505.0,288.12 505.2,288.50 505.5,288.44 505.8,288.50 506.0,288.11 506.2,288.20 506.5,288.53 506.8,288.52 507.0,288.57 507.2,288.27 507.5,288.57 507.8,288.20 508.0,288.53 508.2,288.06 508.5,288.62 508.8,288.11 509.0,288.06 509.2,288.54 509.5,288.13 509.8,288.46 510.0,288.44 510.2,288.52 510.5,288.32 510.8,288.47 511.0,288.46 511.2,288.47 511.5,288.49 511.8,288.52 512.0,288.47 512.2,288.08 512.5,288.57 512.8,288.47 513.0,288.64 513.2,288.41 513.5,288.60 513.8,288.31 514.0,288.56 514.2,288.31 514.5,288.10 514.8,287.99 515.0,288.52 515.2,288.39 515.5,288.52 515.8,288.38 516.0,288.36 516.2,288.57 516.5,288.58 516.8,288.52 517.0,288.38 517.2,288.32 517.5,288.29 517.8,288.53 518.0,288.49 518.2,288.21 518.5,288.33 518.8,288.34 519.0,288.32 519.2,288.52 519.5,288.25 519.8,288.53 520.0,288.55 520.2,288.48 520.5,288.46 520.8,288.28 521.0,288.38 521.2,288.32 521.5,288.20 521.8,288.58 522.0,288.61 522.2,288.02 522.5,288.18 522.8,288.51 523.0,288.49 523.2,288.30 523.5,288.29 523.8,288.50 524.0,288.51 524.2,288.34 524.5,288.34 524.8,288.18 525.0,287.91 525.2,288.32 525.5,288.10 525.8,288.13 526.0,287.77 526.2,287.72 526.5,287.74 526.8,287.67 527.0,287.63 527.2,287.45 527.5,287.58 527.8,288.09 528.0,288.11 528.2,288.27 528.5,288.33 528.8,288.38 529.0,288.39 529.2,288.46 529.5,288.27 529.8,288.52 530.0,288.20 530.2,288.49 530.5,288.27 530.8,288.43 531.0,288.42 531.2,288.51 531.5,288.40 531.8,288.51 532.0,288.07 532.2,288.28 532.5,288.21 532.8,288.10 533.0,288.53 533.2,288.62 533.5,288.41 533.8,288.49 534.0,288.32 534.2,288.39 534.5,288.49 534.8,288.48 535.0,288.20 535.2,288.61 535.5,288.39 535.8,288.27 536.0,288.47 536.2,288.52 536.5,288.34 536.8,288.59 537.0,288.39 537.2,288.27 537.5,288.19 537.8,288.39 538.0,288.53"/>
<polyline fill="none" stroke="#000000" stroke-width="2.0" stroke-linejoin="round" points="45.0,305.90 45.2,305.83 45.5,305.90 45.8,305.92 46.0,305.90 46.2,305.91 46.5,305.89 46.8,305.88 47.0,305.85 47.2,305.90 47.5,305.89 47.8,305.82 48.0,305.81 48.2,305.90 48.5,305.85 48.8,305.91 49.0,305.90 49.2,305.88 49.5,305.89 49.8,305.80 50.0,305.78 50.2,305.90 50.5,305.86 50.8,305.86 51.0,305.88 51.2,305.80 51.5,305.90 51.8,305.82 52.0,305.92 52.2,305.88 52.5,305.90 52.8,305.89 53.0,305.91 53.2,305.83 53.5,305.87 53.8,305.91 54.0,305.89 54.2,305.91 54.5,305.87 54.8,305.81 55.0,305.87 55.2,305.90 55.5,305.92 55.8,305.88 56.0,305.91 56.2,305.91 56.5,305.90 56.8,305.87 57.0,305.89 57.2,305.91 57.5,305.86 57.8,305.88 58.0,305.91 58.2,305.82 58.5,305.85 58.8,305.85 59.0,305.89 59.2,305.80 59.5,305.82 59.8,305.89 60.0,305.88 60.2,305.80 60.5,305.92 60.8,305.83 61.0,305.80 61.2,305.80 61.5,305.88 61.8,305.91 62.0,305.88 62.2,305.88 62.5,305.86 62.8,305.80 63.0,305.91 63.2,305.83 63.5,305.89 63.8,305.90 64.0,305.89 64.2,305.88 64.5,305.84 64.8,305.87 65.0,305.82 65.2,305.90 65.5,305.84 65.8,305.90 66.0,305.88 66.2,305.83 66.5,305.90 66.8,305.92 67.0,305.79 67.2,305.91 67.5,305.81 67.8,305.90 68.0,305.89 68.2,305.89 68.5,305.89 68.8,305.88 69.0,305.93 69.2,305.82 69.5,305.92 69.8,305.89 70.0,305.87 70.2,305.90 70.5,305.85 70.8,305.89 71.0,305.90 71.2,305.78 71.5,305.91 71.8,305.90 72.0,305.91 72.2,305.87 72.5,305.86 72.8,305.92 73.0,305.81 73.2,305.91 73.5,305.91 73.8,305.90 74.0,305.92 74.2,305.80 74.5,305.81 74.8,305.83 75.0,305.90 75.2,305.89 75.5,305.87 75.8,305.92 76.0,305.90 76.2,305.84 76.5,305.82 76.8,305.90 77.0,305.91 77.2,305.84 77.5,305.89 77.8,305.86 78.0,305.92 78.2,305.88 78.5,305.83 78.8,305.90 79.0,305.89 79.2,305.92 79.5,305.90 79.8,305.90 80.0,305.82 80.2,305.81 80.5,305.92 80.8,305.89 81.0,305.83 81.2,305.84 81.5,305.89 81.8,305.85 82.0,305.89 82.2,305.82 82.5,305.90 82.8,305.90 83.0,305.81 83.2,305.90 83.5,305.81 83.8,305.88 84.0,305.86 84.2,305.91 84.5,305.81 84.8,305.80 85.0,305.80 85.2,305.82 85.5,305.89 85.8,305.92 86.0,305.92 86.2,305.83 86.5,305.90 86.8,305.86 87.0,305.81 87.2,305.88 87.5,305.87 87.8,305.86 88.0,305.82 88.2,305.82 88.5,305.80 88.8,305.91 89.0,305.91 89.2,305.87 89.5,305.90 89.8,305.81 90.0,305.79 90.2,305.90 90.5,305.84 90.8,305.87 91.0,305.88 91.2,305.89 91.5,305.89 91.8,305.89 92.0,305.83 92.2,305.89 92.5,305.90 92.8,305.84 93.0,305.81 93.2,305.80 93.5,305.87 93.8,305.81 94.0,305.78 94.2,305.92 94.5,305.90 94.8,305.88 95.0,305.81 95.2,305.81 95.5,305.90 95.8,305.89 96.0,305.88 96.2,305.89 96.5,305.91 96.8,305.83 97.0,305.84 97.2,305.87 97.5,305.83 97.8,305.82 98.0,305.84 98.2,305.89 98.5,305.86 98.8,305.90 99.0,305.79 99.2,305.87 99.5,305.86 99.8,305.89 100.0,305.88 100.2,305.80 100.5,305.89 100.8,305.80 101.0,305.84 101.2,305.78 101.5,305.91 101.8,305.89 102.0,305.89 102.2,305.90 102.5,305.90 102.8,305.85 103.0,305.87 103.2,305.90 103.5,305.86 103.8,305.87 104.0,305.90 104.2,305.88 104.5,305.81 104.8,305.79 105.0,305.82 105.2,305.90 105.5,305.83 105.8,305.89 106.0,305.89 106.2,305.82 106.5,305.91 106.8,305.90 107.0,305.88 107.2,305.90 107.5,305.82 107.8,305.87 108.0,305.91 108.2,305.87 108.5,305.83 108.8,305.91 109.0,305.89 109.2,305.88 109.5,305.90 109.8,305.87 110.0,305.86 110.2,305.80 110.5,305.92 110.8,305.84 111.0,305.90 111.2,305.91 111.5,305.85 111.8,305.90 112.0,305.86 112.2,305.84 112.5,305.85 112.8,305.87 113.0,305.84 113.2,305.90 113.5,305.84 113.8,305.79 114.0,305.86 114.2,305.83 114.5,305.89 114.8,305.88 115.0,305.86 115.2,305.90 115.5,305.83 115.8,305.80 116.0,305.77 116.2,305.84 116.5,305.81 116.8,305.91 117.0,305.89 117.2,305.82 117.5,305.86 117.8,305.87 118.0,305.91 118.2,305.89 118.5,305.89 118.8,305.82 119.0,305.90 119.2,305.88 119.5,305.89 119.8,305.84 120.0,305.80 120.2,305.77 120.5,305.86 120.8,305.89 121.0,305.90 121.2,305.89 121.5,305.77 121.8,305.89 122.0,305.89 122.2,305.89 122.5,305.84 122.8,305.83 123.0,305.82 123.2,305.82 123.5,305.86 123.8,305.83 124.0,305.85 124.2,305.89 124.5,305.89 124.8,305.80 125.0,305.90 125.2,305.88 125.5,305.90 125.8,305.87 126.0,305.81 126.2,305.89 126.5,305.89 126.8,305.91 127.0,305.85 127.2,305.81 127.5,305.90 127.8,305.81 128.0,305.85 128.2,305.88 128.5,305.80 128.8,305.85 129.0,305.86 129.2,305.81 129.5,305.79 129.8,305.81 130.0,305.87 130.2,305.88 130.5,305.80 130.8,305.84 131.0,305.82 131.2,305.89 131.5,305.87 131.8,305.82 132.0,305.87 132.2,305.87 132.5,305.80 132.8,305.83 133.0,305.90 133.2,305.84 133.5,305.89 133.8,305.82 134.0,305.89 134.2,305.85 134.5,305.87 134.8,305.84 135.0,305.87 135.2,305.81 135.5,305.84 135.8,305.89 136.0,305.83 136.2,305.88 136.5,305.90 136.8,305.80 137.0,305.88 137.2,305.89 137.5,305.89 137.8,305.87 138.0,305.83 138.2,305.81 138.5,305.88 138.8,305.79 139.0,305.88 139.2,305.85 139.5,305.88 139.8,305.82 140.0,305.84 140.2,305.89 140.5,305.85 140.8,305.90 141.0,305.86 141.2,305.87 141.5,305.87 141.8,305.83 142.0,305.81 142.2,305.84 142.5,305.87 142.8,305.81 143.0,305.88 143.2,305.80 143.5,305.90 143.8,305.87 144.0,305.87 144.2,305.87 144.5,305.88 144.8,305.88 145.0,305.76 145.2,305.87 145.5,305.85 145.8,305.83 146.0,305.87 146.2,305.86 146.5,305.88 146.8,305.88 147.0,305.78 147.2,305.84 147.5,305.89 147.8,305.88 148.0,305.80 148.2,305.86 148.5,305.77 148.8,305.80 149.0,305.80 149.2,305.85 149.5,305.77 149.8,305.82 150.0,305.87 150.2,305.88 150.5,305.86 150.8,305.88 151.0,305.82 151.2,305.86 151.5,305.86 151.8,305.76 152.0,305.82 152.2,305.79 152.5,305.82 152.8,305.86 153.0,305.86 153.2,305.84 153.5,305.77 153.8,305.80 154.0,305.83 154.2,305.85 154.5,305.84 154.8,305.87 155.0,305.79 155.2,305.85 155.5,305.83 155.8,305.78 156.0,305.84 156.2,305.88 156.5,305.83 156.8,305.84 157.0,305.84 157.2,305.87 157.5,305.78 157.8,305.76 158.0,305.82 158.2,305.86 158.5,305.86 158.8,305.81 159.0,305.82 159.2,305.83 159.5,305.84 159.8,305.82 160.0,305.84 160.2,305.84 160.5,305.82 160.8,305.85 161.0,305.86 161.2,305.83 161.5,305.76 161.8,305.85 162.0,305.77 162.2,305.80 162.5,305.83 162.8,305.79 163.0,305.73 163.2,305.78 163.5,305.85 163.8,305.80 164.0,305.80 164.2,305.82 164.5,305.72 164.8,305.83 165.0,305.83 165.2,305.76 165.5,305.74 165.8,305.79 166.0,305.75 166.2,305.78 166.5,305.81 166.8,305.81 167.0,305.73 167.2,305.80 167.5,305.77 167.8,305.82 168.0,305.81 168.2,305.77 168.5,305.71 168.8,305.80 169.0,305.77 169.2,305.76 169.5,305.77 169.8,305.78 170.0,305.70 170.2,305.72 170.5,305.79 170.8,305.79 171.0,305.75 171.2,305.69 171.5,305.77 171.8,305.69 172.0,305.75 172.2,305.78 172.5,305.69 172.8,305.67 173.0,305.70 173.2,305.73 173.5,305.74 173.8,305.76 174.0,305.75 174.2,305.74 174.5,305.69 174.8,305.67 175.0,305.63 175.2,305.67 175.5,305.72 175.8,305.64 176.0,305.69 176.2,305.65 176.5,305.61 176.8,305.61 177.0,305.62 177.2,305.59 177.5,305.64 177.8,305.67 178.0,305.58 178.2,305.53 178.5,305.57 178.8,305.64 179.0,305.56 179.2,305.53 179.5,305.55 179.8,305.51 180.0,305.57 180.2,305.57 180.5,305.51 180.8,305.50 181.0,305.45 181.2,305.49 181.5,305.43 181.8,305.41 182.0,305.40 182.2,305.40 182.5,305.25 182.8,305.32 183.0,305.32 183.2,305.20 183.5,305.27 183.8,305.23 184.0,305.17 184.2,305.16 184.5,305.06 184.8,305.08 185.0,304.99 185.2,304.87 185.5,304.84 185.8,304.89 186.0,304.76 186.2,304.70 186.5,304.69 186.8,304.64 187.0,304.56 187.2,304.50 187.5,304.38 187.8,304.29 188.0,304.28 188.2,304.12 188.5,304.05 188.8,304.07 189.0,303.94 189.2,303.83 189.5,303.84 189.8,303.68 190.0,303.71 190.2,303.64 190.5,303.57 190.8,303.54 191.0,303.48 191.2,303.45 191.5,303.32 191.8,303.34 192.0,303.37 192.2,303.36 192.5,303.29 192.8,303.39 193.0,303.37 193.2,303.45 193.5,303.43 193.8,303.50 194.0,303.53 194.2,303.59 194.5,303.66 194.8,303.75 195.0,303.81 195.2,303.77 195.5,303.86 195.8,303.95 196.0,304.10 196.2,304.18 196.5,304.19 196.8,304.31 197.0,304.39 197.2,304.48 197.5,304.53 197.8,304.60 198.0,304.65 198.2,304.69 198.5,304.67 198.8,304.81 199.0,304.85 199.2,304.94 199.5,304.99 199.8,305.00 200.0,305.05 200.2,305.07 200.5,305.09 200.8,305.13 201.0,305.21 201.2,305.26 201.5,305.23 201.8,305.31 202.0,305.34 202.2,305.37 202.5,305.39 202.8,305.33 203.0,305.41 203.2,305.38 203.5,305.39 203.8,305.47 204.0,305.46 204.2,305.45 204.5,305.52 204.8,305.54 205.0,305.47 205.2,305.53 205.5,305.53 205.8,305.49 206.0,305.52 206.2,305.53 206.5,305.60 206.8,305.57 207.0,305.60 207.2,305.62 207.5,305.58 207.8,305.57 208.0,305.51 208.2,305.60 208.5,305.56 208.8,305.55 209.0,305.61 209.2,305.65 209.5,305.57 209.8,305.65 210.0,305.65 210.2,305.65 210.5,305.65 210.8,305.54 211.0,305.65 211.2,305.59 211.5,305.65 211.8,305.64 212.0,305.65 212.2,305.57 212.5,305.61 212.8,305.65 213.0,305.69 213.2,305.61 213.5,305.55 213.8,305.69 214.0,305.63 214.2,305.65 214.5,305.60 214.8,305.61 215.0,305.68 215.2,305.65 215.5,305.67 215.8,305.61 216.0,305.66 216.2,305.68 216.5,305.68 216.8,305.67 217.0,305.67 217.2,305.55 217.5,305.65 217.8,305.59 218.0,305.64 218.2,305.67 218.5,305.61 218.8,305.65 219.0,305.54 219.2,305.63 219.5,305.64 219.8,305.58 220.0,305.56 220.2,305.63 220.5,305.58 220.8,305.61 221.0,305.62 221.2,305.61 221.5,305.59 221.8,305.52 222.0,305.52 222.2,305.56 222.5,305.57 222.8,305.60 223.0,305.57 223.2,305.51 223.5,305.46 223.8,305.52 224.0,305.51 224.2,305.49 224.5,305.48 224.8,305.53 225.0,305.40 225.2,305.51 225.5,305.48 225.8,305.44 226.0,305.43 226.2,305.44 226.5,305.42 226.8,305.39 227.0,305.43 227.2,305.33 227.5,305.32 227.8,305.28 228.0,305.30 228.2,305.31 228.5,305.27 228.8,305.32 229.0,305.22 229.2,305.27 229.5,305.23 229.8,305.15 230.0,305.15 230.2,305.13 230.5,305.08 230.8,304.99 231.0,304.96 231.2,305.00 231.5,304.95 231.8,304.81 232.0,304.80 232.2,304.78 232.5,304.72 232.8,304.68 233.0,304.53 233.2,304.48 233.5,304.48 233.8,304.38 234.0,304.20 234.2,304.17 234.5,304.09 234.8,303.92 235.0,303.78 235.2,303.72 235.5,303.61 235.8,303.37 236.0,303.27 236.2,303.18 236.5,303.02 236.8,302.85 237.0,302.61 237.2,302.48 237.5,302.30 237.8,302.06 238.0,301.92 238.2,301.70 238.5,301.55 238.8,301.33 239.0,301.13 239.2,300.90 239.5,300.74 239.8,300.58 240.0,300.39 240.2,300.32 240.5,300.18 240.8,300.00 241.0,300.01 241.2,299.86 241.5,299.80 241.8,299.86 242.0,299.81 242.2,299.86 242.5,300.03 242.8,300.12 243.0,300.24 243.2,300.37 243.5,300.53 243.8,300.69 244.0,300.84 244.2,301.05 244.5,301.15 244.8,301.40 245.0,301.57 245.2,301.83 245.5,301.94 245.8,302.14 246.0,302.42 246.2,302.57 246.5,302.72 246.8,302.89 247.0,303.08 247.2,303.21 247.5,303.35 247.8,303.48 248.0,303.61 248.2,303.75 248.5,303.93 248.8,304.02 249.0,304.13 249.2,304.24 249.5,304.27 249.8,304.32 250.0,304.42 250.2,304.55 250.5,304.57 250.8,304.71 251.0,304.69 251.2,304.79 251.5,304.86 251.8,304.95 252.0,305.00 252.2,305.00 252.5,305.09 252.8,305.13 253.0,305.16 253.2,305.07 253.5,305.10 253.8,305.23 254.0,305.29 254.2,305.31 254.5,305.30 254.8,305.30 255.0,305.35 255.2,305.40 255.5,305.40 255.8,305.38 256.0,305.34 256.2,305.46 256.5,305.48 256.8,305.48 257.0,305.50 257.2,305.46 257.5,305.50 257.8,305.54 258.0,305.51 258.2,305.55 258.5,305.49 258.8,305.55 259.0,305.46 259.2,305.56 259.5,305.55 259.8,305.56 260.0,305.51 260.2,305.52 260.5,305.63 260.8,305.54 261.0,305.64 261.2,305.57 261.5,305.56 261.8,305.66 262.0,305.64 262.2,305.63 262.5,305.66 262.8,305.64 263.0,305.61 263.2,305.58 263.5,305.69 263.8,305.62 264.0,305.61 264.2,305.65 264.5,305.70 264.8,305.72 265.0,305.71 265.2,305.73 265.5,305.64 265.8,305.73 266.0,305.68 266.2,305.70 266.5,305.72 266.8,305.66 267.0,305.69 267.2,305.76 267.5,305.73 267.8,305.72 268.0,305.70 268.2,305.69 268.5,305.70 268.8,305.78 269.0,305.73 269.2,305.71 269.5,305.68 269.8,305.67 270.0,305.77 270.2,305.73 270.5,305.72 270.8,305.78 271.0,305.74 271.2,305.69 271.5,305.80 271.8,305.74 272.0,305.75 272.2,305.74 272.5,305.79 272.8,305.79 273.0,305.70 273.2,305.81 273.5,305.77 273.8,305.80 274.0,305.79 274.2,305.80 274.5,305.78 274.8,305.70 275.0,305.80 275.2,305.77 275.5,305.82 275.8,305.77 276.0,305.82 276.2,305.79 276.5,305.81 276.8,305.81 277.0,305.83 277.2,305.78 277.5,305.75 277.8,305.73 278.0,305.80 278.2,305.73 278.5,305.80 278.8,305.78 279.0,305.83 279.2,305.83 279.5,305.77 279.8,305.75 280.0,305.72 280.2,305.82 280.5,305.75 280.8,305.84 281.0,305.80 281.2,305.76 281.5,305.85 281.8,305.83 282.0,305.77 282.2,305.84 282.5,305.85 282.8,305.83 283.0,305.77 283.2,305.81 283.5,305.83 283.8,305.80 284.0,305.81 284.2,305.79 284.5,305.80 284.8,305.81 285.0,305.81 285.2,305.79 285.5,305.83 285.8,305.86 286.0,305.85 286.2,305.84 286.5,305.84 286.8,305.84 287.0,305.85 287.2,305.81 287.5,305.82 287.8,305.86 288.0,305.81 288.2,305.77 288.5,305.83 288.8,305.86 289.0,305.85 289.2,305.78 289.5,305.84 289.8,305.86 290.0,305.75 290.2,305.82 290.5,305.87 290.8,305.85 291.0,305.76 291.2,305.81 291.5,305.87 291.8,305.78 292.0,305.83 292.2,305.77 292.5,305.87 292.8,305.84 293.0,305.85 293.2,305.84 293.5,305.83 293.8,305.82 294.0,305.79 294.2,305.86 294.5,305.86 294.8,305.86 295.0,305.76 295.2,305.85 295.5,305.79 295.8,305.77 296.0,305.79 296.2,305.87 296.5,305.81 296.8,305.78 297.0,305.83 297.2,305.80 297.5,305.86 297.8,305.87 298.0,305.86 298.2,305.78 298.5,305.81 298.8,305.87 299.0,305.78 299.2,305.81 299.5,305.78 299.8,305.85 300.0,305.75 300.2,305.88 300.5,305.77 300.8,305.79 301.0,305.84 301.2,305.87 301.5,305.87 301.8,305.75 302.0,305.87 302.2,305.88 302.5,305.78 302.8,305.78 303.0,305.88 303.2,305.79 303.5,305.86 303.8,305.77 304.0,305.77 304.2,305.88 304.5,305.86 304.8,305.80 305.0,305.84 305.2,305.86 305.5,305.88 305.8,305.81 306.0,305.89 306.2,305.86 306.5,305.87 306.8,305.86 307.0,305.85 307.2,305.86 307.5,305.82 307.8,305.81 308.0,305.84 308.2,305.82 308.5,305.83 308.8,305.86 309.0,305.78 309.2,305.82 309.5,305.78 309.8,305.81 310.0,305.89 310.2,305.82 310.5,305.78 310.8,305.87 311.0,305.90 311.2,305.81 311.5,305.81 311.8,305.86 312.0,305.83 312.2,305.88 312.5,305.85 312.8,305.89 313.0,305.87 313.2,305.85 313.5,305.88 313.8,305.89 314.0,305.88 314.2,305.82 314.5,305.82 314.8,305.85 315.0,305.85 315.2,305.84 315.5,305.80 315.8,305.87 316.0,305.86 316.2,305.87 316.5,305.90 316.8,305.88 317.0,305.85 317.2,305.85 317.5,305.81 317.8,305.82 318.0,305.88 318.2,305.79 318.5,305.86 318.8,305.77 319.0,305.86 319.2,305.87 319.5,305.86 319.8,305.87 320.0,305.80 320.2,305.75 320.5,305.89 320.8,305.88 321.0,305.82 321.2,305.83 321.5,305.80 321.8,305.82 322.0,305.85 322.2,305.88 322.5,305.86 322.8,305.87 323.0,305.89 323.2,305.81 323.5,305.87 323.8,305.82 324.0,305.76 324.2,305.82 324.5,305.81 324.8,305.87 325.0,305.85 325.2,305.87 325.5,305.89 325.8,305.86 326.0,305.87 326.2,305.82 326.5,305.85 326.8,305.88 327.0,305.82 327.2,305.86 327.5,305.87 327.8,305.84 328.0,305.87 328.2,305.88 328.5,305.83 328.8,305.85 329.0,305.82 329.2,305.86 329.5,305.83 329.8,305.88 330.0,305.84 330.2,305.89 330.5,305.85 330.8,305.81 331.0,305.87 331.2,305.80 331.5,305.87 331.8,305.86 332.0,305.83 332.2,305.79 332.5,305.80 332.8,305.89 333.0,305.89 333.2,305.89 333.5,305.89 333.8,305.78 334.0,305.89 334.2,305.80 334.5,305.90 334.8,305.83 335.0,305.79 335.2,305.77 335.5,305.90 335.8,305.81 336.0,305.87 336.2,305.84 336.5,305.76 336.8,305.86 337.0,305.81 337.2,305.88 337.5,305.84 337.8,305.88 338.0,305.81 338.2,305.76 338.5,305.80 338.8,305.81 339.0,305.77 339.2,305.76 339.5,305.83 339.8,305.89 340.0,305.87 340.2,305.89 340.5,305.79 340.8,305.83 341.0,305.80 341.2,305.81 341.5,305.87 341.8,305.83 342.0,305.89 342.2,305.81 342.5,305.89 342.8,305.87 343.0,305.86 343.2,305.86 343.5,305.76 343.8,305.88 344.0,305.89 344.2,305.82 344.5,305.81 344.8,305.83 345.0,305.87 345.2,305.89 345.5,305.76 345.8,305.88 346.0,305.82 346.2,305.79 346.5,305.78 346.8,305.87 347.0,305.82 347.2,305.87 347.5,305.78 347.8,305.87 348.0,305.81 348.2,305.85 348.5,305.86 348.8,305.89 349.0,305.86 349.2,305.84 349.5,305.83 349.8,305.87 350.0,305.89 350.2,305.89 350.5,305.85 350.8,305.87 351.0,305.81 351.2,305.86 351.5,305.84 351.8,305.85 352.0,305.86 352.2,305.87 352.5,305.87 352.8,305.87 353.0,305.83 353.2,305.88 353.5,305.88 353.8,305.87 354.0,305.86 354.2,305.84 354.5,305.86 354.8,305.88 355.0,305.87 355.2,305.81 355.5,305.85 355.8,305.76 356.0,305.84 356.2,305.84 356.5,305.85 356.8,305.81 357.0,305.86 357.2,305.78 357.5,305.85 357.8,305.81 358.0,305.84 358.2,305.82 358.5,305.80 358.8,305.75 359.0,305.77 359.2,305.85 359.5,305.85 359.8,305.85 360.0,305.84 360.2,305.78 360.5,305.84 360.8,305.78 361.0,305.79 361.2,305.85 361.5,305.76 361.8,305.83 362.0,305.85 362.2,305.87 362.5,305.81 362.8,305.85 363.0,305.82 363.2,305.84 363.5,305.86 363.8,305.85 364.0,305.85 364.2,305.81 364.5,305.74 364.8,305.75 365.0,305.85 365.2,305.80 365.5,305.76 365.8,305.77 366.0,305.74 366.2,305.86 366.5,305.78 366.8,305.77 367.0,305.76 367.2,305.85 367.5,305.83 367.8,305.74 368.0,305.81 368.2,305.78 368.5,305.84 368.8,305.85 369.0,305.84 369.2,305.82 369.5,305.83 369.8,305.77 370.0,305.71 370.2,305.81 370.5,305.79 370.8,305.72 371.0,305.76 371.2,305.77 371.5,305.77 371.8,305.81 372.0,305.79 372.2,305.74 372.5,305.80 372.8,305.73 373.0,305.74 373.2,305.78 373.5,305.81 373.8,305.73 374.0,305.79 374.2,305.79 374.5,305.77 374.8,305.81 375.0,305.81 375.2,305.80 375.5,305.70 375.8,305.78 376.0,305.73 376.2,305.79 376.5,305.75 376.8,305.72 377.0,305.79 377.2,305.80 377.5,305.78 377.8,305.78 378.0,305.78 378.2,305.77 378.5,305.74 378.8,305.66 379.0,305.76 379.2,305.67 379.5,305.75 379.8,305.77 380.0,305.75 380.2,305.65 380.5,305.71 380.8,305.73 381.0,305.68 381.2,305.67 381.5,305.63 381.8,305.69 382.0,305.63 382.2,305.66 382.5,305.68 382.8,305.63 383.0,305.68 383.2,305.67 383.5,305.65 383.8,305.59 384.0,305.58 384.2,305.67 384.5,305.70 384.8,305.62 385.0,305.59 385.2,305.67 385.5,305.63 385.8,305.52 386.0,305.66 386.2,305.53 386.5,305.53 386.8,305.56 387.0,305.56 387.2,305.60 387.5,305.52 387.8,305.57 388.0,305.49 388.2,305.53 388.5,305.43 388.8,305.52 389.0,305.42 389.2,305.43 389.5,305.47 389.8,305.45 390.0,305.44 390.2,305.42 390.5,305.30 390.8,305.30 391.0,305.33 391.2,305.32 391.5,305.29 391.8,305.24 392.0,305.19 392.2,305.22 392.5,305.19 392.8,305.06 393.0,305.06 393.2,305.10 393.5,304.96 393.8,304.97 394.0,304.98 394.2,304.86 394.5,304.77 394.8,304.84 395.0,304.78 395.2,304.75 395.5,304.60 395.8,304.62 396.0,304.50 396.2,304.51 396.5,304.46 396.8,304.34 397.0,304.24 397.2,304.17 397.5,304.09 397.8,304.13 398.0,304.04 398.2,303.97 398.5,303.93 398.8,303.77 399.0,303.67 399.2,303.70 399.5,303.64 399.8,303.57 400.0,303.42 400.2,303.45 400.5,303.38 400.8,303.28 401.0,303.29 401.2,303.21 401.5,303.19 401.8,303.07 402.0,303.11 402.2,303.13 402.5,303.05 402.8,303.10 403.0,303.09 403.2,303.11 403.5,303.14 403.8,303.12 404.0,303.15 404.2,303.12 404.5,303.25 404.8,303.28 405.0,303.28 405.2,303.41 405.5,303.43 405.8,303.52 406.0,303.52 406.2,303.61 406.5,303.74 406.8,303.77 407.0,303.84 407.2,303.98 407.5,303.96 407.8,304.10 408.0,304.15 408.2,304.24 408.5,304.28 408.8,304.38 409.0,304.43 409.2,304.50 409.5,304.53 409.8,304.61 410.0,304.63 410.2,304.74 410.5,304.72 410.8,304.82 411.0,304.85 411.2,304.84 411.5,304.86 411.8,304.97 412.0,305.00 412.2,305.02 412.5,305.10 412.8,305.06 413.0,305.18 413.2,305.17 413.5,305.25 413.8,305.27 414.0,305.31 414.2,305.28 414.5,305.23 414.8,305.35 415.0,305.40 415.2,305.41 415.5,305.44 415.8,305.46 416.0,305.49 416.2,305.49 416.5,305.41 416.8,305.50 417.0,305.41 417.2,305.48 417.5,305.56 417.8,305.53 418.0,305.59 418.2,305.54 418.5,305.60 418.8,305.62 419.0,305.56 419.2,305.54 419.5,305.64 419.8,305.64 420.0,305.56 420.2,305.66 420.5,305.60 420.8,305.60 421.0,305.62 421.2,305.58 421.5,305.59 421.8,305.60 422.0,305.70 422.2,305.67 422.5,305.65 422.8,305.72 423.0,305.65 423.2,305.71 423.5,305.73 423.8,305.73 424.0,305.72 424.2,305.65 424.5,305.75 424.8,305.77 425.0,305.68 425.2,305.77 425.5,305.66 425.8,305.77 426.0,305.67 426.2,305.78 426.5,305.74 426.8,305.75 427.0,305.77 427.2,305.69 427.5,305.75 427.8,305.79 428.0,305.74 428.2,305.77 428.5,305.77 428.8,305.78 429.0,305.78 429.2,305.78 429.5,305.70 429.8,305.72 430.0,305.77 430.2,305.72 430.5,305.79 430.8,305.75 431.0,305.79 431.2,305.82 431.5,305.83 431.8,305.77 432.0,305.76 432.2,305.77 432.5,305.80 432.8,305.82 433.0,305.74 433.2,305.80 433.5,305.82 433.8,305.78 434.0,305.76 434.2,305.72 434.5,305.72 434.8,305.83 435.0,305.78 435.2,305.76 435.5,305.75 435.8,305.73 436.0,305.81 436.2,305.74 436.5,305.84 436.8,305.82 437.0,305.85 437.2,305.76 437.5,305.79 437.8,305.85 438.0,305.74 438.2,305.74 438.5,305.80 438.8,305.85 439.0,305.81 439.2,305.79 439.5,305.83 439.8,305.81 440.0,305.83 440.2,305.84 440.5,305.84 440.8,305.85 441.0,305.82 441.2,305.74 441.5,305.83 441.8,305.77 442.0,305.74 442.2,305.85 442.5,305.84 442.8,305.85 443.0,305.83 443.2,305.85 443.5,305.76 443.8,305.83 444.0,305.84 444.2,305.86 444.5,305.87 444.8,305.79 445.0,305.75 445.2,305.86 445.5,305.76 445.8,305.80 446.0,305.79 446.2,305.85 446.5,305.88 446.8,305.78 447.0,305.86 447.2,305.86 447.5,305.75 447.8,305.84 448.0,305.80 448.2,305.88 448.5,305.88 448.8,305.83 449.0,305.87 449.2,305.78 449.5,305.84 449.8,305.78 450.0,305.86 450.2,305.86 450.5,305.76 450.8,305.83 451.0,305.85 451.2,305.74 451.5,305.80 451.8,305.78 452.0,305.87 452.2,305.84 452.5,305.87 452.8,305.74 453.0,305.86 453.2,305.81 453.5,305.87 453.8,305.88 454.0,305.77 454.2,305.85 454.5,305.82 454.8,305.86 455.0,305.82 455.2,305.81 455.5,305.88 455.8,305.77 456.0,305.84 456.2,305.78 456.5,305.76 456.8,305.77 457.0,305.77 457.2,305.83 457.5,305.76 457.8,305.84 458.0,305.80 458.2,305.77 458.5,305.79 458.8,305.88 459.0,305.81 459.2,305.86 459.5,305.75 459.8,305.87 460.0,305.88 460.2,305.88 460.5,305.77 460.8,305.77 461.0,305.87 461.2,305.79 461.5,305.82 461.8,305.78 462.0,305.78 462.2,305.83 462.5,305.87 462.8,305.75 463.0,305.87 463.2,305.76 463.5,305.86 463.8,305.78 464.0,305.88 464.2,305.75 464.5,305.84 464.8,305.87 465.0,305.80 465.2,305.85 465.5,305.83 465.8,305.83 466.0,305.87 466.2,305.75 466.5,305.82 466.8,305.85 467.0,305.87 467.2,305.86 467.5,305.83 467.8,305.83 468.0,305.81 468.2,305.84 468.5,305.86 468.8,305.79 469.0,305.81 469.2,305.84 469.5,305.86 469.8,305.84 470.0,305.81 470.2,305.87 470.5,305.85 470.8,305.79 471.0,305.81 471.2,305.83 471.5,305.80 471.8,305.87 472.0,305.87 472.2,305.85 472.5,305.87 472.8,305.79 473.0,305.82 473.2,305.81 473.5,305.75 473.8,305.80 474.0,305.85 474.2,305.77 474.5,305.76 474.8,305.80 475.0,305.81 475.2,305.80 475.5,305.84 475.8,305.84 476.0,305.86 476.2,305.86 476.5,305.85 476.8,305.87 477.0,305.75 477.2,305.84 477.5,305.84 477.8,305.78 478.0,305.87 478.2,305.79 478.5,305.73 478.8,305.79 479.0,305.78 479.2,305.73 479.5,305.85 479.8,305.82 480.0,305.84 480.2,305.85 480.5,305.80 480.8,305.73 481.0,305.85 481.2,305.84 481.5,305.72 481.8,305.77 482.0,305.75 482.2,305.74 482.5,305.80 482.8,305.82 483.0,305.85 483.2,305.83 483.5,305.84 483.8,305.79 484.0,305.79 484.2,305.83 484.5,305.80 484.8,305.76 485.0,305.83 485.2,305.84 485.5,305.80 485.8,305.76 486.0,305.75 486.2,305.78 486.5,305.78 486.8,305.81 487.0,305.73 487.2,305.75 487.5,305.79 487.8,305.75 488.0,305.75 488.2,305.76 488.5,305.77 488.8,305.76 489.0,305.77 489.2,305.77 489.5,305.75 489.8,305.68 490.0,305.73 490.2,305.74 490.5,305.74 490.8,305.65 491.0,305.71 491.2,305.68 491.5,305.69 491.8,305.58 492.0,305.59 492.2,305.59 492.5,305.61 492.8,305.65 493.0,305.62 493.2,305.59 493.5,305.61 493.8,305.53 494.0,305.60 494.2,305.60 494.5,305.45 494.8,305.46 495.0,305.53 495.2,305.50 495.5,305.49 495.8,305.49 496.0,305.38 496.2,305.38 496.5,305.37 496.8,305.42 497.0,305.32 497.2,305.38 497.5,305.27 497.8,305.35 498.0,305.23 498.2,305.31 498.5,305.26 498.8,305.22 499.0,305.17 499.2,305.21 499.5,305.22 499.8,305.17 500.0,305.14 500.2,305.12 500.5,305.14 500.8,305.11 501.0,305.06 501.2,305.00 501.5,305.03 501.8,305.01 502.0,304.98 502.2,304.99 502.5,304.90 502.8,304.95 503.0,304.96 503.2,304.93 503.5,304.90 503.8,304.93 504.0,304.88 504.2,304.91 504.5,304.91 504.8,304.89 505.0,304.90 505.2,304.89 505.5,304.92 505.8,304.92 506.0,304.81 506.2,304.85 506.5,304.87 506.8,304.85 507.0,304.96 507.2,304.99 507.5,304.95 507.8,304.96 508.0,304.98 508.2,305.02 508.5,305.06 508.8,305.07 509.0,305.08 509.2,305.02 509.5,305.09 509.8,305.15 510.0,305.12 510.2,305.10 510.5,305.19 510.8,305.23 511.0,305.20 511.2,305.16 511.5,305.27 511.8,305.31 512.0,305.32 512.2,305.25 512.5,305.26 512.8,305.31 513.0,305.37 513.2,305.36 513.5,305.39 513.8,305.38 514.0,305.41 514.2,305.47 514.5,305.43 514.8,305.51 515.0,305.48 515.2,305.54 515.5,305.57 515.8,305.59 516.0,305.58 516.2,305.51 516.5,305.63 516.8,305.64 517.0,305.65 517.2,305.58 517.5,305.63 517.8,305.68 518.0,305.66 518.2,305.62 518.5,305.70 518.8,305.73 519.0,305.74 519.2,305.65 519.5,305.76 519.8,305.67 520.0,305.72 520.2,305.77 520.5,305.78 520.8,305.72 521.0,305.79 521.2,305.79 521.5,305.77 521.8,305.76 522.0,305.79 522.2,305.80 522.5,305.77 522.8,305.77 523.0,305.80 523.2,305.81 523.5,305.76 523.8,305.82 524.0,305.77 524.2,305.80 524.5,305.73 524.8,305.75 525.0,305.83 525.2,305.82 525.5,305.77 525.8,305.83 526.0,305.75 526.2,305.81 526.5,305.76 526.8,305.84 527.0,305.75 527.2,305.82 527.5,305.83 527.8,305.85 528.0,305.82 528.2,305.83 528.5,305.76 528.8,305.84 529.0,305.79 529.2,305.87 529.5,305.76 529.8,305.87 530.0,305.79 530.2,305.85 530.5,305.84 530.8,305.84 531.0,305.83 531.2,305.86 531.5,305.88 531.8,305.86 532.0,305.86 532.2,305.86 532.5,305.84 532.8,305.84 533.0,305.74 533.2,305.74 533.5,305.88 533.8,305.86 534.0,305.80 534.2,305.87 534.5,305.87 534.8,305.82 535.0,305.79 535.2,305.87 535.5,305.85 535.8,305.89 536.0,305.88 536.2,305.87 536.5,305.89 536.8,305.81 537.0,305.79 537.2,305.85 537.5,305.88 537.8,305.88 538.0,305.90"/>
<polygon points="178.0,66.7 182.0,70.0 178.0,73.3 174.0,70.0" fill="#00007f"/>
<polygon points="203.5,93.6 207.5,96.9 203.5,100.2 199.5,96.9" fill="#00007f"/>
<polygon points="223.3,94.0 227.3,97.3 223.3,100.6 219.3,97.3" fill="#00007f"/>
<polygon points="252.6,19.1 256.6,22.4 252.6,25.7 248.6,22.4" fill="#00007f"/>
<polygon points="263.0,37.7 267.0,41.0 263.0,44.3 259.0,41.0" fill="#00007f"/>
<polygon points="272.0,107.1 276.0,110.4 272.0,113.7 268.0,110.4" fill="#00007f"/>
<polygon points="323.4,109.5 327.4,112.8 323.4,116.1 319.4,112.8" fill="#00007f"/>
<polygon points="430.0,109.5 434.0,112.8 430.0,116.1 426.0,112.8" fill="#00007f"/>
<rect x="43.3" y="9.4" width="496.35" height="319.3" fill="none" stroke="#000" stroke-width="3"/>
<line x1="84.6" y1="325.0" x2="84.6" y2="328" stroke="#000" stroke-width="2.6"/>
<line x1="126.0" y1="322.4" x2="126.0" y2="328" stroke="#000" stroke-width="2.6"/>
<line x1="167.3" y1="325.0" x2="167.3" y2="328" stroke="#000" stroke-width="2.6"/>
<line x1="208.7" y1="322.4" x2="208.7" y2="328" stroke="#000" stroke-width="2.6"/>
<line x1="250.1" y1="325.0" x2="250.1" y2="328" stroke="#000" stroke-width="2.6"/>
<line x1="291.4" y1="322.4" x2="291.4" y2="328" stroke="#000" stroke-width="2.6"/>
<line x1="332.8" y1="325.0" x2="332.8" y2="328" stroke="#000" stroke-width="2.6"/>
<line x1="374.1" y1="322.4" x2="374.1" y2="328" stroke="#000" stroke-width="2.6"/>
<line x1="415.4" y1="325.0" x2="415.4" y2="328" stroke="#000" stroke-width="2.6"/>
<line x1="456.8" y1="322.4" x2="456.8" y2="328" stroke="#000" stroke-width="2.6"/>
<line x1="498.1" y1="325.0" x2="498.1" y2="328" stroke="#000" stroke-width="2.6"/>
<g class="ser" font-size="15.3" fill="#000" text-anchor="middle">
<text x="43.2" y="346.1">20</text>
<text x="125.9" y="346.1">30</text>
<text x="208.6" y="346.1">40</text>
<text x="291.3" y="346.1">50</text>
<text x="374" y="346.1">60</text>
<text x="456.8" y="346.1">70</text>
<text x="539.5" y="346.1">80</text>
</g>
<text class="ser" transform="translate(290.9,371.8) scale(1.12,1)" font-size="16.5" font-weight="bold" text-anchor="middle">2θ (degree)</text>
<text class="ser" transform="translate(18.3,169.1) rotate(-90)" font-size="16.2" font-weight="bold" text-anchor="middle">Intensity (a.u.)</text>
<g stroke-width="2.2">
<line x1="427.3" y1="16" x2="459.8" y2="16" stroke="#00007f"/>
<line x1="427.3" y1="33.8" x2="459.8" y2="33.8" stroke="#008000"/>
<line x1="427.3" y1="51.6" x2="459.8" y2="51.6" stroke="#ff00ff"/>
<line x1="427.3" y1="69.6" x2="459.8" y2="69.6" stroke="#0000ff"/>
<line x1="427.3" y1="87.5" x2="459.8" y2="87.5" stroke="#ff0000"/>
<line x1="427.3" y1="105.6" x2="459.8" y2="105.6" stroke="#000"/>
</g>
<g class="ser" font-size="13" fill="#000">
<text transform="translate(463,20.3) scale(1.09,1)">Cu<tspan font-size="9" dy="3">3</tspan><tspan dy="-3">P</tspan></text>
<text transform="translate(463,38.1) scale(1.09,1)">Cu<tspan font-size="9" dy="3">3</tspan><tspan dy="-3">P/TiN-4</tspan></text>
<text transform="translate(463,55.9) scale(1.09,1)">Cu<tspan font-size="9" dy="3">3</tspan><tspan dy="-3">P/TiN-3</tspan></text>
<text transform="translate(463,73.9) scale(1.09,1)">Cu<tspan font-size="9" dy="3">3</tspan><tspan dy="-3">P/TiN-2</tspan></text>
<text transform="translate(463,91.8) scale(1.09,1)">Cu<tspan font-size="9" dy="3">3</tspan><tspan dy="-3">P/TiN-1</tspan></text>
<text transform="translate(463,109.7) scale(1.09,1)">TiN</text>
</g>
<g class="ser" font-size="15" fill="#00007f">
<text transform="translate(164.8,85.7) rotate(-90) scale(1,1.06)" text-anchor="middle">(112)</text>
<text transform="translate(207.4,73.4) rotate(-90) scale(1,1.06)" text-anchor="middle">(202)</text>
<text transform="translate(228.6,74.9) rotate(-90) scale(1,1.06)" text-anchor="middle">(211)</text>
<text transform="translate(243.2,33.9) rotate(-90) scale(1,1.06)" text-anchor="middle">(300)</text>
<text transform="translate(282.7,46.1) rotate(-90) scale(1,1.06)" text-anchor="middle">(113)</text>
<text transform="translate(292.8,99.8) rotate(-90) scale(1,1.06)" text-anchor="middle">(212)</text>
</g>
<text class="ser" font-size="15" fill="#000" text-anchor="middle" transform="scale(1.14,1)"><tspan x="44.30" y="30.9" font-size="19">*</tspan></text>
<text class="ser" font-size="14.6" fill="#000" text-anchor="middle" transform="translate(59.3,25.0) scale(1.85,0.8)">-</text>
<text class="ser" font-size="15" fill="#000" text-anchor="middle" transform="scale(1.14,1)"><tspan x="60.26" y="26.1">T</tspan><tspan x="68.51" y="26.1">i</tspan><tspan x="76.75" y="26.1">N</tspan><tspan x="85.00" y="26.1">:</tspan><tspan x="93.25" y="26.1">P</tspan><tspan x="101.49" y="26.1">D</tspan><tspan x="109.74" y="26.1">F</tspan><tspan x="117.98" y="26.1">#</tspan><tspan x="126.23" y="26.1">8</tspan><tspan x="134.47" y="26.1">7</tspan></text>
<text class="ser" font-size="14.6" fill="#000" text-anchor="middle" transform="translate(162.7,25.0) scale(1.85,0.8)">-</text>
<text class="ser" font-size="15" fill="#000" text-anchor="middle" transform="scale(1.14,1)"><tspan x="150.96" y="26.1">0</tspan><tspan x="159.21" y="26.1">6</tspan><tspan x="167.46" y="26.1">3</tspan><tspan x="175.70" y="26.1">3</tspan></text>
<polygon points="50.4,36 56.8,41.5 50.4,47 44,41.5" fill="#00007f"/>
<text class="ser" font-size="14.6" fill="#00007f" text-anchor="middle" transform="translate(62.9,44.6) scale(1.85,0.8)">-</text>
<text class="ser" font-size="15" fill="#00007f" text-anchor="middle" transform="scale(1.14,1)"><tspan x="64.12" y="45.7">C</tspan><tspan x="72.11" y="45.7">u</tspan><tspan x="78.07" y="50.4" font-size="11">3</tspan><tspan x="85.35" y="45.7">P</tspan><tspan x="93.95" y="45.7">:</tspan><tspan x="102.11" y="45.7">P</tspan><tspan x="110.31" y="45.7">D</tspan><tspan x="118.51" y="45.7">F</tspan><tspan x="126.71" y="45.7">#</tspan><tspan x="134.91" y="45.7">7</tspan><tspan x="143.11" y="45.7">1</tspan></text>
<text class="ser" font-size="14.6" fill="#00007f" text-anchor="middle" transform="translate(172.5,44.6) scale(1.85,0.8)">-</text>
<text class="ser" font-size="15" fill="#00007f" text-anchor="middle" transform="scale(1.14,1)"><tspan x="159.52" y="45.7">2</tspan><tspan x="167.72" y="45.7">2</tspan><tspan x="175.92" y="45.7">6</tspan><tspan x="184.12" y="45.7">1</tspan></text>

<g class="ser" font-size="15.5" fill="#000" text-anchor="middle">
<text transform="translate(190,318.8) scale(1.1,1)">(111)</text>
<text transform="translate(243.2,318.8) scale(1.1,1)">(200)</text>
<text transform="translate(401.4,317.4) scale(1.1,1)">(220)</text>
</g>
<g class="ser" font-size="14" fill="#000" stroke="#000" stroke-width="0.3" text-anchor="middle">
<text x="192.3" y="304.5">*</text>
<text x="241" y="301.8">*</text>
<text x="401.6" y="302.5">*</text>
</g>

</svg>
</body></html>
